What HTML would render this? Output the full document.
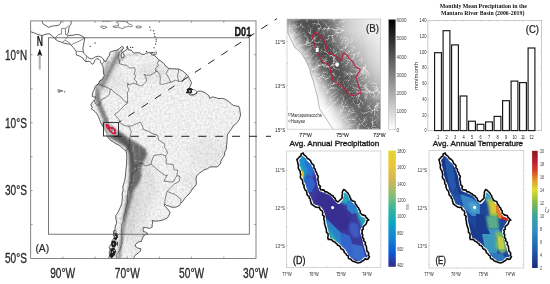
<!DOCTYPE html><html><head><meta charset="utf-8"><style>html,body{margin:0;padding:0;background:#fff;overflow:hidden}svg{display:block}text{font-family:"Liberation Sans",Arial,sans-serif}</style></head><body>
<svg width="550" height="284" viewBox="0 0 550 284">
<defs>
<clipPath id="clipA"><rect x="30.7" y="20.9" width="225.3" height="237.6"/></clipPath>
<clipPath id="clipSA"><path d="M27.5,17.5L27.5,29.0L31.0,31.8L34.6,33.1L37.8,34.5L42.0,35.5L46.1,34.1L49.4,33.8L52.6,36.2L55.8,39.6L58.4,41.3L60.3,41.6L63.5,43.0L67.7,44.0L70.6,44.0L70.9,45.0L73.2,47.4L75.1,49.8L76.4,51.8L76.1,53.5L76.7,55.2L78.3,55.5L80.3,56.5L83.2,58.2L83.8,59.9L85.7,61.6L89.6,61.3L91.2,63.0L92.2,64.3L93.8,63.3L94.7,60.6L96.7,58.6L98.9,59.3L100.2,60.6L100.9,63.0L101.8,64.3L103.1,66.7L103.4,69.8L103.4,72.2L103.8,74.5L104.4,75.5L103.4,77.2L102.2,79.6L99.9,80.6L98.9,82.7L98.3,84.0L96.0,85.4L95.1,86.4L94.7,88.1L93.8,90.5L92.8,92.2L92.5,94.2L92.2,96.3L94.1,97.3L95.4,96.6L95.4,98.6L94.4,100.0L93.8,101.0L92.2,102.4L90.9,104.7L91.5,106.1L92.2,107.5L91.2,108.8L93.1,110.2L95.4,111.9L96.7,113.6L98.3,116.3L99.6,119.7L100.9,123.1L102.5,125.8L103.8,127.8L104.4,129.5L105.4,131.2L106.7,133.6L107.0,135.6L107.9,137.3L109.6,139.4L110.5,140.4L112.8,141.7L116.0,143.8L118.6,145.1L120.8,146.5L123.1,148.5L124.4,149.9L126.3,151.6L126.6,154.3L126.9,157.4L126.6,160.1L126.6,164.1L126.0,168.9L125.6,173.6L125.3,177.0L124.7,180.4L123.7,183.8L122.8,187.2L123.1,190.3L122.1,194.0L122.4,197.4L122.1,200.8L121.8,203.5L120.2,207.6L118.9,210.3L117.3,213.7L115.7,215.4L116.0,219.5L116.6,222.2L116.3,223.9L115.3,226.3L115.0,229.6L114.1,231.3L113.4,234.7L114.4,236.8L113.4,238.8L112.1,240.8L111.8,243.2L110.2,245.6L109.2,247.6L110.2,250.0L109.2,252.7L109.6,255.1L108.9,257.8L109.2,260.5L111.8,263.6L120.8,265.3L132.4,265.3L131.8,260.5L133.4,258.5L134.7,256.1L136.6,254.1L139.2,252.4L140.5,251.0L140.8,248.7L137.6,248.0L135.3,246.3L135.3,244.6L138.5,241.9L141.4,241.5L141.7,240.2L142.7,238.1L143.3,235.8L145.6,234.7L147.9,233.7L145.6,232.0L143.3,231.7L143.0,227.6L145.6,227.6L149.8,228.3L152.4,226.9L152.0,225.6L152.7,222.9L152.0,220.5L154.6,221.2L159.4,220.8L163.6,219.8L167.5,217.8L169.4,214.4L170.1,212.0L168.5,210.3L167.5,208.6L164.6,206.2L164.3,204.9L164.6,203.9L166.2,205.5L168.5,205.9L171.7,207.2L175.9,207.2L179.4,205.5L180.7,203.5L182.9,201.1L184.9,198.1L186.2,196.7L189.1,194.0L191.0,191.3L193.2,187.9L195.8,185.5L196.5,182.5L196.1,180.4L196.1,177.7L197.1,175.3L199.7,173.0L203.5,170.2L207.7,168.6L210.0,166.9L213.5,166.9L217.4,166.9L220.6,163.5L220.9,161.1L222.8,157.7L224.5,155.3L224.8,151.9L226.4,148.9L226.7,144.5L227.0,141.4L227.0,139.0L227.4,134.9L228.6,132.9L231.2,129.5L233.1,126.1L235.4,124.4L237.7,121.7L239.3,119.3L240.2,116.3L240.6,114.2L240.2,112.5L239.6,108.5L238.9,106.4L236.7,106.1L233.5,105.4L231.9,104.4L228.6,101.3L224.8,99.0L222.2,98.3L219.0,98.6L216.7,98.0L212.9,96.9L210.9,97.6L209.7,98.6L209.0,95.9L206.8,93.9L203.9,92.2L201.3,91.2L198.4,91.2L196.8,92.2L195.5,93.9L193.2,95.2L189.7,94.9L187.4,91.2L189.1,88.8L190.3,86.1L191.6,82.7L189.4,78.9L188.1,75.9L186.5,74.2L184.2,72.2L182.3,70.8L180.4,69.8L178.8,69.1L174.9,68.8L172.3,68.8L168.8,68.4L167.5,67.4L165.2,65.7L164.3,64.0L162.3,62.0L160.1,60.6L158.5,59.6L156.2,56.9L154.3,55.5L151.7,54.8L150.8,53.5L152.0,53.1L153.3,52.5L152.0,52.5L148.2,52.8L145.9,53.1L144.3,54.5L141.4,54.2L139.8,52.8L136.9,52.8L133.7,53.1L132.7,51.8L131.1,50.1L128.2,49.8L127.9,47.7L126.6,47.4L127.3,48.7L126.3,49.8L124.0,51.4L122.4,52.1L123.7,53.8L124.0,56.2L123.1,57.9L121.5,57.2L121.1,54.8L122.1,52.5L121.5,51.4L122.1,49.8L123.7,48.4L123.1,47.0L121.8,46.5L121.1,47.0L119.2,48.7L116.3,50.4L113.7,50.8L111.8,51.4L110.2,52.1L109.6,53.5L109.2,56.2L107.9,57.2L106.7,59.6L105.4,62.0L104.7,60.6L103.4,59.3L101.5,57.2L98.3,56.2L95.4,56.9L92.5,58.6L90.9,58.9L88.0,57.6L86.7,56.2L85.4,54.8L84.1,53.5L83.2,51.8L83.2,49.8L82.8,48.1L83.5,45.3L84.1,41.6L84.8,37.9L82.2,36.2L79.6,34.8L76.4,34.5L73.2,35.2L68.7,35.5L66.4,34.8L68.4,32.8L68.7,29.4L69.3,26.0L70.9,24.3L71.3,20.9L72.5,17.5L61.6,17.5L61.3,20.9L60.6,23.3L58.7,25.0L57.1,25.7L54.8,25.7L51.6,26.3L48.4,27.3L46.1,25.7L43.6,24.3L42.6,22.9L42.0,20.9L39.7,17.5Z"/></clipPath>
<filter id="blur2" x="-20%" y="-20%" width="140%" height="140%"><feGaussianBlur stdDeviation="2"/></filter>
<filter id="blur1" x="-20%" y="-20%" width="140%" height="140%"><feGaussianBlur stdDeviation="1"/></filter>
<filter id="blur3" x="-30%" y="-30%" width="160%" height="160%"><feGaussianBlur stdDeviation="3"/></filter>
</defs>
<rect width="550" height="284" fill="#fff"/>
<g clip-path="url(#clipA)">
<path d="M27.5,17.5L27.5,29.0L31.0,31.8L34.6,33.1L37.8,34.5L42.0,35.5L46.1,34.1L49.4,33.8L52.6,36.2L55.8,39.6L58.4,41.3L60.3,41.6L63.5,43.0L67.7,44.0L70.6,44.0L70.9,45.0L73.2,47.4L75.1,49.8L76.4,51.8L76.1,53.5L76.7,55.2L78.3,55.5L80.3,56.5L83.2,58.2L83.8,59.9L85.7,61.6L89.6,61.3L91.2,63.0L92.2,64.3L93.8,63.3L94.7,60.6L96.7,58.6L98.9,59.3L100.2,60.6L100.9,63.0L101.8,64.3L103.1,66.7L103.4,69.8L103.4,72.2L103.8,74.5L104.4,75.5L103.4,77.2L102.2,79.6L99.9,80.6L98.9,82.7L98.3,84.0L96.0,85.4L95.1,86.4L94.7,88.1L93.8,90.5L92.8,92.2L92.5,94.2L92.2,96.3L94.1,97.3L95.4,96.6L95.4,98.6L94.4,100.0L93.8,101.0L92.2,102.4L90.9,104.7L91.5,106.1L92.2,107.5L91.2,108.8L93.1,110.2L95.4,111.9L96.7,113.6L98.3,116.3L99.6,119.7L100.9,123.1L102.5,125.8L103.8,127.8L104.4,129.5L105.4,131.2L106.7,133.6L107.0,135.6L107.9,137.3L109.6,139.4L110.5,140.4L112.8,141.7L116.0,143.8L118.6,145.1L120.8,146.5L123.1,148.5L124.4,149.9L126.3,151.6L126.6,154.3L126.9,157.4L126.6,160.1L126.6,164.1L126.0,168.9L125.6,173.6L125.3,177.0L124.7,180.4L123.7,183.8L122.8,187.2L123.1,190.3L122.1,194.0L122.4,197.4L122.1,200.8L121.8,203.5L120.2,207.6L118.9,210.3L117.3,213.7L115.7,215.4L116.0,219.5L116.6,222.2L116.3,223.9L115.3,226.3L115.0,229.6L114.1,231.3L113.4,234.7L114.4,236.8L113.4,238.8L112.1,240.8L111.8,243.2L110.2,245.6L109.2,247.6L110.2,250.0L109.2,252.7L109.6,255.1L108.9,257.8L109.2,260.5L111.8,263.6L120.8,265.3L132.4,265.3L131.8,260.5L133.4,258.5L134.7,256.1L136.6,254.1L139.2,252.4L140.5,251.0L140.8,248.7L137.6,248.0L135.3,246.3L135.3,244.6L138.5,241.9L141.4,241.5L141.7,240.2L142.7,238.1L143.3,235.8L145.6,234.7L147.9,233.7L145.6,232.0L143.3,231.7L143.0,227.6L145.6,227.6L149.8,228.3L152.4,226.9L152.0,225.6L152.7,222.9L152.0,220.5L154.6,221.2L159.4,220.8L163.6,219.8L167.5,217.8L169.4,214.4L170.1,212.0L168.5,210.3L167.5,208.6L164.6,206.2L164.3,204.9L164.6,203.9L166.2,205.5L168.5,205.9L171.7,207.2L175.9,207.2L179.4,205.5L180.7,203.5L182.9,201.1L184.9,198.1L186.2,196.7L189.1,194.0L191.0,191.3L193.2,187.9L195.8,185.5L196.5,182.5L196.1,180.4L196.1,177.7L197.1,175.3L199.7,173.0L203.5,170.2L207.7,168.6L210.0,166.9L213.5,166.9L217.4,166.9L220.6,163.5L220.9,161.1L222.8,157.7L224.5,155.3L224.8,151.9L226.4,148.9L226.7,144.5L227.0,141.4L227.0,139.0L227.4,134.9L228.6,132.9L231.2,129.5L233.1,126.1L235.4,124.4L237.7,121.7L239.3,119.3L240.2,116.3L240.6,114.2L240.2,112.5L239.6,108.5L238.9,106.4L236.7,106.1L233.5,105.4L231.9,104.4L228.6,101.3L224.8,99.0L222.2,98.3L219.0,98.6L216.7,98.0L212.9,96.9L210.9,97.6L209.7,98.6L209.0,95.9L206.8,93.9L203.9,92.2L201.3,91.2L198.4,91.2L196.8,92.2L195.5,93.9L193.2,95.2L189.7,94.9L187.4,91.2L189.1,88.8L190.3,86.1L191.6,82.7L189.4,78.9L188.1,75.9L186.5,74.2L184.2,72.2L182.3,70.8L180.4,69.8L178.8,69.1L174.9,68.8L172.3,68.8L168.8,68.4L167.5,67.4L165.2,65.7L164.3,64.0L162.3,62.0L160.1,60.6L158.5,59.6L156.2,56.9L154.3,55.5L151.7,54.8L150.8,53.5L152.0,53.1L153.3,52.5L152.0,52.5L148.2,52.8L145.9,53.1L144.3,54.5L141.4,54.2L139.8,52.8L136.9,52.8L133.7,53.1L132.7,51.8L131.1,50.1L128.2,49.8L127.9,47.7L126.6,47.4L127.3,48.7L126.3,49.8L124.0,51.4L122.4,52.1L123.7,53.8L124.0,56.2L123.1,57.9L121.5,57.2L121.1,54.8L122.1,52.5L121.5,51.4L122.1,49.8L123.7,48.4L123.1,47.0L121.8,46.5L121.1,47.0L119.2,48.7L116.3,50.4L113.7,50.8L111.8,51.4L110.2,52.1L109.6,53.5L109.2,56.2L107.9,57.2L106.7,59.6L105.4,62.0L104.7,60.6L103.4,59.3L101.5,57.2L98.3,56.2L95.4,56.9L92.5,58.6L90.9,58.9L88.0,57.6L86.7,56.2L85.4,54.8L84.1,53.5L83.2,51.8L83.2,49.8L82.8,48.1L83.5,45.3L84.1,41.6L84.8,37.9L82.2,36.2L79.6,34.8L76.4,34.5L73.2,35.2L68.7,35.5L66.4,34.8L68.4,32.8L68.7,29.4L69.3,26.0L70.9,24.3L71.3,20.9L72.5,17.5L61.6,17.5L61.3,20.9L60.6,23.3L58.7,25.0L57.1,25.7L54.8,25.7L51.6,26.3L48.4,27.3L46.1,25.7L43.6,24.3L42.6,22.9L42.0,20.9L39.7,17.5Z" fill="#f7f7f7"/>
<filter id="landtex" x="0" y="0" width="100%" height="100%"><feTurbulence type="fractalNoise" baseFrequency="0.45" numOctaves="2" seed="4"/><feColorMatrix type="matrix" values="0 0 0 0 0  0 0 0 0 0  0 0 0 0 0  0.24 0 0 0 -0.085"/></filter>
<g clip-path="url(#clipSA)">
<ellipse cx="207.7" cy="153.3" rx="19.2" ry="17.0" fill="#eeeeee" filter="url(#blur3)"/>
<ellipse cx="153.0" cy="71.8" rx="16.0" ry="8.5" fill="#ebebeb" filter="url(#blur3)"/>
<ellipse cx="191.6" cy="180.4" rx="9.6" ry="10.2" fill="#efefef" filter="url(#blur3)"/>
<ellipse cx="136.9" cy="231.3" rx="9.6" ry="20.4" fill="#ececec" filter="url(#blur3)"/>
<ellipse cx="117.6" cy="82.0" rx="9.6" ry="10.2" fill="#ededed" filter="url(#blur3)"/>
<path d="M128.0,150.0L146.0,150.0L150.0,160.0L147.0,175.0L146.0,195.0L140.0,215.0L132.0,232.0L126.0,240.0L124.0,225.0L127.0,205.0L130.0,185.0L130.0,165.0Z" fill="#dadada" filter="url(#blur3)"/>
<path d="M140.0,165.0L155.0,170.0L158.0,190.0L150.0,210.0L140.0,225.0L135.0,220.0L140.0,200.0Z" fill="#e8e8e8" filter="url(#blur3)"/>
<path d="M104.0,120.0L112.0,125.0L119.0,131.0L129.6,138.6L138.4,143.8L145.5,149.0L147.2,154.4L143.7,161.5L141.5,168.0L141.7,176.0L139.0,183.0L134.0,190.0L131.5,197.0L128.5,197.0L129.3,185.0L129.8,175.0L129.3,163.0L128.8,152.0L124.0,146.0L116.0,141.5L110.0,138.0L105.0,132.0L102.0,126.0Z" fill="#707070" filter="url(#blur1)"/>
<path d="M110.0,128.0L118.0,133.0L126.0,139.0L131.0,146.0L132.0,156.0L133.0,166.0L132.0,178.0L130.5,190.0L129.0,196.0L128.3,192.0L129.6,180.0L130.6,168.0L130.2,156.0L127.5,147.0L121.0,140.5L112.0,134.0Z" fill="#585858" filter="url(#blur1)"/>
<path d="M136.0,146.0L142.0,149.0L145.0,154.0L142.0,160.0L139.0,166.0L137.0,162.0L139.0,156.0Z" fill="#6a6a6a" filter="url(#blur1)"/>
<path d="M127.0,195.0L133.0,195.0L130.0,205.0L128.0,213.0L126.0,220.0L122.5,220.0L124.0,212.0L125.5,204.0Z" fill="#7c7c7c" filter="url(#blur1)"/>
<path d="M122.5,218.0L127.0,218.0L125.0,230.0L123.0,242.0L121.5,252.0L121.0,260.0L117.0,260.0L118.0,250.0L119.5,240.0L121.0,230.0Z" fill="#a0a0a0" filter="url(#blur1)"/>
<path d="M99.5,80.0L98.0,90.0L97.5,97.0L99.0,104.0L101.5,110.0L104.0,116.0L107.0,122.0" fill="none" stroke="#858585" stroke-width="5" stroke-linejoin="round" stroke-linecap="round" filter="url(#blur1)"/>
<path d="M101.0,88.0L106.0,78.0L110.0,70.0L114.0,62.0L118.0,55.0" fill="none" stroke="#c8c8c8" stroke-width="8" stroke-linejoin="round" stroke-linecap="round" filter="url(#blur2)"/>
<path d="M102.0,86.0L106.0,78.0L110.0,70.0L114.0,62.0L118.0,54.0" fill="none" stroke="#8a8a8a" stroke-width="3.4" stroke-linejoin="round" stroke-linecap="round" filter="url(#blur1)"/>
<path d="M101.0,82.0L103.5,75.0L106.5,68.0L108.0,62.0" fill="none" stroke="#a4a4a4" stroke-width="2.4" stroke-linejoin="round" stroke-linecap="round" filter="url(#blur1)"/>
<path d="M118.0,54.0L116.5,50.0L115.5,46.0" fill="none" stroke="#a8a8a8" stroke-width="2.4" stroke-linejoin="round" stroke-linecap="round" filter="url(#blur1)"/>
<path d="M116.0,63.0L121.0,59.0L125.0,56.0" fill="none" stroke="#a8a8a8" stroke-width="2.6" stroke-linejoin="round" stroke-linecap="round" filter="url(#blur1)"/>
<path d="M128.0,54.5L138.0,55.0" fill="none" stroke="#cfcfcf" stroke-width="2.2" stroke-linejoin="round" stroke-linecap="round" filter="url(#blur1)"/>
<path d="M112.5,49.5L115.0,49.0L114.5,51.0L112.5,51.0Z" fill="#a0a0a0" filter="url(#blur1)"/>
<rect x="0" y="0" width="300" height="284" filter="url(#landtex)"/>
<g fill="none" stroke="#fff" stroke-linecap="round" stroke-linejoin="round" stroke-opacity="0.20">
<path d="M119.5,51.5L119.5,50.5L120.5,49.5L119.5,48.5L119.5,47.5L119.5,46.5L119.5,45.5" stroke-width="0.61"/>
<path d="M119.5,56.5L119.5,57.5L120.5,58.5" stroke-width="0.53"/>
<path d="M120.5,57.5L120.5,58.5" stroke-width="0.53"/>
<path d="M120.5,58.5L120.5,59.5L121.5,60.5L121.5,61.5L122.5,61.5L123.5,61.5L124.5,61.5" stroke-width="0.66"/>
<path d="M117.5,61.5L117.5,62.5L117.5,63.5L117.5,64.5L118.5,64.5L119.5,64.5L120.5,64.5L121.5,65.5" stroke-width="0.63"/>
<path d="M108.5,65.5L107.5,64.5L106.5,64.5L105.5,64.5L104.5,64.5" stroke-width="0.70"/>
<path d="M107.5,68.5L106.5,68.5L105.5,67.5" stroke-width="0.64"/>
<path d="M105.5,73.5L105.5,72.5L105.5,71.5L105.5,70.5L105.5,69.5L105.5,68.5L105.5,67.5" stroke-width="0.64"/>
<path d="M103.5,76.5L102.5,76.5" stroke-width="0.52"/>
<path d="M101.5,82.5L101.5,81.5L100.5,80.5L100.5,79.5L100.5,78.5" stroke-width="0.56"/>
<path d="M105.5,84.5L106.5,84.5L107.5,84.5L108.5,84.5" stroke-width="0.55"/>
<path d="M98.5,86.5L98.5,87.5L99.5,88.5L100.5,88.5L101.5,89.5L102.5,90.5L102.5,91.5" stroke-width="0.60"/>
<path d="M100.5,98.5L101.5,97.5L102.5,97.5L103.5,96.5" stroke-width="0.55"/>
<path d="M101.5,101.5L102.5,101.5L103.5,101.5L104.5,101.5L105.5,101.5L106.5,101.5L107.5,101.5L108.5,101.5L109.5,101.5L110.5,101.5L111.5,101.5L112.5,101.5" stroke-width="0.95"/>
<path d="M94.5,102.5L93.5,103.5" stroke-width="0.51"/>
<path d="M100.5,113.5L99.5,113.5L98.5,113.5L97.5,113.5" stroke-width="0.65"/>
<path d="M105.5,123.5L105.5,124.5L105.5,125.5L105.5,126.5L105.5,127.5L105.5,128.5L106.5,129.5L107.5,130.5" stroke-width="0.57"/>
<path d="M109.5,124.5L110.5,124.5L111.5,124.5L112.5,124.5L113.5,124.5L114.5,124.5L115.5,124.5" stroke-width="0.60"/>
<path d="M107.5,129.5L107.5,130.5" stroke-width="0.57"/>
<path d="M107.5,130.5L108.5,131.5L108.5,132.5L108.5,133.5" stroke-width="0.74"/>
<path d="M112.5,130.5L111.5,130.5L110.5,131.5L109.5,132.5" stroke-width="0.53"/>
<path d="M116.5,130.5L116.5,129.5L116.5,128.5L117.5,127.5L117.5,126.5L118.5,126.5L119.5,125.5" stroke-width="0.72"/>
<path d="M109.5,131.5L109.5,132.5" stroke-width="0.53"/>
<path d="M109.5,132.5L109.5,133.5" stroke-width="0.62"/>
<path d="M121.5,132.5L121.5,131.5L121.5,130.5L122.5,130.5" stroke-width="0.84"/>
<path d="M108.5,133.5L107.5,133.5L106.5,133.5L105.5,133.5" stroke-width="0.77"/>
<path d="M109.5,133.5L108.5,133.5" stroke-width="0.74"/>
<path d="M111.5,133.5L110.5,133.5L109.5,133.5" stroke-width="0.62"/>
<path d="M117.5,133.5L117.5,132.5L117.5,131.5L117.5,130.5L117.5,129.5L118.5,128.5L119.5,127.5L120.5,127.5" stroke-width="0.79"/>
<path d="M110.5,134.5L109.5,134.5L109.5,133.5" stroke-width="0.62"/>
<path d="M125.5,135.5L126.5,134.5L127.5,134.5" stroke-width="0.61"/>
<path d="M111.5,138.5L111.5,139.5L110.5,140.5L110.5,141.5" stroke-width="0.58"/>
<path d="M113.5,138.5L113.5,139.5L113.5,140.5" stroke-width="0.50"/>
<path d="M117.5,139.5L116.5,140.5L115.5,141.5L114.5,142.5L113.5,143.5L112.5,143.5L111.5,143.5L110.5,143.5" stroke-width="0.79"/>
<path d="M113.5,140.5L112.5,141.5L112.5,142.5L111.5,142.5L110.5,142.5" stroke-width="0.68"/>
<path d="M114.5,140.5L113.5,140.5" stroke-width="0.50"/>
<path d="M118.5,140.5L117.5,141.5L117.5,142.5L116.5,143.5L115.5,144.5L114.5,144.5L113.5,144.5L112.5,144.5L111.5,144.5" stroke-width="0.58"/>
<path d="M127.5,140.5L127.5,139.5L127.5,138.5L127.5,137.5L127.5,136.5L127.5,135.5L127.5,134.5" stroke-width="0.61"/>
<path d="M131.5,141.5L132.5,140.5L133.5,139.5L133.5,138.5" stroke-width="0.58"/>
<path d="M118.5,142.5L118.5,143.5L118.5,144.5L117.5,145.5L116.5,145.5L116.5,146.5L116.5,147.5" stroke-width="0.67"/>
<path d="M121.5,143.5L121.5,144.5L120.5,145.5L119.5,146.5L118.5,146.5L117.5,146.5L116.5,147.5" stroke-width="0.67"/>
<path d="M132.5,143.5L133.5,142.5L134.5,141.5L134.5,140.5L134.5,139.5L134.5,138.5L134.5,137.5" stroke-width="0.68"/>
<path d="M139.5,144.5L140.5,143.5" stroke-width="0.49"/>
<path d="M122.5,145.5L123.5,146.5L123.5,147.5L124.5,148.5" stroke-width="0.63"/>
<path d="M124.5,146.5L124.5,147.5" stroke-width="0.50"/>
<path d="M138.5,146.5L139.5,145.5L140.5,144.5L140.5,143.5" stroke-width="0.49"/>
<path d="M124.5,147.5L124.5,148.5" stroke-width="0.63"/>
<path d="M125.5,147.5L124.5,147.5" stroke-width="0.50"/>
<path d="M133.5,147.5L133.5,146.5L133.5,145.5L134.5,144.5L135.5,143.5L136.5,142.5L137.5,141.5" stroke-width="0.76"/>
<path d="M142.5,147.5L142.5,146.5L142.5,145.5L142.5,144.5L141.5,143.5" stroke-width="0.71"/>
<path d="M124.5,148.5L123.5,149.5L123.5,150.5" stroke-width="0.69"/>
<path d="M125.5,148.5L124.5,148.5" stroke-width="0.63"/>
<path d="M132.5,148.5L133.5,147.5" stroke-width="0.69"/>
<path d="M133.5,149.5L133.5,148.5L133.5,147.5" stroke-width="0.69"/>
<path d="M132.5,151.5L132.5,150.5L133.5,149.5" stroke-width="0.63"/>
<path d="M146.5,151.5L147.5,151.5L148.5,151.5L149.5,151.5L150.5,152.5L150.5,153.5" stroke-width="0.90"/>
<path d="M126.5,152.5L125.5,152.5L125.5,153.5" stroke-width="0.79"/>
<path d="M128.5,153.5L127.5,154.5L126.5,154.5" stroke-width="0.52"/>
<path d="M134.5,154.5L135.5,153.5L134.5,152.5L134.5,151.5L133.5,150.5L133.5,149.5" stroke-width="0.63"/>
<path d="M127.5,155.5L126.5,154.5" stroke-width="0.52"/>
<path d="M134.5,155.5L134.5,154.5" stroke-width="0.48"/>
<path d="M135.5,155.5L134.5,154.5" stroke-width="0.48"/>
<path d="M126.5,156.5L125.5,156.5" stroke-width="0.67"/>
<path d="M139.5,156.5L139.5,155.5L139.5,154.5L139.5,153.5L139.5,152.5L139.5,151.5L139.5,150.5L139.5,149.5L139.5,148.5L139.5,147.5L139.5,146.5L140.5,145.5L141.5,144.5L141.5,143.5" stroke-width="0.71"/>
<path d="M146.5,156.5L147.5,156.5L148.5,156.5L149.5,155.5" stroke-width="0.57"/>
<path d="M134.5,158.5L135.5,159.5L135.5,160.5" stroke-width="0.57"/>
<path d="M134.5,160.5L135.5,160.5" stroke-width="0.57"/>
<path d="M135.5,160.5L136.5,160.5L137.5,160.5L138.5,161.5L139.5,161.5" stroke-width="0.65"/>
<path d="M139.5,160.5L139.5,161.5" stroke-width="0.65"/>
<path d="M143.5,160.5L144.5,161.5L145.5,161.5" stroke-width="0.51"/>
<path d="M139.5,161.5L140.5,161.5L141.5,161.5L142.5,161.5L143.5,161.5L144.5,162.5L145.5,162.5" stroke-width="0.75"/>
<path d="M127.5,162.5L126.5,162.5L125.5,162.5L124.5,161.5L123.5,161.5L122.5,161.5" stroke-width="0.54"/>
<path d="M134.5,162.5L135.5,161.5L135.5,160.5" stroke-width="0.57"/>
<path d="M137.5,163.5L138.5,163.5L139.5,164.5L140.5,165.5L141.5,166.5L142.5,166.5L143.5,167.5" stroke-width="0.70"/>
<path d="M130.5,166.5L129.5,166.5L128.5,166.5L127.5,166.5L126.5,166.5L125.5,165.5L124.5,165.5" stroke-width="0.62"/>
<path d="M134.5,168.5L135.5,168.5" stroke-width="0.49"/>
<path d="M135.5,168.5L136.5,168.5L137.5,167.5L138.5,167.5L139.5,167.5L140.5,167.5L141.5,167.5L142.5,167.5L143.5,167.5" stroke-width="0.70"/>
<path d="M134.5,169.5L135.5,168.5" stroke-width="0.49"/>
<path d="M138.5,170.5L139.5,170.5L140.5,170.5L141.5,170.5L142.5,170.5L143.5,171.5" stroke-width="0.82"/>
<path d="M140.5,171.5L141.5,171.5L142.5,171.5L143.5,171.5" stroke-width="0.82"/>
<path d="M140.5,172.5L141.5,172.5L142.5,172.5L143.5,172.5" stroke-width="0.84"/>
<path d="M140.5,173.5L141.5,173.5L142.5,173.5L143.5,172.5" stroke-width="0.84"/>
<path d="M133.5,174.5L133.5,175.5L133.5,176.5L133.5,177.5L133.5,178.5L133.5,179.5L133.5,180.5L132.5,181.5L131.5,180.5L130.5,180.5L129.5,180.5L128.5,180.5L127.5,180.5L126.5,181.5" stroke-width="0.84"/>
<path d="M141.5,174.5L142.5,174.5L143.5,174.5L144.5,174.5" stroke-width="0.89"/>
<path d="M139.5,175.5L140.5,176.5L141.5,177.5L142.5,177.5L142.5,178.5" stroke-width="0.55"/>
<path d="M140.5,177.5L141.5,178.5L142.5,178.5" stroke-width="0.55"/>
<path d="M139.5,180.5L140.5,181.5L141.5,181.5L142.5,181.5" stroke-width="0.66"/>
<path d="M132.5,184.5L131.5,184.5L130.5,185.5L129.5,185.5L128.5,185.5L127.5,185.5L126.5,185.5" stroke-width="0.88"/>
<path d="M128.5,186.5L127.5,186.5L126.5,186.5" stroke-width="0.89"/>
<path d="M128.5,191.5L127.5,190.5L126.5,190.5L125.5,190.5" stroke-width="0.93"/>
<path d="M127.5,192.5L126.5,192.5L126.5,193.5" stroke-width="0.54"/>
<path d="M127.5,194.5L126.5,194.5L126.5,193.5" stroke-width="0.54"/>
<path d="M133.5,196.5L134.5,196.5L135.5,196.5L136.5,197.5L137.5,197.5L138.5,196.5L139.5,196.5L140.5,195.5" stroke-width="0.68"/>
<path d="M126.5,198.5L125.5,198.5L124.5,198.5L123.5,198.5" stroke-width="0.49"/>
<path d="M125.5,206.5L124.5,206.5L123.5,206.5L122.5,207.5L121.5,207.5" stroke-width="0.83"/>
<path d="M128.5,211.5L129.5,211.5L130.5,211.5" stroke-width="0.86"/>
<path d="M126.5,218.5L127.5,218.5L127.5,219.5L127.5,220.5L127.5,221.5L127.5,222.5L127.5,223.5L127.5,224.5L127.5,225.5L127.5,226.5" stroke-width="0.64"/>
<path d="M119.5,235.5L119.5,234.5L118.5,233.5L118.5,232.5L118.5,231.5" stroke-width="0.84"/>
<path d="M119.5,240.5L119.5,239.5L119.5,238.5L119.5,237.5L119.5,236.5L119.5,235.5" stroke-width="0.82"/>
<path d="M110.5,246.5L109.5,245.5L109.5,244.5L110.5,243.5L110.5,242.5L110.5,241.5L110.5,240.5" stroke-width="0.67"/>
<path d="M118.5,248.5L118.5,247.5L118.5,246.5L117.5,245.5" stroke-width="0.68"/>
<path d="M109.5,250.5L108.5,250.5" stroke-width="0.53"/>
<path d="M110.5,252.5L109.5,251.5L108.5,251.5L108.5,250.5" stroke-width="0.53"/>
<path d="M117.5,254.5L118.5,254.5L118.5,255.5L119.5,256.5L120.5,256.5L121.5,256.5L122.5,256.5L123.5,256.5L124.5,256.5L125.5,255.5L125.5,254.5" stroke-width="0.68"/>
</g>
<path d="M27.5,17.5L27.5,54.8L102.8,65.0L103.9,61.0L103.4,59.3L106.3,48.1L79.0,14.1Z" fill="#fff"/>
</g>
<path d="M112.9,26.5L115.0,27.5L118.2,27.2L121.8,28.5L122.8,29.0L124.0,27.0L126.6,27.0L128.5,26.2L131.4,27.0L132.6,25.7L130.8,24.5L128.5,24.0L127.6,22.3L124.7,21.4L121.8,21.4L118.2,21.1L116.3,22.1L118.2,23.3L118.6,25.7L116.3,25.8Z" fill="#fff" stroke="#333" stroke-width="0.6"/>
<path d="M100.4,26.7L101.8,26.0L104.7,26.2L107.0,27.3L105.4,28.0L104.1,28.7L102.2,28.0Z" fill="#fff" stroke="#333" stroke-width="0.6"/>
<path d="M136.1,26.3L138.2,26.0L141.4,26.5L141.1,27.7L137.2,27.9L136.3,27.7Z" fill="#fff" stroke="#333" stroke-width="0.6"/>
<path d="M153.3,54.7L154.6,52.1L156.5,52.0L156.2,54.5Z" fill="#fff" stroke="#333" stroke-width="0.6"/>
<path d="M189.1,89.8L193.9,89.5L196.8,91.5L196.5,93.9L193.2,94.6L190.3,93.9Z" fill="#fff" stroke="#333" stroke-width="0.6"/>
<path d="M113.7,230.7L116.0,230.7L116.3,235.8L113.4,235.8Z" fill="#fff" stroke="#333" stroke-width="0.6"/>
<path d="M101.5,19.2L102.5,21.4L104.7,21.1L109.6,21.2L114.1,20.2L114.4,18.9Z" fill="#fff" stroke="#333" stroke-width="0.6"/>
<path d="M57.7,89.8L59.3,89.8L60.0,92.2L58.4,92.2Z" fill="#fff" stroke="#333" stroke-width="0.6"/>
<path d="M60.3,90.1L62.6,90.5L62.2,91.5L60.6,91.5Z" fill="#fff" stroke="#333" stroke-width="0.6"/>
<path d="M64.2,91.5L65.1,91.8L64.5,92.2Z" fill="#fff" stroke="#333" stroke-width="0.6"/>
<circle cx="156.2" cy="41.3" r="0.7" fill="#444"/>
<circle cx="155.6" cy="44.0" r="0.7" fill="#444"/>
<circle cx="154.0" cy="47.7" r="0.7" fill="#444"/>
<circle cx="154.9" cy="36.5" r="0.7" fill="#444"/>
<circle cx="154.3" cy="33.8" r="0.7" fill="#444"/>
<circle cx="153.6" cy="30.7" r="0.7" fill="#444"/>
<circle cx="150.8" cy="30.1" r="0.7" fill="#444"/>
<circle cx="149.8" cy="27.3" r="0.7" fill="#444"/>
<circle cx="156.2" cy="39.2" r="0.7" fill="#444"/>
<circle cx="127.3" cy="46.4" r="0.7" fill="#444"/>
<circle cx="130.5" cy="47.4" r="0.7" fill="#444"/>
<circle cx="132.7" cy="47.4" r="0.7" fill="#444"/>
<circle cx="146.6" cy="51.4" r="0.7" fill="#444"/>
<circle cx="90.2" cy="46.4" r="0.7" fill="#444"/>
<circle cx="95.1" cy="43.0" r="0.7" fill="#444"/>
<path d="M27.5,17.5L27.5,29.0L31.0,31.8L34.6,33.1L37.8,34.5L42.0,35.5L46.1,34.1L49.4,33.8L52.6,36.2L55.8,39.6L58.4,41.3L60.3,41.6L63.5,43.0L67.7,44.0L70.6,44.0L70.9,45.0L73.2,47.4L75.1,49.8L76.4,51.8L76.1,53.5L76.7,55.2L78.3,55.5L80.3,56.5L83.2,58.2L83.8,59.9L85.7,61.6L89.6,61.3L91.2,63.0L92.2,64.3L93.8,63.3L94.7,60.6L96.7,58.6L98.9,59.3L100.2,60.6L100.9,63.0L101.8,64.3L103.1,66.7L103.4,69.8L103.4,72.2L103.8,74.5L104.4,75.5L103.4,77.2L102.2,79.6L99.9,80.6L98.9,82.7L98.3,84.0L96.0,85.4L95.1,86.4L94.7,88.1L93.8,90.5L92.8,92.2L92.5,94.2L92.2,96.3L94.1,97.3L95.4,96.6L95.4,98.6L94.4,100.0L93.8,101.0L92.2,102.4L90.9,104.7L91.5,106.1L92.2,107.5L91.2,108.8L93.1,110.2L95.4,111.9L96.7,113.6L98.3,116.3L99.6,119.7L100.9,123.1L102.5,125.8L103.8,127.8L104.4,129.5L105.4,131.2L106.7,133.6L107.0,135.6L107.9,137.3L109.6,139.4L110.5,140.4L112.8,141.7L116.0,143.8L118.6,145.1L120.8,146.5L123.1,148.5L124.4,149.9L126.3,151.6L126.6,154.3L126.9,157.4L126.6,160.1L126.6,164.1L126.0,168.9L125.6,173.6L125.3,177.0L124.7,180.4L123.7,183.8L122.8,187.2L123.1,190.3L122.1,194.0L122.4,197.4L122.1,200.8L121.8,203.5L120.2,207.6L118.9,210.3L117.3,213.7L115.7,215.4L116.0,219.5L116.6,222.2L116.3,223.9L115.3,226.3L115.0,229.6L114.1,231.3L113.4,234.7L114.4,236.8L113.4,238.8L112.1,240.8L111.8,243.2L110.2,245.6L109.2,247.6L110.2,250.0L109.2,252.7L109.6,255.1L108.9,257.8L109.2,260.5L111.8,263.6L120.8,265.3L132.4,265.3L131.8,260.5L133.4,258.5L134.7,256.1L136.6,254.1L139.2,252.4L140.5,251.0L140.8,248.7L137.6,248.0L135.3,246.3L135.3,244.6L138.5,241.9L141.4,241.5L141.7,240.2L142.7,238.1L143.3,235.8L145.6,234.7L147.9,233.7L145.6,232.0L143.3,231.7L143.0,227.6L145.6,227.6L149.8,228.3L152.4,226.9L152.0,225.6L152.7,222.9L152.0,220.5L154.6,221.2L159.4,220.8L163.6,219.8L167.5,217.8L169.4,214.4L170.1,212.0L168.5,210.3L167.5,208.6L164.6,206.2L164.3,204.9L164.6,203.9L166.2,205.5L168.5,205.9L171.7,207.2L175.9,207.2L179.4,205.5L180.7,203.5L182.9,201.1L184.9,198.1L186.2,196.7L189.1,194.0L191.0,191.3L193.2,187.9L195.8,185.5L196.5,182.5L196.1,180.4L196.1,177.7L197.1,175.3L199.7,173.0L203.5,170.2L207.7,168.6L210.0,166.9L213.5,166.9L217.4,166.9L220.6,163.5L220.9,161.1L222.8,157.7L224.5,155.3L224.8,151.9L226.4,148.9L226.7,144.5L227.0,141.4L227.0,139.0L227.4,134.9L228.6,132.9L231.2,129.5L233.1,126.1L235.4,124.4L237.7,121.7L239.3,119.3L240.2,116.3L240.6,114.2L240.2,112.5L239.6,108.5L238.9,106.4L236.7,106.1L233.5,105.4L231.9,104.4L228.6,101.3L224.8,99.0L222.2,98.3L219.0,98.6L216.7,98.0L212.9,96.9L210.9,97.6L209.7,98.6L209.0,95.9L206.8,93.9L203.9,92.2L201.3,91.2L198.4,91.2L196.8,92.2L195.5,93.9L193.2,95.2L189.7,94.9L187.4,91.2L189.1,88.8L190.3,86.1L191.6,82.7L189.4,78.9L188.1,75.9L186.5,74.2L184.2,72.2L182.3,70.8L180.4,69.8L178.8,69.1L174.9,68.8L172.3,68.8L168.8,68.4L167.5,67.4L165.2,65.7L164.3,64.0L162.3,62.0L160.1,60.6L158.5,59.6L156.2,56.9L154.3,55.5L151.7,54.8L150.8,53.5L152.0,53.1L153.3,52.5L152.0,52.5L148.2,52.8L145.9,53.1L144.3,54.5L141.4,54.2L139.8,52.8L136.9,52.8L133.7,53.1L132.7,51.8L131.1,50.1L128.2,49.8L127.9,47.7L126.6,47.4L127.3,48.7L126.3,49.8L124.0,51.4L122.4,52.1L123.7,53.8L124.0,56.2L123.1,57.9L121.5,57.2L121.1,54.8L122.1,52.5L121.5,51.4L122.1,49.8L123.7,48.4L123.1,47.0L121.8,46.5L121.1,47.0L119.2,48.7L116.3,50.4L113.7,50.8L111.8,51.4L110.2,52.1L109.6,53.5L109.2,56.2L107.9,57.2L106.7,59.6L105.4,62.0L104.7,60.6L103.4,59.3L101.5,57.2L98.3,56.2L95.4,56.9L92.5,58.6L90.9,58.9L88.0,57.6L86.7,56.2L85.4,54.8L84.1,53.5L83.2,51.8L83.2,49.8L82.8,48.1L83.5,45.3L84.1,41.6L84.8,37.9L82.2,36.2L79.6,34.8L76.4,34.5L73.2,35.2L68.7,35.5L66.4,34.8L68.4,32.8L68.7,29.4L69.3,26.0L70.9,24.3L71.3,20.9L72.5,17.5L61.6,17.5L61.3,20.9L60.6,23.3L58.7,25.0L57.1,25.7L54.8,25.7L51.6,26.3L48.4,27.3L46.1,25.7L43.6,24.3L42.6,22.9L42.0,20.9L39.7,17.5Z" fill="none" stroke="#2a2a2a" stroke-width="0.75" stroke-linejoin="round"/>
<path d="M103.4,59.3L104.1,62.0L101.8,64.3" fill="none" stroke="#3a3a3a" stroke-width="0.6" stroke-linejoin="round"/>
<path d="M123.1,48.6L120.2,51.1L119.2,53.1L117.9,57.2L119.5,60.6L119.5,63.7L124.0,65.0L126.9,65.4L129.2,68.1L134.3,67.7L135.3,70.1L134.3,73.5L135.6,76.2L134.3,79.3L136.3,81.0L136.9,83.7L137.2,84.7" fill="none" stroke="#3a3a3a" stroke-width="0.6" stroke-linejoin="round"/>
<path d="M137.2,84.7L133.1,83.0L128.9,85.1L127.9,83.0L127.3,86.7L128.9,88.8L128.5,90.5L127.3,92.2L127.6,95.6L127.6,103.0" fill="none" stroke="#3a3a3a" stroke-width="0.6" stroke-linejoin="round"/>
<path d="M127.6,103.0L125.0,101.7L120.8,96.9L115.3,93.2L111.8,89.5L110.2,89.1" fill="none" stroke="#3a3a3a" stroke-width="0.6" stroke-linejoin="round"/>
<path d="M110.2,89.1L107.0,87.4L103.4,86.1L98.9,84.0" fill="none" stroke="#3a3a3a" stroke-width="0.6" stroke-linejoin="round"/>
<path d="M110.2,89.1L109.6,93.9L106.0,97.6L102.2,99.0L100.2,101.7L99.6,104.7L97.3,105.4L95.4,103.7L94.1,100.3" fill="none" stroke="#3a3a3a" stroke-width="0.6" stroke-linejoin="round"/>
<path d="M127.6,103.0L124.0,105.8L117.9,112.2L115.0,113.9L114.7,114.9L118.9,119.3L119.9,122.7L125.3,126.1L128.5,126.0" fill="none" stroke="#3a3a3a" stroke-width="0.6" stroke-linejoin="round"/>
<path d="M128.5,126.0L131.4,131.2L130.8,133.6L129.5,139.7L129.8,143.8L128.5,147.5" fill="none" stroke="#3a3a3a" stroke-width="0.6" stroke-linejoin="round"/>
<path d="M128.5,147.5L126.0,151.1" fill="none" stroke="#3a3a3a" stroke-width="0.6" stroke-linejoin="round"/>
<path d="M128.5,147.5L130.5,151.6L132.1,155.0L132.1,160.1L134.3,166.2L136.3,166.2" fill="none" stroke="#3a3a3a" stroke-width="0.6" stroke-linejoin="round"/>
<path d="M128.5,126.0L131.4,126.1L140.1,122.0L142.4,125.8L143.3,129.5L148.2,131.2L153.0,133.9L157.8,135.3L158.5,140.0L164.9,144.1L164.6,147.5L166.5,149.9L167.5,153.3L165.2,156.0" fill="none" stroke="#3a3a3a" stroke-width="0.6" stroke-linejoin="round"/>
<path d="M165.2,156.0L162.3,154.3L154.0,155.3L152.0,160.1L151.1,164.1" fill="none" stroke="#3a3a3a" stroke-width="0.6" stroke-linejoin="round"/>
<path d="M151.1,164.1L145.6,166.2L143.3,163.8L139.2,162.8L136.3,166.2" fill="none" stroke="#3a3a3a" stroke-width="0.6" stroke-linejoin="round"/>
<path d="M136.3,166.2L136.9,170.2L132.4,173.6L131.8,180.4L130.5,183.8L127.9,190.6L127.3,197.4L127.6,202.5L126.0,207.6L125.3,212.7L123.7,216.1L124.0,221.2L121.8,224.6L121.5,231.3L121.8,238.1L122.1,243.2L120.8,246.6L119.9,250.0L116.0,255.1L117.0,260.2L119.2,263.6" fill="none" stroke="#3a3a3a" stroke-width="0.6" stroke-linejoin="round"/>
<path d="M151.1,164.1L156.2,168.6L161.1,172.6L165.9,176.0L167.2,175.0L163.9,181.1L170.7,182.1L173.3,181.8L176.8,175.7" fill="none" stroke="#3a3a3a" stroke-width="0.6" stroke-linejoin="round"/>
<path d="M176.8,175.7L179.4,176.0L180.0,178.1L179.4,181.1L174.6,183.8L172.3,185.9L167.2,191.3" fill="none" stroke="#3a3a3a" stroke-width="0.6" stroke-linejoin="round"/>
<path d="M167.2,191.3L165.9,195.7L165.2,199.1L164.6,203.9" fill="none" stroke="#3a3a3a" stroke-width="0.6" stroke-linejoin="round"/>
<path d="M167.2,191.3L172.3,193.7L173.9,193.7L177.1,196.0L181.0,199.4L180.7,203.2" fill="none" stroke="#3a3a3a" stroke-width="0.6" stroke-linejoin="round"/>
<path d="M176.8,175.7L177.8,170.2L174.2,169.9L173.0,164.5L166.2,163.8L166.2,158.7L165.2,156.0" fill="none" stroke="#3a3a3a" stroke-width="0.6" stroke-linejoin="round"/>
<path d="M159.4,59.9L157.2,63.3L158.5,65.7L155.9,67.7L155.6,71.1L157.2,71.1" fill="none" stroke="#3a3a3a" stroke-width="0.6" stroke-linejoin="round"/>
<path d="M157.2,71.1L150.4,75.2L146.6,75.2L144.0,74.5L145.9,77.2L146.6,81.0L141.7,86.1L137.2,84.7" fill="none" stroke="#3a3a3a" stroke-width="0.6" stroke-linejoin="round"/>
<path d="M157.2,71.1L159.8,74.5L160.4,78.6L159.8,84.0L162.7,84.4L165.9,83.4L170.7,82.3" fill="none" stroke="#3a3a3a" stroke-width="0.6" stroke-linejoin="round"/>
<path d="M170.7,82.3L168.5,77.2L166.2,73.5L168.8,68.4" fill="none" stroke="#3a3a3a" stroke-width="0.6" stroke-linejoin="round"/>
<path d="M170.7,82.3L175.5,80.3L178.8,81.3" fill="none" stroke="#3a3a3a" stroke-width="0.6" stroke-linejoin="round"/>
<path d="M178.8,81.3L177.5,76.9L178.8,69.4" fill="none" stroke="#3a3a3a" stroke-width="0.6" stroke-linejoin="round"/>
<path d="M178.8,81.3L182.3,81.3L185.2,76.9L186.5,74.2" fill="none" stroke="#3a3a3a" stroke-width="0.6" stroke-linejoin="round"/>
<path d="M86.7,56.2L85.7,61.6" fill="none" stroke="#3a3a3a" stroke-width="0.6" stroke-linejoin="round"/>
<path d="M83.2,51.8L76.7,51.1" fill="none" stroke="#3a3a3a" stroke-width="0.6" stroke-linejoin="round"/>
<path d="M84.8,37.9L79.0,41.3L73.5,43.6L71.6,45.0" fill="none" stroke="#3a3a3a" stroke-width="0.6" stroke-linejoin="round"/>
<path d="M70.0,43.3L64.8,39.9" fill="none" stroke="#3a3a3a" stroke-width="0.6" stroke-linejoin="round"/>
<path d="M68.7,35.5L65.5,39.2" fill="none" stroke="#3a3a3a" stroke-width="0.6" stroke-linejoin="round"/>
<path d="M64.8,39.9L62.6,42.3" fill="none" stroke="#3a3a3a" stroke-width="0.6" stroke-linejoin="round"/>
<path d="M55.8,39.6L55.8,37.2L58.4,34.5L61.6,34.1L61.6,28.4L65.5,28.4" fill="none" stroke="#3a3a3a" stroke-width="0.6" stroke-linejoin="round"/>
<path d="M65.5,28.4L65.5,34.8" fill="none" stroke="#3a3a3a" stroke-width="0.6" stroke-linejoin="round"/>
<path d="M65.5,28.4L68.4,26.0" fill="none" stroke="#3a3a3a" stroke-width="0.6" stroke-linejoin="round"/>
<path d="M186.5,89.5 L189,87.8 L191.5,88.2 L193.2,89.6 L191.6,90.4 L192.4,92.2 L190,93.6 L188.6,92.4 L187,93.8 L185.8,92.2 L187.4,91Z" fill="#1a1a1a"/>
<path d="M188.8,90.2 L190.6,90.6 L190.2,91.8 L188.9,91.5Z" fill="#fff"/>
<path d="M114.2,232.5L117.5,233.5L118.0,237.0L116.0,240.5L113.8,239.0L114.8,236.0Z" fill="#1e1e1e" filter="url(#fb0_6)"/>
<path d="M111.8,241.0L115.2,240.2L116.6,244.0L115.0,247.5L112.2,247.5L111.0,244.5Z" fill="#1e1e1e" filter="url(#fb0_6)"/>
<path d="M110.2,248.5L114.5,247.8L116.2,251.5L114.5,255.5L111.5,258.5L109.5,256.0L110.5,252.5Z" fill="#1e1e1e" filter="url(#fb0_6)"/>
<path d="M116.8,241.5L118.0,242.0L117.6,246.0L116.6,245.0Z" fill="#1e1e1e" filter="url(#fb0_6)"/>
<circle cx="115.5" cy="236.5" r="0.7" fill="#ddd"/>
<circle cx="113.5" cy="244.0" r="0.7" fill="#ddd"/>
<circle cx="112.5" cy="252.0" r="0.7" fill="#ddd"/>
<circle cx="114.3" cy="250.5" r="0.7" fill="#ddd"/>
</g>
<rect x="30.7" y="20.9" width="225.3" height="237.6" fill="none" stroke="#666" stroke-width="0.8"/>
<rect x="48.4" y="37.8" width="200.9" height="196.4" fill="none" stroke="#555" stroke-width="0.8"/>
<line x1="30.7" y1="54.8" x2="32.7" y2="54.8" stroke="#666" stroke-width="0.6"/>
<line x1="30.7" y1="88.8" x2="32.7" y2="88.8" stroke="#666" stroke-width="0.6"/>
<line x1="30.7" y1="122.7" x2="32.7" y2="122.7" stroke="#666" stroke-width="0.6"/>
<line x1="30.7" y1="156.7" x2="32.7" y2="156.7" stroke="#666" stroke-width="0.6"/>
<line x1="30.7" y1="190.6" x2="32.7" y2="190.6" stroke="#666" stroke-width="0.6"/>
<line x1="30.7" y1="224.6" x2="32.7" y2="224.6" stroke="#666" stroke-width="0.6"/>
<line x1="254.0" y1="54.8" x2="256.0" y2="54.8" stroke="#666" stroke-width="0.6"/>
<line x1="254.0" y1="88.8" x2="256.0" y2="88.8" stroke="#666" stroke-width="0.6"/>
<line x1="254.0" y1="122.7" x2="256.0" y2="122.7" stroke="#666" stroke-width="0.6"/>
<line x1="254.0" y1="156.7" x2="256.0" y2="156.7" stroke="#666" stroke-width="0.6"/>
<line x1="254.0" y1="190.6" x2="256.0" y2="190.6" stroke="#666" stroke-width="0.6"/>
<line x1="254.0" y1="224.6" x2="256.0" y2="224.6" stroke="#666" stroke-width="0.6"/>
<line x1="62.9" y1="258.5" x2="62.9" y2="256.5" stroke="#666" stroke-width="0.6"/>
<line x1="62.9" y1="20.9" x2="62.9" y2="22.9" stroke="#666" stroke-width="0.6"/>
<line x1="95.1" y1="258.5" x2="95.1" y2="256.5" stroke="#666" stroke-width="0.6"/>
<line x1="95.1" y1="20.9" x2="95.1" y2="22.9" stroke="#666" stroke-width="0.6"/>
<line x1="127.3" y1="258.5" x2="127.3" y2="256.5" stroke="#666" stroke-width="0.6"/>
<line x1="127.3" y1="20.9" x2="127.3" y2="22.9" stroke="#666" stroke-width="0.6"/>
<line x1="159.4" y1="258.5" x2="159.4" y2="256.5" stroke="#666" stroke-width="0.6"/>
<line x1="159.4" y1="20.9" x2="159.4" y2="22.9" stroke="#666" stroke-width="0.6"/>
<line x1="191.6" y1="258.5" x2="191.6" y2="256.5" stroke="#666" stroke-width="0.6"/>
<line x1="191.6" y1="20.9" x2="191.6" y2="22.9" stroke="#666" stroke-width="0.6"/>
<line x1="223.8" y1="258.5" x2="223.8" y2="256.5" stroke="#666" stroke-width="0.6"/>
<line x1="223.8" y1="20.9" x2="223.8" y2="22.9" stroke="#666" stroke-width="0.6"/>
<text x="27.0" y="59.8" font-size="13.80" text-anchor="end" textLength="22.0" lengthAdjust="spacingAndGlyphs" fill="#2a2a2a" stroke="#2a2a2a" stroke-width="0.3">10°N</text>
<text x="27.0" y="128.4" font-size="13.80" text-anchor="end" textLength="22.0" lengthAdjust="spacingAndGlyphs" fill="#2a2a2a" stroke="#2a2a2a" stroke-width="0.3">10°S</text>
<text x="27.0" y="195.2" font-size="13.80" text-anchor="end" textLength="22.0" lengthAdjust="spacingAndGlyphs" fill="#2a2a2a" stroke="#2a2a2a" stroke-width="0.3">30°S</text>
<text x="27.0" y="263.4" font-size="13.80" text-anchor="end" textLength="22.0" lengthAdjust="spacingAndGlyphs" fill="#2a2a2a" stroke="#2a2a2a" stroke-width="0.3">50°S</text>
<text x="62.7" y="277.8" font-size="13.80" text-anchor="middle" textLength="25.0" lengthAdjust="spacingAndGlyphs" fill="#2a2a2a" stroke="#2a2a2a" stroke-width="0.3">90°W</text>
<text x="127.3" y="277.8" font-size="13.80" text-anchor="middle" textLength="25.0" lengthAdjust="spacingAndGlyphs" fill="#2a2a2a" stroke="#2a2a2a" stroke-width="0.3">70°W</text>
<text x="191.6" y="277.8" font-size="13.80" text-anchor="middle" textLength="25.0" lengthAdjust="spacingAndGlyphs" fill="#2a2a2a" stroke="#2a2a2a" stroke-width="0.3">50°W</text>
<text x="255.6" y="277.8" font-size="13.80" text-anchor="middle" textLength="25.0" lengthAdjust="spacingAndGlyphs" fill="#2a2a2a" stroke="#2a2a2a" stroke-width="0.3">30°W</text>
<text x="35.4" y="252.0" font-size="10.40" textLength="13.8" lengthAdjust="spacingAndGlyphs" fill="#2a2a2a" stroke="#2a2a2a" stroke-width="0.2">(A)</text>
<text x="234.4" y="35.9" font-size="12.80" textLength="16.9" lengthAdjust="spacingAndGlyphs" font-weight="bold" fill="#111" stroke="#111" stroke-width="0.35">D01</text>
<text x="36.7" y="46.3" font-size="14.40" textLength="6.3" lengthAdjust="spacingAndGlyphs" font-weight="bold" fill="#111">N</text>
<line x1="39.75" y1="54" x2="39.75" y2="69.6" stroke="#b0b0b0" stroke-width="2"/>
<path d="M39.75,48.7 L42.4,56.2 L39.75,54.3 L37.1,56.2Z" fill="#111"/>
<rect x="103.5" y="122.6" width="15" height="13.4" fill="#fff" fill-opacity="0.45" stroke="#222" stroke-width="0.9"/>
<path d="M107.01,124.60L107.19,124.74L107.51,124.90L107.74,125.12L107.95,125.26L108.17,125.40L108.50,125.75L108.67,126.03L108.84,126.31L108.95,126.60L109.01,127.03L109.28,127.52L109.82,127.66L110.38,127.80L110.92,128.08L111.19,128.32L111.51,128.53L111.82,128.30L111.92,128.01L112.04,127.60L112.15,127.52L112.47,127.66L112.81,127.88L113.14,128.30L113.47,128.51L113.80,128.72L114.03,129.01L114.24,129.36L114.46,129.57L114.79,129.64L115.12,129.78L115.19,129.92L115.01,130.13L114.79,130.34L114.61,130.55L114.42,130.75L114.39,130.91L114.61,131.36L114.82,131.92L115.05,132.42L115.26,132.77L115.38,132.99L115.16,133.12L114.82,133.05L114.61,133.19L114.28,133.34L113.95,133.40L113.50,133.34L113.17,133.19L112.85,133.05L112.51,132.77L112.19,132.42L111.85,132.21L111.41,131.92L110.97,131.71L110.65,131.57L110.30,131.50L110.09,131.07L109.94,130.65L109.75,130.16L109.65,129.66L109.42,129.24L109.10,128.96L108.65,128.89L108.21,128.75L108.00,128.40L107.66,127.97L107.34,127.55L107.19,127.16L106.96,126.88L106.75,126.46L106.64,126.03L106.49,125.68L106.41,125.33L106.30,125.12L106.53,124.98L106.85,124.70Z" fill="#e8f0ec" stroke="#d4143c" stroke-width="1.6" stroke-linejoin="round"/>
<ellipse cx="112.0" cy="130.2" rx="1.3" ry="1.0" fill="#3aa088"/>
<line x1="118.5" y1="122.6" x2="277" y2="18.6" stroke="#222" stroke-width="1" stroke-dasharray="7.5,8.4" stroke-dashoffset="4.1"/>
<line x1="113.8" y1="136.3" x2="271" y2="136.3" stroke="#222" stroke-width="1" stroke-dasharray="8,8.9"/>
<clipPath id="clipB"><rect x="287.0" y="19.0" width="93.7" height="110.2"/></clipPath>
<filter id="bblur" x="-10%" y="-10%" width="120%" height="120%"><feGaussianBlur stdDeviation="2.6"/></filter>
<g clip-path="url(#clipB)">
<g filter="url(#bblur)">
<rect x="283" y="16" width="11" height="10" fill="rgb(150,150,150)"/>
<rect x="294" y="16" width="8" height="10" fill="rgb(88,88,88)"/>
<rect x="302" y="16" width="8" height="10" fill="rgb(78,78,78)"/>
<rect x="310" y="16" width="8" height="10" fill="rgb(82,82,82)"/>
<rect x="318" y="16" width="8" height="10" fill="rgb(92,92,92)"/>
<rect x="326" y="16" width="8" height="10" fill="rgb(112,112,112)"/>
<rect x="334" y="16" width="8" height="10" fill="rgb(150,150,150)"/>
<rect x="342" y="16" width="8" height="10" fill="rgb(200,200,200)"/>
<rect x="350" y="16" width="8" height="10" fill="rgb(215,215,215)"/>
<rect x="358" y="16" width="8" height="10" fill="rgb(225,225,225)"/>
<rect x="366" y="16" width="8" height="10" fill="rgb(235,235,235)"/>
<rect x="374" y="16" width="12" height="10" fill="rgb(240,240,240)"/>
<rect x="283" y="26" width="11" height="8" fill="rgb(200,200,200)"/>
<rect x="294" y="26" width="8" height="8" fill="rgb(108,108,108)"/>
<rect x="302" y="26" width="8" height="8" fill="rgb(82,82,82)"/>
<rect x="310" y="26" width="8" height="8" fill="rgb(78,78,78)"/>
<rect x="318" y="26" width="8" height="8" fill="rgb(84,84,84)"/>
<rect x="326" y="26" width="8" height="8" fill="rgb(108,108,108)"/>
<rect x="334" y="26" width="8" height="8" fill="rgb(160,160,160)"/>
<rect x="342" y="26" width="8" height="8" fill="rgb(200,200,200)"/>
<rect x="350" y="26" width="8" height="8" fill="rgb(215,215,215)"/>
<rect x="358" y="26" width="8" height="8" fill="rgb(225,225,225)"/>
<rect x="366" y="26" width="8" height="8" fill="rgb(235,235,235)"/>
<rect x="374" y="26" width="12" height="8" fill="rgb(240,240,240)"/>
<rect x="283" y="34" width="11" height="8" fill="rgb(255,255,255)"/>
<rect x="294" y="34" width="8" height="8" fill="rgb(150,150,150)"/>
<rect x="302" y="34" width="8" height="8" fill="rgb(90,90,90)"/>
<rect x="310" y="34" width="8" height="8" fill="rgb(75,75,75)"/>
<rect x="318" y="34" width="8" height="8" fill="rgb(80,80,80)"/>
<rect x="326" y="34" width="8" height="8" fill="rgb(100,100,100)"/>
<rect x="334" y="34" width="8" height="8" fill="rgb(140,140,140)"/>
<rect x="342" y="34" width="8" height="8" fill="rgb(185,185,185)"/>
<rect x="350" y="34" width="8" height="8" fill="rgb(205,205,205)"/>
<rect x="358" y="34" width="8" height="8" fill="rgb(215,215,215)"/>
<rect x="366" y="34" width="8" height="8" fill="rgb(230,230,230)"/>
<rect x="374" y="34" width="12" height="8" fill="rgb(235,235,235)"/>
<rect x="283" y="42" width="11" height="8" fill="rgb(255,255,255)"/>
<rect x="294" y="42" width="8" height="8" fill="rgb(210,210,210)"/>
<rect x="302" y="42" width="8" height="8" fill="rgb(125,125,125)"/>
<rect x="310" y="42" width="8" height="8" fill="rgb(84,84,84)"/>
<rect x="318" y="42" width="8" height="8" fill="rgb(75,75,75)"/>
<rect x="326" y="42" width="8" height="8" fill="rgb(85,85,85)"/>
<rect x="334" y="42" width="8" height="8" fill="rgb(120,120,120)"/>
<rect x="342" y="42" width="8" height="8" fill="rgb(165,165,165)"/>
<rect x="350" y="42" width="8" height="8" fill="rgb(190,190,190)"/>
<rect x="358" y="42" width="8" height="8" fill="rgb(205,205,205)"/>
<rect x="366" y="42" width="8" height="8" fill="rgb(220,220,220)"/>
<rect x="374" y="42" width="12" height="8" fill="rgb(230,230,230)"/>
<rect x="283" y="50" width="11" height="8" fill="rgb(255,255,255)"/>
<rect x="294" y="50" width="8" height="8" fill="rgb(250,250,250)"/>
<rect x="302" y="50" width="8" height="8" fill="rgb(170,170,170)"/>
<rect x="310" y="50" width="8" height="8" fill="rgb(100,100,100)"/>
<rect x="318" y="50" width="8" height="8" fill="rgb(80,80,80)"/>
<rect x="326" y="50" width="8" height="8" fill="rgb(80,80,80)"/>
<rect x="334" y="50" width="8" height="8" fill="rgb(100,100,100)"/>
<rect x="342" y="50" width="8" height="8" fill="rgb(140,140,140)"/>
<rect x="350" y="50" width="8" height="8" fill="rgb(175,175,175)"/>
<rect x="358" y="50" width="8" height="8" fill="rgb(195,195,195)"/>
<rect x="366" y="50" width="8" height="8" fill="rgb(215,215,215)"/>
<rect x="374" y="50" width="12" height="8" fill="rgb(225,225,225)"/>
<rect x="283" y="58" width="11" height="8" fill="rgb(255,255,255)"/>
<rect x="294" y="58" width="8" height="8" fill="rgb(255,255,255)"/>
<rect x="302" y="58" width="8" height="8" fill="rgb(215,215,215)"/>
<rect x="310" y="58" width="8" height="8" fill="rgb(130,130,130)"/>
<rect x="318" y="58" width="8" height="8" fill="rgb(90,90,90)"/>
<rect x="326" y="58" width="8" height="8" fill="rgb(80,80,80)"/>
<rect x="334" y="58" width="8" height="8" fill="rgb(85,85,85)"/>
<rect x="342" y="58" width="8" height="8" fill="rgb(115,115,115)"/>
<rect x="350" y="58" width="8" height="8" fill="rgb(150,150,150)"/>
<rect x="358" y="58" width="8" height="8" fill="rgb(180,180,180)"/>
<rect x="366" y="58" width="8" height="8" fill="rgb(205,205,205)"/>
<rect x="374" y="58" width="12" height="8" fill="rgb(220,220,220)"/>
<rect x="283" y="66" width="11" height="8" fill="rgb(255,255,255)"/>
<rect x="294" y="66" width="8" height="8" fill="rgb(255,255,255)"/>
<rect x="302" y="66" width="8" height="8" fill="rgb(245,245,245)"/>
<rect x="310" y="66" width="8" height="8" fill="rgb(170,170,170)"/>
<rect x="318" y="66" width="8" height="8" fill="rgb(110,110,110)"/>
<rect x="326" y="66" width="8" height="8" fill="rgb(88,88,88)"/>
<rect x="334" y="66" width="8" height="8" fill="rgb(80,80,80)"/>
<rect x="342" y="66" width="8" height="8" fill="rgb(100,100,100)"/>
<rect x="350" y="66" width="8" height="8" fill="rgb(130,130,130)"/>
<rect x="358" y="66" width="8" height="8" fill="rgb(165,165,165)"/>
<rect x="366" y="66" width="8" height="8" fill="rgb(195,195,195)"/>
<rect x="374" y="66" width="12" height="8" fill="rgb(210,210,210)"/>
<rect x="283" y="74" width="11" height="8" fill="rgb(255,255,255)"/>
<rect x="294" y="74" width="8" height="8" fill="rgb(255,255,255)"/>
<rect x="302" y="74" width="8" height="8" fill="rgb(255,255,255)"/>
<rect x="310" y="74" width="8" height="8" fill="rgb(230,230,230)"/>
<rect x="318" y="74" width="8" height="8" fill="rgb(150,150,150)"/>
<rect x="326" y="74" width="8" height="8" fill="rgb(95,95,95)"/>
<rect x="334" y="74" width="8" height="8" fill="rgb(80,80,80)"/>
<rect x="342" y="74" width="8" height="8" fill="rgb(85,85,85)"/>
<rect x="350" y="74" width="8" height="8" fill="rgb(110,110,110)"/>
<rect x="358" y="74" width="8" height="8" fill="rgb(150,150,150)"/>
<rect x="366" y="74" width="8" height="8" fill="rgb(180,180,180)"/>
<rect x="374" y="74" width="12" height="8" fill="rgb(200,200,200)"/>
<rect x="283" y="82" width="11" height="8" fill="rgb(255,255,255)"/>
<rect x="294" y="82" width="8" height="8" fill="rgb(255,255,255)"/>
<rect x="302" y="82" width="8" height="8" fill="rgb(255,255,255)"/>
<rect x="310" y="82" width="8" height="8" fill="rgb(255,255,255)"/>
<rect x="318" y="82" width="8" height="8" fill="rgb(200,200,200)"/>
<rect x="326" y="82" width="8" height="8" fill="rgb(130,130,130)"/>
<rect x="334" y="82" width="8" height="8" fill="rgb(90,90,90)"/>
<rect x="342" y="82" width="8" height="8" fill="rgb(85,85,85)"/>
<rect x="350" y="82" width="8" height="8" fill="rgb(100,100,100)"/>
<rect x="358" y="82" width="8" height="8" fill="rgb(130,130,130)"/>
<rect x="366" y="82" width="8" height="8" fill="rgb(160,160,160)"/>
<rect x="374" y="82" width="12" height="8" fill="rgb(185,185,185)"/>
<rect x="283" y="90" width="11" height="8" fill="rgb(255,255,255)"/>
<rect x="294" y="90" width="8" height="8" fill="rgb(255,255,255)"/>
<rect x="302" y="90" width="8" height="8" fill="rgb(255,255,255)"/>
<rect x="310" y="90" width="8" height="8" fill="rgb(255,255,255)"/>
<rect x="318" y="90" width="8" height="8" fill="rgb(225,225,225)"/>
<rect x="326" y="90" width="8" height="8" fill="rgb(165,165,165)"/>
<rect x="334" y="90" width="8" height="8" fill="rgb(110,110,110)"/>
<rect x="342" y="90" width="8" height="8" fill="rgb(85,85,85)"/>
<rect x="350" y="90" width="8" height="8" fill="rgb(90,90,90)"/>
<rect x="358" y="90" width="8" height="8" fill="rgb(115,115,115)"/>
<rect x="366" y="90" width="8" height="8" fill="rgb(145,145,145)"/>
<rect x="374" y="90" width="12" height="8" fill="rgb(170,170,170)"/>
<rect x="283" y="98" width="11" height="8" fill="rgb(255,255,255)"/>
<rect x="294" y="98" width="8" height="8" fill="rgb(255,255,255)"/>
<rect x="302" y="98" width="8" height="8" fill="rgb(255,255,255)"/>
<rect x="310" y="98" width="8" height="8" fill="rgb(255,255,255)"/>
<rect x="318" y="98" width="8" height="8" fill="rgb(245,245,245)"/>
<rect x="326" y="98" width="8" height="8" fill="rgb(200,200,200)"/>
<rect x="334" y="98" width="8" height="8" fill="rgb(140,140,140)"/>
<rect x="342" y="98" width="8" height="8" fill="rgb(100,100,100)"/>
<rect x="350" y="98" width="8" height="8" fill="rgb(90,90,90)"/>
<rect x="358" y="98" width="8" height="8" fill="rgb(100,100,100)"/>
<rect x="366" y="98" width="8" height="8" fill="rgb(130,130,130)"/>
<rect x="374" y="98" width="12" height="8" fill="rgb(150,150,150)"/>
<rect x="283" y="106" width="11" height="8" fill="rgb(255,255,255)"/>
<rect x="294" y="106" width="8" height="8" fill="rgb(255,255,255)"/>
<rect x="302" y="106" width="8" height="8" fill="rgb(255,255,255)"/>
<rect x="310" y="106" width="8" height="8" fill="rgb(255,255,255)"/>
<rect x="318" y="106" width="8" height="8" fill="rgb(255,255,255)"/>
<rect x="326" y="106" width="8" height="8" fill="rgb(240,240,240)"/>
<rect x="334" y="106" width="8" height="8" fill="rgb(200,200,200)"/>
<rect x="342" y="106" width="8" height="8" fill="rgb(150,150,150)"/>
<rect x="350" y="106" width="8" height="8" fill="rgb(110,110,110)"/>
<rect x="358" y="106" width="8" height="8" fill="rgb(95,95,95)"/>
<rect x="366" y="106" width="8" height="8" fill="rgb(110,110,110)"/>
<rect x="374" y="106" width="12" height="8" fill="rgb(130,130,130)"/>
<rect x="283" y="114" width="11" height="8" fill="rgb(255,255,255)"/>
<rect x="294" y="114" width="8" height="8" fill="rgb(255,255,255)"/>
<rect x="302" y="114" width="8" height="8" fill="rgb(255,255,255)"/>
<rect x="310" y="114" width="8" height="8" fill="rgb(255,255,255)"/>
<rect x="318" y="114" width="8" height="8" fill="rgb(255,255,255)"/>
<rect x="326" y="114" width="8" height="8" fill="rgb(250,250,250)"/>
<rect x="334" y="114" width="8" height="8" fill="rgb(225,225,225)"/>
<rect x="342" y="114" width="8" height="8" fill="rgb(175,175,175)"/>
<rect x="350" y="114" width="8" height="8" fill="rgb(125,125,125)"/>
<rect x="358" y="114" width="8" height="8" fill="rgb(100,100,100)"/>
<rect x="366" y="114" width="8" height="8" fill="rgb(105,105,105)"/>
<rect x="374" y="114" width="12" height="8" fill="rgb(120,120,120)"/>
<rect x="283" y="122" width="11" height="12" fill="rgb(255,255,255)"/>
<rect x="294" y="122" width="8" height="12" fill="rgb(255,255,255)"/>
<rect x="302" y="122" width="8" height="12" fill="rgb(255,255,255)"/>
<rect x="310" y="122" width="8" height="12" fill="rgb(255,255,255)"/>
<rect x="318" y="122" width="8" height="12" fill="rgb(255,255,255)"/>
<rect x="326" y="122" width="8" height="12" fill="rgb(255,255,255)"/>
<rect x="334" y="122" width="8" height="12" fill="rgb(245,245,245)"/>
<rect x="342" y="122" width="8" height="12" fill="rgb(205,205,205)"/>
<rect x="350" y="122" width="8" height="12" fill="rgb(150,150,150)"/>
<rect x="358" y="122" width="8" height="12" fill="rgb(110,110,110)"/>
<rect x="366" y="122" width="8" height="12" fill="rgb(100,100,100)"/>
<rect x="374" y="122" width="12" height="12" fill="rgb(110,110,110)"/>
</g>
<g fill="none" stroke="#fff" stroke-linecap="round" stroke-linejoin="round" stroke-opacity="0.32">
<path d="M294.5,19.5L293.5,19.5" stroke-width="0.69"/>
<path d="M298.5,19.5L297.5,20.5L296.5,20.5L295.5,20.5L294.5,20.5L293.5,19.5" stroke-width="0.69"/>
<path d="M299.5,19.5L298.5,19.5" stroke-width="0.51"/>
<path d="M312.5,19.5L313.5,19.5L314.5,19.5" stroke-width="0.55"/>
<path d="M320.5,19.5L321.5,20.5L322.5,21.5L323.5,22.5L324.5,22.5L324.5,23.5L325.5,24.5L326.5,25.5" stroke-width="0.80"/>
<path d="M333.5,19.5L334.5,19.5" stroke-width="0.81"/>
<path d="M335.5,19.5L334.5,19.5" stroke-width="0.81"/>
<path d="M341.5,19.5L342.5,19.5L343.5,19.5L344.5,19.5" stroke-width="0.88"/>
<path d="M299.5,20.5L298.5,19.5" stroke-width="0.51"/>
<path d="M305.5,20.5L306.5,20.5" stroke-width="0.56"/>
<path d="M306.5,20.5L307.5,19.5" stroke-width="0.69"/>
<path d="M317.5,20.5L318.5,20.5L318.5,21.5L318.5,22.5L318.5,23.5" stroke-width="0.77"/>
<path d="M333.5,20.5L333.5,19.5" stroke-width="0.71"/>
<path d="M289.5,21.5L289.5,22.5L289.5,23.5L289.5,24.5L289.5,25.5" stroke-width="0.72"/>
<path d="M305.5,21.5L306.5,20.5" stroke-width="0.56"/>
<path d="M328.5,21.5L329.5,20.5L330.5,20.5L331.5,19.5L332.5,19.5L333.5,19.5" stroke-width="0.71"/>
<path d="M331.5,21.5L332.5,20.5L333.5,19.5" stroke-width="0.71"/>
<path d="M339.5,21.5L340.5,21.5" stroke-width="0.56"/>
<path d="M340.5,21.5L341.5,21.5" stroke-width="0.70"/>
<path d="M341.5,21.5L342.5,21.5L343.5,21.5" stroke-width="0.77"/>
<path d="M343.5,21.5L344.5,20.5L344.5,19.5" stroke-width="0.88"/>
<path d="M307.5,22.5L307.5,21.5L307.5,20.5L307.5,19.5" stroke-width="0.69"/>
<path d="M334.5,22.5L334.5,21.5L334.5,20.5L334.5,19.5" stroke-width="0.81"/>
<path d="M338.5,22.5L339.5,22.5L340.5,21.5" stroke-width="0.56"/>
<path d="M342.5,22.5L343.5,22.5L343.5,21.5" stroke-width="0.77"/>
<path d="M294.5,23.5L293.5,24.5L292.5,25.5" stroke-width="0.71"/>
<path d="M297.5,23.5L296.5,23.5L295.5,24.5L294.5,24.5L293.5,25.5" stroke-width="0.66"/>
<path d="M301.5,23.5L300.5,23.5L300.5,24.5" stroke-width="0.61"/>
<path d="M312.5,23.5L313.5,23.5L314.5,23.5" stroke-width="0.62"/>
<path d="M314.5,23.5L315.5,23.5L316.5,23.5L317.5,23.5L318.5,23.5" stroke-width="0.77"/>
<path d="M318.5,23.5L319.5,24.5" stroke-width="0.83"/>
<path d="M326.5,23.5L326.5,24.5L326.5,25.5" stroke-width="0.80"/>
<path d="M296.5,24.5L295.5,25.5" stroke-width="0.51"/>
<path d="M300.5,24.5L300.5,25.5" stroke-width="0.80"/>
<path d="M301.5,24.5L300.5,24.5" stroke-width="0.61"/>
<path d="M316.5,24.5L317.5,24.5" stroke-width="0.51"/>
<path d="M317.5,24.5L318.5,24.5L319.5,24.5" stroke-width="0.83"/>
<path d="M319.5,24.5L320.5,25.5L320.5,26.5L320.5,27.5" stroke-width="0.98"/>
<path d="M336.5,24.5L337.5,24.5L338.5,24.5L339.5,23.5L340.5,22.5L341.5,21.5" stroke-width="0.70"/>
<path d="M289.5,25.5L289.5,26.5L289.5,27.5" stroke-width="0.89"/>
<path d="M290.5,25.5L289.5,25.5" stroke-width="0.72"/>
<path d="M292.5,25.5L291.5,26.5L290.5,27.5L289.5,27.5" stroke-width="0.89"/>
<path d="M293.5,25.5L292.5,25.5" stroke-width="0.71"/>
<path d="M295.5,25.5L294.5,25.5L293.5,25.5" stroke-width="0.66"/>
<path d="M296.5,25.5L295.5,25.5" stroke-width="0.51"/>
<path d="M300.5,25.5L299.5,26.5L298.5,26.5L297.5,26.5L296.5,26.5L295.5,26.5L294.5,27.5" stroke-width="0.85"/>
<path d="M308.5,25.5L308.5,26.5L309.5,27.5L310.5,28.5L310.5,29.5" stroke-width="0.67"/>
<path d="M313.5,25.5L313.5,24.5L314.5,23.5" stroke-width="0.62"/>
<path d="M316.5,25.5L317.5,24.5" stroke-width="0.51"/>
<path d="M326.5,25.5L327.5,26.5L328.5,27.5" stroke-width="0.86"/>
<path d="M330.5,25.5L329.5,26.5L328.5,26.5L328.5,27.5" stroke-width="0.86"/>
<path d="M342.5,25.5L343.5,26.5" stroke-width="0.62"/>
<path d="M302.5,26.5L301.5,25.5L300.5,25.5" stroke-width="0.80"/>
<path d="M303.5,26.5L302.5,26.5" stroke-width="0.66"/>
<path d="M342.5,26.5L343.5,26.5" stroke-width="0.62"/>
<path d="M289.5,27.5L289.5,28.5L289.5,29.5" stroke-width="1.03"/>
<path d="M294.5,27.5L293.5,28.5L292.5,28.5L291.5,28.5L290.5,28.5L289.5,29.5" stroke-width="1.03"/>
<path d="M298.5,27.5L297.5,27.5L296.5,27.5L295.5,27.5L294.5,27.5" stroke-width="0.85"/>
<path d="M304.5,27.5L303.5,27.5L302.5,27.5L302.5,26.5" stroke-width="0.66"/>
<path d="M312.5,27.5L311.5,28.5L310.5,29.5" stroke-width="0.67"/>
<path d="M317.5,27.5L318.5,27.5L318.5,28.5" stroke-width="0.69"/>
<path d="M320.5,27.5L321.5,28.5L322.5,29.5L323.5,28.5L324.5,28.5" stroke-width="1.04"/>
<path d="M324.5,27.5L325.5,28.5" stroke-width="1.05"/>
<path d="M328.5,27.5L329.5,28.5" stroke-width="1.16"/>
<path d="M336.5,27.5L337.5,27.5L338.5,27.5L339.5,28.5" stroke-width="1.20"/>
<path d="M342.5,27.5L343.5,26.5" stroke-width="0.62"/>
<path d="M296.5,28.5L295.5,29.5L294.5,30.5L293.5,31.5L292.5,31.5L291.5,30.5" stroke-width="0.59"/>
<path d="M318.5,28.5L319.5,28.5" stroke-width="0.80"/>
<path d="M319.5,28.5L320.5,27.5" stroke-width="0.98"/>
<path d="M324.5,28.5L325.5,28.5" stroke-width="1.05"/>
<path d="M325.5,28.5L326.5,28.5L327.5,28.5L328.5,28.5" stroke-width="1.10"/>
<path d="M328.5,28.5L329.5,28.5" stroke-width="1.16"/>
<path d="M329.5,28.5L330.5,28.5L331.5,28.5L332.5,28.5L333.5,29.5" stroke-width="1.18"/>
<path d="M339.5,28.5L340.5,29.5L341.5,29.5L342.5,29.5L343.5,30.5" stroke-width="1.30"/>
<path d="M307.5,29.5L308.5,30.5L308.5,31.5L309.5,32.5" stroke-width="0.63"/>
<path d="M310.5,29.5L310.5,30.5L310.5,31.5" stroke-width="0.77"/>
<path d="M312.5,29.5L311.5,30.5L310.5,31.5" stroke-width="0.77"/>
<path d="M319.5,29.5L319.5,28.5" stroke-width="0.80"/>
<path d="M320.5,29.5L319.5,29.5" stroke-width="0.63"/>
<path d="M324.5,29.5L324.5,28.5" stroke-width="1.04"/>
<path d="M327.5,29.5L328.5,28.5" stroke-width="1.10"/>
<path d="M332.5,29.5L333.5,29.5" stroke-width="1.18"/>
<path d="M333.5,29.5L334.5,29.5L335.5,29.5L336.5,29.5L337.5,29.5" stroke-width="1.19"/>
<path d="M337.5,29.5L338.5,29.5L339.5,28.5" stroke-width="1.20"/>
<path d="M292.5,30.5L291.5,30.5" stroke-width="0.59"/>
<path d="M297.5,30.5L296.5,30.5L295.5,31.5L294.5,32.5" stroke-width="0.60"/>
<path d="M300.5,30.5L299.5,31.5L298.5,32.5L297.5,33.5L296.5,33.5L295.5,33.5L294.5,33.5L293.5,33.5" stroke-width="0.69"/>
<path d="M316.5,30.5L317.5,29.5L318.5,28.5" stroke-width="0.69"/>
<path d="M329.5,30.5L328.5,29.5L328.5,28.5" stroke-width="1.10"/>
<path d="M334.5,30.5L335.5,30.5L336.5,30.5L337.5,29.5" stroke-width="1.19"/>
<path d="M341.5,30.5L342.5,30.5" stroke-width="1.08"/>
<path d="M342.5,30.5L343.5,30.5" stroke-width="1.30"/>
<path d="M296.5,31.5L295.5,32.5L294.5,32.5" stroke-width="0.60"/>
<path d="M310.5,31.5L310.5,32.5" stroke-width="0.85"/>
<path d="M317.5,31.5L318.5,30.5L318.5,29.5L318.5,28.5" stroke-width="0.69"/>
<path d="M335.5,31.5L336.5,31.5L337.5,32.5" stroke-width="1.03"/>
<path d="M293.5,32.5L292.5,33.5L291.5,34.5" stroke-width="0.79"/>
<path d="M294.5,32.5L293.5,33.5" stroke-width="0.69"/>
<path d="M299.5,32.5L298.5,33.5L297.5,34.5L296.5,34.5L295.5,34.5L294.5,34.5L293.5,34.5L292.5,34.5" stroke-width="0.76"/>
<path d="M304.5,32.5L303.5,32.5L302.5,32.5L301.5,33.5L300.5,34.5L299.5,35.5L298.5,35.5L297.5,35.5" stroke-width="0.70"/>
<path d="M308.5,32.5L309.5,32.5" stroke-width="0.63"/>
<path d="M309.5,32.5L310.5,32.5" stroke-width="0.85"/>
<path d="M310.5,32.5L310.5,33.5" stroke-width="0.88"/>
<path d="M317.5,32.5L318.5,31.5L319.5,30.5L319.5,29.5" stroke-width="0.63"/>
<path d="M323.5,32.5L323.5,31.5L323.5,30.5L324.5,29.5" stroke-width="0.73"/>
<path d="M327.5,32.5L327.5,31.5L327.5,30.5L327.5,29.5" stroke-width="0.70"/>
<path d="M335.5,32.5L336.5,32.5" stroke-width="1.02"/>
<path d="M336.5,32.5L337.5,32.5" stroke-width="1.03"/>
<path d="M337.5,32.5L338.5,32.5" stroke-width="1.06"/>
<path d="M338.5,32.5L339.5,32.5L340.5,32.5" stroke-width="1.07"/>
<path d="M340.5,32.5L341.5,31.5L342.5,30.5" stroke-width="1.08"/>
<path d="M293.5,33.5L292.5,34.5" stroke-width="0.76"/>
<path d="M299.5,33.5L298.5,34.5L297.5,35.5" stroke-width="0.70"/>
<path d="M309.5,33.5L310.5,33.5" stroke-width="0.88"/>
<path d="M310.5,33.5L311.5,34.5L312.5,35.5L312.5,36.5L313.5,37.5L313.5,38.5L313.5,39.5" stroke-width="0.99"/>
<path d="M312.5,33.5L313.5,34.5L314.5,35.5L314.5,36.5L314.5,37.5L314.5,38.5" stroke-width="0.73"/>
<path d="M316.5,33.5L317.5,32.5" stroke-width="0.52"/>
<path d="M317.5,33.5L317.5,32.5" stroke-width="0.52"/>
<path d="M338.5,33.5L338.5,32.5" stroke-width="1.06"/>
<path d="M340.5,33.5L340.5,32.5" stroke-width="1.07"/>
<path d="M305.5,34.5L304.5,35.5L305.5,36.5L306.5,36.5L307.5,37.5L307.5,38.5L307.5,39.5L307.5,40.5L307.5,41.5L307.5,42.5" stroke-width="1.13"/>
<path d="M319.5,34.5L320.5,33.5L321.5,32.5L322.5,31.5L322.5,30.5L323.5,29.5L324.5,29.5" stroke-width="0.73"/>
<path d="M322.5,34.5L322.5,33.5L323.5,32.5" stroke-width="0.55"/>
<path d="M323.5,34.5L323.5,33.5L323.5,32.5" stroke-width="0.55"/>
<path d="M297.5,35.5L296.5,35.5L295.5,35.5L294.5,35.5L293.5,35.5L292.5,35.5L291.5,36.5L290.5,36.5L289.5,37.5L288.5,37.5" stroke-width="0.79"/>
<path d="M328.5,35.5L329.5,35.5" stroke-width="0.81"/>
<path d="M329.5,35.5L330.5,35.5L331.5,35.5L332.5,35.5" stroke-width="1.00"/>
<path d="M332.5,35.5L333.5,35.5L334.5,34.5L335.5,33.5L336.5,32.5" stroke-width="1.02"/>
<path d="M301.5,36.5L300.5,37.5L299.5,37.5L298.5,38.5L297.5,39.5L296.5,40.5L295.5,41.5L294.5,42.5L294.5,43.5" stroke-width="0.66"/>
<path d="M317.5,36.5L316.5,36.5L315.5,36.5L315.5,37.5" stroke-width="0.60"/>
<path d="M323.5,36.5L324.5,35.5L324.5,34.5L324.5,33.5L324.5,32.5L325.5,31.5L326.5,30.5L326.5,29.5L327.5,29.5" stroke-width="0.70"/>
<path d="M327.5,36.5L328.5,36.5" stroke-width="0.77"/>
<path d="M328.5,36.5L329.5,35.5" stroke-width="0.81"/>
<path d="M331.5,36.5L332.5,35.5" stroke-width="1.00"/>
<path d="M336.5,36.5L337.5,35.5L337.5,34.5L337.5,33.5L338.5,32.5" stroke-width="1.06"/>
<path d="M340.5,36.5L341.5,35.5L342.5,35.5L343.5,36.5L344.5,36.5L345.5,37.5" stroke-width="0.77"/>
<path d="M298.5,37.5L297.5,38.5L296.5,39.5L295.5,40.5L294.5,41.5" stroke-width="0.61"/>
<path d="M311.5,37.5L312.5,38.5L312.5,39.5L312.5,40.5" stroke-width="1.08"/>
<path d="M315.5,37.5L314.5,38.5" stroke-width="0.73"/>
<path d="M316.5,37.5L315.5,37.5" stroke-width="0.60"/>
<path d="M332.5,37.5L332.5,36.5L332.5,35.5" stroke-width="1.00"/>
<path d="M341.5,37.5L342.5,37.5" stroke-width="0.64"/>
<path d="M342.5,37.5L343.5,38.5L344.5,37.5L345.5,37.5" stroke-width="0.77"/>
<path d="M345.5,37.5L346.5,37.5" stroke-width="0.82"/>
<path d="M300.5,38.5L299.5,38.5L298.5,39.5L297.5,40.5L296.5,41.5L295.5,42.5L294.5,43.5" stroke-width="0.66"/>
<path d="M314.5,38.5L313.5,39.5" stroke-width="0.99"/>
<path d="M315.5,38.5L314.5,38.5" stroke-width="0.73"/>
<path d="M328.5,38.5L328.5,37.5L328.5,36.5" stroke-width="0.77"/>
<path d="M333.5,38.5L332.5,37.5" stroke-width="0.87"/>
<path d="M338.5,38.5L339.5,37.5L340.5,37.5L341.5,37.5" stroke-width="0.58"/>
<path d="M340.5,38.5L341.5,37.5" stroke-width="0.58"/>
<path d="M301.5,39.5L300.5,39.5L299.5,39.5L298.5,40.5L297.5,41.5" stroke-width="0.61"/>
<path d="M306.5,39.5L306.5,40.5L306.5,41.5" stroke-width="0.60"/>
<path d="M308.5,39.5L308.5,40.5L308.5,41.5L308.5,42.5" stroke-width="1.11"/>
<path d="M313.5,39.5L312.5,40.5" stroke-width="1.08"/>
<path d="M315.5,39.5L314.5,39.5L313.5,39.5" stroke-width="0.99"/>
<path d="M320.5,39.5L320.5,40.5L319.5,41.5L318.5,41.5L318.5,42.5" stroke-width="0.72"/>
<path d="M326.5,39.5L327.5,39.5" stroke-width="0.66"/>
<path d="M327.5,39.5L328.5,38.5" stroke-width="0.70"/>
<path d="M328.5,39.5L328.5,38.5" stroke-width="0.70"/>
<path d="M340.5,39.5L341.5,38.5L342.5,37.5" stroke-width="0.64"/>
<path d="M299.5,40.5L298.5,41.5L297.5,41.5" stroke-width="0.61"/>
<path d="M304.5,40.5L305.5,41.5L306.5,41.5" stroke-width="0.60"/>
<path d="M312.5,40.5L311.5,41.5L310.5,42.5L309.5,42.5L308.5,42.5" stroke-width="1.11"/>
<path d="M314.5,40.5L313.5,40.5L312.5,40.5" stroke-width="1.08"/>
<path d="M324.5,40.5L325.5,39.5L326.5,39.5" stroke-width="0.58"/>
<path d="M325.5,40.5L326.5,39.5" stroke-width="0.58"/>
<path d="M327.5,40.5L327.5,39.5" stroke-width="0.66"/>
<path d="M332.5,40.5L332.5,39.5L332.5,38.5L332.5,37.5" stroke-width="0.87"/>
<path d="M341.5,40.5L342.5,40.5L343.5,39.5L344.5,38.5L345.5,38.5L346.5,37.5" stroke-width="0.82"/>
<path d="M297.5,41.5L296.5,42.5L295.5,43.5L294.5,44.5" stroke-width="0.78"/>
<path d="M306.5,41.5L306.5,42.5L306.5,43.5" stroke-width="1.16"/>
<path d="M332.5,41.5L332.5,40.5" stroke-width="0.66"/>
<path d="M333.5,41.5L333.5,40.5L333.5,39.5L333.5,38.5" stroke-width="0.73"/>
<path d="M342.5,41.5L343.5,40.5L344.5,40.5L345.5,40.5L346.5,39.5L347.5,38.5" stroke-width="0.81"/>
<path d="M345.5,41.5L346.5,40.5L347.5,39.5L347.5,38.5" stroke-width="0.81"/>
<path d="M307.5,42.5L306.5,43.5" stroke-width="1.16"/>
<path d="M308.5,42.5L307.5,42.5" stroke-width="1.13"/>
<path d="M316.5,42.5L315.5,42.5L314.5,41.5L313.5,41.5L312.5,40.5" stroke-width="1.08"/>
<path d="M318.5,42.5L317.5,42.5L316.5,42.5" stroke-width="0.76"/>
<path d="M322.5,42.5L321.5,42.5L320.5,42.5L319.5,42.5L318.5,42.5" stroke-width="0.72"/>
<path d="M333.5,42.5L333.5,41.5" stroke-width="0.58"/>
<path d="M335.5,42.5L335.5,41.5L334.5,41.5L334.5,40.5L334.5,39.5L333.5,38.5" stroke-width="0.73"/>
<path d="M339.5,42.5L340.5,42.5L341.5,42.5L342.5,41.5" stroke-width="0.75"/>
<path d="M342.5,42.5L342.5,41.5" stroke-width="0.75"/>
<path d="M348.5,42.5L348.5,41.5L348.5,40.5L348.5,39.5" stroke-width="0.95"/>
<path d="M306.5,43.5L305.5,44.5" stroke-width="1.17"/>
<path d="M317.5,43.5L316.5,42.5" stroke-width="0.76"/>
<path d="M344.5,43.5L345.5,43.5L345.5,42.5L346.5,41.5L347.5,40.5L348.5,39.5" stroke-width="0.95"/>
<path d="M350.5,43.5L350.5,42.5L351.5,41.5L352.5,40.5L352.5,39.5L351.5,38.5L351.5,37.5" stroke-width="1.13"/>
<path d="M299.5,44.5L298.5,45.5" stroke-width="0.59"/>
<path d="M301.5,44.5L300.5,44.5L299.5,45.5L298.5,45.5" stroke-width="0.59"/>
<path d="M305.5,44.5L304.5,44.5L303.5,45.5L302.5,45.5L301.5,45.5L300.5,45.5L299.5,46.5L298.5,46.5L297.5,47.5L296.5,48.5L295.5,49.5L295.5,50.5" stroke-width="1.19"/>
<path d="M313.5,44.5L312.5,44.5L311.5,44.5L310.5,44.5L309.5,43.5L308.5,43.5L307.5,43.5L306.5,43.5" stroke-width="1.16"/>
<path d="M327.5,44.5L328.5,43.5L329.5,42.5L330.5,42.5L331.5,41.5L332.5,40.5" stroke-width="0.66"/>
<path d="M332.5,44.5L332.5,43.5L332.5,42.5L333.5,41.5" stroke-width="0.58"/>
<path d="M341.5,44.5L342.5,43.5L342.5,42.5" stroke-width="0.64"/>
<path d="M347.5,44.5L348.5,43.5L348.5,42.5" stroke-width="0.91"/>
<path d="M310.5,45.5L309.5,45.5L308.5,45.5L307.5,45.5L306.5,44.5L305.5,44.5" stroke-width="1.17"/>
<path d="M324.5,45.5L324.5,46.5L324.5,47.5L324.5,48.5L325.5,49.5L325.5,50.5L324.5,51.5" stroke-width="0.85"/>
<path d="M335.5,45.5L336.5,45.5L337.5,45.5L338.5,46.5L339.5,45.5L340.5,44.5L341.5,43.5L342.5,42.5" stroke-width="0.64"/>
<path d="M345.5,45.5L346.5,44.5L347.5,43.5L348.5,42.5" stroke-width="0.91"/>
<path d="M314.5,46.5L313.5,46.5L312.5,46.5L311.5,47.5L310.5,47.5L309.5,48.5L308.5,49.5L307.5,50.5L306.5,51.5L305.5,52.5L304.5,53.5L303.5,54.5L302.5,55.5L301.5,55.5" stroke-width="0.90"/>
<path d="M315.5,46.5L314.5,46.5" stroke-width="0.76"/>
<path d="M317.5,46.5L316.5,45.5L315.5,45.5L314.5,46.5" stroke-width="0.76"/>
<path d="M319.5,46.5L318.5,46.5L317.5,46.5" stroke-width="0.67"/>
<path d="M345.5,46.5L346.5,45.5L347.5,44.5" stroke-width="0.88"/>
<path d="M349.5,46.5L350.5,46.5L351.5,45.5L352.5,45.5L353.5,46.5" stroke-width="0.64"/>
<path d="M351.5,46.5L352.5,46.5L353.5,46.5" stroke-width="0.64"/>
<path d="M317.5,47.5L317.5,46.5" stroke-width="0.67"/>
<path d="M329.5,47.5L330.5,48.5" stroke-width="0.54"/>
<path d="M330.5,47.5L330.5,48.5" stroke-width="0.54"/>
<path d="M337.5,47.5L338.5,47.5L339.5,48.5L340.5,49.5" stroke-width="0.61"/>
<path d="M343.5,47.5L344.5,47.5L345.5,46.5" stroke-width="0.85"/>
<path d="M345.5,47.5L345.5,46.5" stroke-width="0.85"/>
<path d="M346.5,47.5L346.5,46.5L347.5,45.5L347.5,44.5" stroke-width="0.88"/>
<path d="M307.5,48.5L307.5,49.5L306.5,50.5L305.5,51.5L304.5,52.5" stroke-width="0.62"/>
<path d="M311.5,48.5L310.5,48.5L309.5,49.5L308.5,50.5L307.5,51.5L307.5,52.5" stroke-width="0.62"/>
<path d="M314.5,48.5L314.5,47.5L314.5,46.5" stroke-width="0.76"/>
<path d="M322.5,48.5L321.5,49.5L321.5,50.5" stroke-width="0.69"/>
<path d="M330.5,48.5L331.5,49.5L332.5,50.5L333.5,50.5L333.5,51.5L333.5,52.5L334.5,53.5L334.5,54.5" stroke-width="0.88"/>
<path d="M333.5,48.5L333.5,49.5L334.5,49.5L334.5,50.5L334.5,51.5L335.5,52.5L335.5,53.5" stroke-width="0.79"/>
<path d="M345.5,48.5L345.5,47.5" stroke-width="0.82"/>
<path d="M302.5,49.5L301.5,50.5L300.5,51.5L299.5,52.5L298.5,53.5" stroke-width="0.65"/>
<path d="M303.5,49.5L302.5,50.5L301.5,51.5L300.5,52.5L299.5,53.5L298.5,54.5" stroke-width="0.76"/>
<path d="M310.5,49.5L309.5,50.5L308.5,51.5L307.5,52.5" stroke-width="0.62"/>
<path d="M318.5,49.5L318.5,48.5L318.5,47.5L317.5,46.5" stroke-width="0.67"/>
<path d="M320.5,49.5L321.5,50.5" stroke-width="0.69"/>
<path d="M326.5,49.5L326.5,50.5L325.5,51.5L326.5,52.5" stroke-width="0.89"/>
<path d="M339.5,49.5L340.5,49.5" stroke-width="0.61"/>
<path d="M340.5,49.5L341.5,49.5" stroke-width="0.74"/>
<path d="M341.5,49.5L342.5,49.5" stroke-width="0.77"/>
<path d="M342.5,49.5L343.5,48.5L344.5,48.5L345.5,47.5" stroke-width="0.82"/>
<path d="M303.5,50.5L302.5,51.5L301.5,52.5L300.5,53.5L299.5,54.5L299.5,55.5" stroke-width="0.56"/>
<path d="M321.5,50.5L322.5,51.5L323.5,51.5L324.5,51.5" stroke-width="0.85"/>
<path d="M342.5,50.5L342.5,49.5" stroke-width="0.77"/>
<path d="M348.5,50.5L349.5,51.5" stroke-width="0.87"/>
<path d="M352.5,50.5L353.5,49.5L354.5,48.5L354.5,47.5" stroke-width="0.95"/>
<path d="M304.5,51.5L304.5,52.5" stroke-width="0.62"/>
<path d="M324.5,51.5L325.5,52.5L326.5,52.5" stroke-width="0.89"/>
<path d="M328.5,51.5L327.5,52.5L327.5,53.5" stroke-width="0.93"/>
<path d="M336.5,51.5L336.5,52.5" stroke-width="0.56"/>
<path d="M349.5,51.5L350.5,50.5L351.5,49.5L352.5,48.5L353.5,47.5L354.5,47.5" stroke-width="0.95"/>
<path d="M351.5,51.5L352.5,50.5" stroke-width="0.54"/>
<path d="M352.5,51.5L352.5,50.5" stroke-width="0.54"/>
<path d="M304.5,52.5L303.5,53.5L302.5,54.5L301.5,55.5" stroke-width="0.90"/>
<path d="M307.5,52.5L306.5,53.5L305.5,54.5L304.5,55.5L303.5,56.5L302.5,57.5L301.5,58.5" stroke-width="0.95"/>
<path d="M310.5,52.5L309.5,53.5" stroke-width="0.55"/>
<path d="M320.5,52.5L320.5,51.5L321.5,50.5" stroke-width="0.69"/>
<path d="M326.5,52.5L327.5,53.5" stroke-width="0.93"/>
<path d="M336.5,52.5L335.5,53.5" stroke-width="0.79"/>
<path d="M338.5,52.5L337.5,52.5L336.5,52.5" stroke-width="0.56"/>
<path d="M345.5,52.5L346.5,52.5" stroke-width="0.51"/>
<path d="M346.5,52.5L347.5,51.5L348.5,51.5L349.5,51.5" stroke-width="0.87"/>
<path d="M349.5,52.5L349.5,51.5" stroke-width="0.87"/>
<path d="M309.5,53.5L308.5,54.5L307.5,55.5" stroke-width="0.66"/>
<path d="M311.5,53.5L310.5,53.5L309.5,53.5" stroke-width="0.55"/>
<path d="M317.5,53.5L316.5,53.5L315.5,53.5L314.5,53.5L313.5,54.5L312.5,55.5L311.5,56.5L310.5,56.5L309.5,56.5L308.5,56.5L307.5,56.5L306.5,56.5" stroke-width="0.80"/>
<path d="M327.5,53.5L328.5,54.5L329.5,55.5L330.5,55.5" stroke-width="0.96"/>
<path d="M335.5,53.5L334.5,54.5" stroke-width="0.88"/>
<path d="M340.5,53.5L339.5,52.5L340.5,51.5L340.5,50.5L341.5,49.5" stroke-width="0.74"/>
<path d="M345.5,53.5L346.5,52.5" stroke-width="0.51"/>
<path d="M347.5,53.5L348.5,52.5L349.5,51.5" stroke-width="0.87"/>
<path d="M306.5,54.5L305.5,55.5L304.5,56.5L303.5,57.5L302.5,58.5" stroke-width="0.89"/>
<path d="M307.5,54.5L306.5,55.5L305.5,56.5" stroke-width="0.82"/>
<path d="M311.5,54.5L310.5,55.5L309.5,55.5L308.5,55.5L307.5,55.5" stroke-width="0.66"/>
<path d="M332.5,54.5L332.5,55.5L332.5,56.5" stroke-width="0.99"/>
<path d="M334.5,54.5L334.5,55.5L334.5,56.5L334.5,57.5" stroke-width="0.91"/>
<path d="M345.5,54.5L346.5,53.5L347.5,53.5" stroke-width="0.78"/>
<path d="M350.5,54.5L351.5,54.5L352.5,54.5L353.5,54.5L354.5,54.5" stroke-width="1.06"/>
<path d="M354.5,54.5L355.5,53.5L356.5,53.5L357.5,53.5L358.5,52.5L359.5,52.5" stroke-width="1.09"/>
<path d="M307.5,55.5L306.5,56.5" stroke-width="0.80"/>
<path d="M313.5,55.5L312.5,56.5L311.5,57.5L310.5,58.5L309.5,59.5L308.5,60.5L307.5,61.5L306.5,62.5L305.5,63.5L305.5,64.5L305.5,65.5L305.5,66.5" stroke-width="0.91"/>
<path d="M324.5,55.5L325.5,55.5L326.5,55.5L326.5,56.5L326.5,57.5L326.5,58.5L325.5,59.5" stroke-width="0.63"/>
<path d="M330.5,55.5L331.5,55.5" stroke-width="0.97"/>
<path d="M331.5,55.5L332.5,56.5" stroke-width="0.99"/>
<path d="M337.5,55.5L337.5,54.5L336.5,53.5L335.5,53.5" stroke-width="0.79"/>
<path d="M344.5,55.5L345.5,55.5" stroke-width="0.73"/>
<path d="M345.5,55.5L346.5,54.5L347.5,53.5" stroke-width="0.78"/>
<path d="M306.5,56.5L305.5,56.5" stroke-width="0.82"/>
<path d="M329.5,56.5L330.5,55.5" stroke-width="0.96"/>
<path d="M330.5,56.5L331.5,55.5" stroke-width="0.97"/>
<path d="M332.5,56.5L333.5,57.5" stroke-width="1.00"/>
<path d="M333.5,56.5L333.5,57.5" stroke-width="1.00"/>
<path d="M344.5,56.5L345.5,55.5" stroke-width="0.73"/>
<path d="M354.5,56.5L354.5,55.5L354.5,54.5" stroke-width="1.06"/>
<path d="M357.5,56.5L357.5,55.5L358.5,54.5L358.5,53.5L359.5,52.5" stroke-width="1.09"/>
<path d="M316.5,57.5L316.5,58.5L316.5,59.5L315.5,60.5L314.5,61.5L313.5,62.5L312.5,62.5" stroke-width="0.65"/>
<path d="M320.5,57.5L320.5,58.5L321.5,59.5L322.5,59.5L323.5,60.5L324.5,61.5" stroke-width="0.81"/>
<path d="M321.5,57.5L322.5,58.5L323.5,59.5L324.5,60.5L324.5,61.5" stroke-width="0.81"/>
<path d="M323.5,57.5L324.5,58.5L324.5,59.5L325.5,60.5" stroke-width="0.70"/>
<path d="M333.5,57.5L333.5,58.5L333.5,59.5" stroke-width="1.12"/>
<path d="M334.5,57.5L334.5,58.5L333.5,59.5" stroke-width="1.12"/>
<path d="M335.5,57.5L334.5,57.5" stroke-width="0.91"/>
<path d="M341.5,57.5L342.5,57.5L343.5,56.5L344.5,56.5" stroke-width="0.62"/>
<path d="M343.5,57.5L344.5,56.5" stroke-width="0.62"/>
<path d="M347.5,57.5L348.5,58.5L349.5,58.5" stroke-width="0.55"/>
<path d="M349.5,57.5L349.5,58.5" stroke-width="0.55"/>
<path d="M353.5,57.5L353.5,56.5L353.5,55.5L354.5,54.5" stroke-width="1.06"/>
<path d="M360.5,57.5L361.5,58.5L362.5,58.5" stroke-width="0.79"/>
<path d="M311.5,58.5L310.5,59.5L309.5,60.5L308.5,61.5" stroke-width="0.67"/>
<path d="M315.5,58.5L315.5,59.5L314.5,60.5L313.5,61.5L312.5,62.5" stroke-width="0.65"/>
<path d="M325.5,58.5L325.5,59.5" stroke-width="0.63"/>
<path d="M327.5,58.5L326.5,59.5L326.5,60.5" stroke-width="0.56"/>
<path d="M349.5,58.5L350.5,59.5" stroke-width="0.93"/>
<path d="M353.5,58.5L353.5,57.5" stroke-width="1.03"/>
<path d="M311.5,59.5L310.5,60.5L309.5,61.5" stroke-width="0.59"/>
<path d="M325.5,59.5L325.5,60.5" stroke-width="0.70"/>
<path d="M333.5,59.5L333.5,60.5L333.5,61.5L333.5,62.5" stroke-width="1.16"/>
<path d="M335.5,59.5L334.5,59.5L333.5,59.5" stroke-width="1.12"/>
<path d="M343.5,59.5L344.5,58.5L345.5,57.5L345.5,56.5L345.5,55.5" stroke-width="0.73"/>
<path d="M350.5,59.5L351.5,59.5L352.5,58.5L353.5,57.5" stroke-width="1.03"/>
<path d="M359.5,59.5L360.5,59.5L361.5,59.5" stroke-width="0.75"/>
<path d="M361.5,59.5L362.5,58.5" stroke-width="0.79"/>
<path d="M312.5,60.5L311.5,61.5L310.5,61.5L309.5,61.5" stroke-width="0.59"/>
<path d="M319.5,60.5L318.5,60.5L317.5,61.5L316.5,62.5L316.5,63.5L316.5,64.5L316.5,65.5L315.5,66.5L314.5,67.5L313.5,68.5L312.5,69.5" stroke-width="1.31"/>
<path d="M325.5,60.5L324.5,61.5" stroke-width="0.81"/>
<path d="M326.5,60.5L325.5,61.5L325.5,62.5" stroke-width="0.87"/>
<path d="M327.5,60.5L326.5,60.5" stroke-width="0.56"/>
<path d="M347.5,60.5L348.5,60.5" stroke-width="0.56"/>
<path d="M348.5,60.5L349.5,60.5" stroke-width="0.83"/>
<path d="M349.5,60.5L350.5,59.5" stroke-width="0.93"/>
<path d="M361.5,60.5L361.5,59.5" stroke-width="0.75"/>
<path d="M309.5,61.5L308.5,61.5" stroke-width="0.67"/>
<path d="M323.5,61.5L324.5,61.5" stroke-width="0.81"/>
<path d="M324.5,61.5L325.5,62.5" stroke-width="0.87"/>
<path d="M356.5,61.5L357.5,60.5L358.5,60.5L359.5,60.5L360.5,60.5L361.5,60.5" stroke-width="0.72"/>
<path d="M361.5,61.5L361.5,60.5" stroke-width="0.72"/>
<path d="M312.5,62.5L311.5,62.5L310.5,62.5L309.5,62.5L308.5,62.5L307.5,63.5L306.5,64.5" stroke-width="0.82"/>
<path d="M325.5,62.5L326.5,63.5" stroke-width="0.90"/>
<path d="M326.5,62.5L326.5,63.5" stroke-width="0.90"/>
<path d="M333.5,62.5L333.5,63.5L332.5,64.5" stroke-width="1.17"/>
<path d="M341.5,62.5L342.5,62.5L343.5,61.5L344.5,60.5L345.5,59.5L346.5,59.5L347.5,59.5L348.5,59.5L349.5,59.5L350.5,59.5" stroke-width="0.93"/>
<path d="M345.5,62.5L346.5,62.5L347.5,61.5L348.5,60.5" stroke-width="0.56"/>
<path d="M347.5,62.5L348.5,62.5" stroke-width="0.75"/>
<path d="M348.5,62.5L349.5,61.5L349.5,60.5" stroke-width="0.83"/>
<path d="M362.5,62.5L363.5,61.5L363.5,60.5L364.5,60.5" stroke-width="0.60"/>
<path d="M318.5,63.5L318.5,64.5L318.5,65.5" stroke-width="1.29"/>
<path d="M320.5,63.5L320.5,64.5L319.5,65.5" stroke-width="1.29"/>
<path d="M326.5,63.5L325.5,64.5L324.5,64.5L323.5,64.5L322.5,64.5" stroke-width="1.28"/>
<path d="M338.5,63.5L337.5,62.5L336.5,61.5L335.5,60.5L334.5,60.5L334.5,61.5L333.5,62.5" stroke-width="1.16"/>
<path d="M347.5,63.5L348.5,62.5" stroke-width="0.75"/>
<path d="M359.5,63.5L360.5,62.5L361.5,61.5" stroke-width="0.55"/>
<path d="M360.5,63.5L361.5,62.5L361.5,61.5" stroke-width="0.55"/>
<path d="M310.5,64.5L309.5,65.5L308.5,66.5L307.5,66.5L306.5,67.5L306.5,68.5L305.5,69.5L304.5,70.5L304.5,71.5" stroke-width="0.82"/>
<path d="M322.5,64.5L321.5,65.5L320.5,65.5L319.5,65.5" stroke-width="1.29"/>
<path d="M332.5,64.5L331.5,65.5" stroke-width="1.20"/>
<path d="M335.5,64.5L334.5,64.5L333.5,64.5L332.5,64.5" stroke-width="1.17"/>
<path d="M338.5,64.5L337.5,63.5L336.5,63.5L335.5,62.5L334.5,62.5L333.5,62.5" stroke-width="1.16"/>
<path d="M346.5,64.5L347.5,63.5" stroke-width="0.71"/>
<path d="M347.5,64.5L347.5,63.5" stroke-width="0.71"/>
<path d="M355.5,64.5L355.5,63.5L355.5,62.5L355.5,61.5L354.5,60.5L354.5,59.5L353.5,58.5" stroke-width="0.78"/>
<path d="M311.5,65.5L310.5,65.5L309.5,66.5L308.5,67.5L307.5,68.5L306.5,69.5" stroke-width="0.74"/>
<path d="M314.5,65.5L313.5,66.5L312.5,67.5L311.5,67.5L310.5,68.5L309.5,69.5L308.5,69.5" stroke-width="0.66"/>
<path d="M318.5,65.5L317.5,66.5L316.5,67.5L315.5,68.5L314.5,69.5" stroke-width="1.30"/>
<path d="M319.5,65.5L318.5,65.5" stroke-width="1.29"/>
<path d="M323.5,65.5L322.5,64.5" stroke-width="1.28"/>
<path d="M327.5,65.5L327.5,66.5" stroke-width="1.23"/>
<path d="M331.5,65.5L330.5,66.5L329.5,66.5L328.5,66.5" stroke-width="1.22"/>
<path d="M333.5,65.5L332.5,65.5L331.5,65.5" stroke-width="1.20"/>
<path d="M345.5,65.5L346.5,64.5" stroke-width="0.68"/>
<path d="M350.5,65.5L351.5,64.5L351.5,63.5L351.5,62.5L352.5,61.5L351.5,60.5L352.5,59.5L353.5,58.5" stroke-width="0.78"/>
<path d="M311.5,66.5L310.5,67.5L309.5,68.5L308.5,69.5" stroke-width="0.66"/>
<path d="M318.5,66.5L317.5,67.5L316.5,68.5L315.5,69.5L314.5,69.5" stroke-width="1.30"/>
<path d="M326.5,66.5L325.5,65.5L324.5,65.5L323.5,65.5" stroke-width="1.24"/>
<path d="M327.5,66.5L326.5,66.5" stroke-width="1.23"/>
<path d="M328.5,66.5L327.5,66.5" stroke-width="1.23"/>
<path d="M334.5,66.5L333.5,65.5" stroke-width="0.80"/>
<path d="M343.5,66.5L344.5,65.5L345.5,64.5L346.5,64.5" stroke-width="0.68"/>
<path d="M350.5,66.5L351.5,67.5L352.5,68.5" stroke-width="0.62"/>
<path d="M353.5,66.5L354.5,66.5L355.5,65.5L356.5,65.5L357.5,66.5L358.5,66.5L359.5,67.5L360.5,67.5L361.5,67.5L362.5,67.5L363.5,67.5" stroke-width="0.69"/>
<path d="M363.5,66.5L363.5,67.5" stroke-width="0.69"/>
<path d="M365.5,66.5L365.5,65.5L365.5,64.5" stroke-width="1.29"/>
<path d="M324.5,67.5L324.5,66.5L323.5,65.5" stroke-width="1.24"/>
<path d="M326.5,67.5L326.5,66.5" stroke-width="1.23"/>
<path d="M328.5,67.5L328.5,66.5" stroke-width="1.22"/>
<path d="M333.5,67.5L333.5,66.5L333.5,65.5" stroke-width="0.80"/>
<path d="M334.5,67.5L333.5,67.5" stroke-width="0.76"/>
<path d="M346.5,67.5L346.5,66.5L346.5,65.5L346.5,64.5" stroke-width="0.68"/>
<path d="M363.5,67.5L364.5,67.5" stroke-width="1.21"/>
<path d="M364.5,67.5L365.5,66.5" stroke-width="1.29"/>
<path d="M312.5,68.5L312.5,69.5" stroke-width="1.31"/>
<path d="M319.5,68.5L318.5,68.5L317.5,69.5L316.5,70.5L315.5,71.5L314.5,72.5L313.5,73.5L312.5,73.5L311.5,73.5L310.5,73.5L309.5,73.5L308.5,73.5" stroke-width="0.93"/>
<path d="M334.5,68.5L333.5,67.5" stroke-width="0.76"/>
<path d="M336.5,68.5L335.5,68.5L334.5,68.5" stroke-width="0.71"/>
<path d="M352.5,68.5L353.5,69.5L354.5,69.5L355.5,69.5L356.5,69.5" stroke-width="0.73"/>
<path d="M355.5,68.5L356.5,69.5" stroke-width="0.73"/>
<path d="M361.5,68.5L362.5,68.5L363.5,68.5" stroke-width="1.19"/>
<path d="M363.5,68.5L364.5,67.5" stroke-width="1.21"/>
<path d="M312.5,69.5L311.5,70.5" stroke-width="1.32"/>
<path d="M314.5,69.5L313.5,69.5L312.5,69.5" stroke-width="1.31"/>
<path d="M332.5,69.5L331.5,69.5L330.5,69.5L329.5,68.5L329.5,67.5L328.5,66.5" stroke-width="1.22"/>
<path d="M338.5,69.5L337.5,69.5L336.5,69.5L335.5,69.5L334.5,68.5" stroke-width="0.71"/>
<path d="M339.5,69.5L338.5,69.5" stroke-width="0.59"/>
<path d="M350.5,69.5L351.5,69.5L352.5,68.5" stroke-width="0.62"/>
<path d="M356.5,69.5L357.5,69.5L358.5,69.5" stroke-width="0.79"/>
<path d="M358.5,69.5L359.5,69.5L360.5,70.5L361.5,70.5L362.5,70.5" stroke-width="1.17"/>
<path d="M363.5,69.5L363.5,68.5" stroke-width="1.19"/>
<path d="M365.5,69.5L365.5,68.5L365.5,67.5L365.5,66.5" stroke-width="1.29"/>
<path d="M317.5,70.5L316.5,71.5L315.5,72.5L314.5,73.5" stroke-width="0.58"/>
<path d="M327.5,70.5L326.5,71.5L325.5,72.5" stroke-width="0.63"/>
<path d="M339.5,70.5L338.5,69.5" stroke-width="0.59"/>
<path d="M348.5,70.5L349.5,71.5L350.5,72.5" stroke-width="0.59"/>
<path d="M357.5,70.5L358.5,69.5" stroke-width="0.79"/>
<path d="M362.5,70.5L363.5,69.5" stroke-width="1.18"/>
<path d="M366.5,70.5L365.5,69.5" stroke-width="1.01"/>
<path d="M323.5,71.5L323.5,72.5" stroke-width="0.71"/>
<path d="M324.5,71.5L323.5,72.5" stroke-width="0.71"/>
<path d="M334.5,71.5L333.5,72.5L333.5,73.5" stroke-width="0.59"/>
<path d="M342.5,71.5L343.5,72.5L344.5,72.5L345.5,72.5L346.5,73.5" stroke-width="0.61"/>
<path d="M344.5,71.5L345.5,71.5L346.5,72.5L347.5,73.5" stroke-width="0.71"/>
<path d="M362.5,71.5L362.5,70.5" stroke-width="1.17"/>
<path d="M367.5,71.5L366.5,70.5" stroke-width="0.99"/>
<path d="M321.5,72.5L320.5,73.5L319.5,74.5L318.5,74.5" stroke-width="0.54"/>
<path d="M323.5,72.5L322.5,73.5L322.5,74.5L322.5,75.5" stroke-width="0.76"/>
<path d="M325.5,72.5L324.5,72.5L323.5,72.5" stroke-width="0.71"/>
<path d="M348.5,72.5L349.5,72.5L350.5,72.5" stroke-width="0.59"/>
<path d="M350.5,72.5L351.5,73.5" stroke-width="0.81"/>
<path d="M356.5,72.5L357.5,71.5L358.5,71.5L359.5,71.5L360.5,71.5L361.5,71.5L362.5,71.5" stroke-width="1.13"/>
<path d="M362.5,72.5L362.5,71.5" stroke-width="1.13"/>
<path d="M368.5,72.5L367.5,71.5" stroke-width="0.88"/>
<path d="M316.5,73.5L315.5,73.5L314.5,73.5" stroke-width="0.58"/>
<path d="M319.5,73.5L318.5,73.5L317.5,73.5L316.5,74.5" stroke-width="0.67"/>
<path d="M327.5,73.5L327.5,72.5L326.5,72.5L325.5,72.5" stroke-width="0.63"/>
<path d="M332.5,73.5L331.5,74.5L330.5,75.5L329.5,76.5" stroke-width="0.84"/>
<path d="M333.5,73.5L332.5,73.5" stroke-width="0.77"/>
<path d="M334.5,73.5L333.5,73.5" stroke-width="0.59"/>
<path d="M344.5,73.5L345.5,73.5L346.5,73.5" stroke-width="0.61"/>
<path d="M346.5,73.5L347.5,73.5" stroke-width="0.71"/>
<path d="M347.5,73.5L348.5,73.5L349.5,73.5L350.5,73.5L351.5,73.5" stroke-width="0.81"/>
<path d="M351.5,73.5L352.5,74.5" stroke-width="1.05"/>
<path d="M362.5,73.5L362.5,72.5" stroke-width="1.12"/>
<path d="M364.5,73.5L364.5,72.5L364.5,71.5L364.5,70.5L364.5,69.5L364.5,68.5L364.5,67.5" stroke-width="1.21"/>
<path d="M365.5,73.5L365.5,72.5L365.5,71.5L365.5,70.5L365.5,69.5" stroke-width="1.01"/>
<path d="M316.5,74.5L315.5,74.5L314.5,74.5L313.5,74.5" stroke-width="0.77"/>
<path d="M318.5,74.5L317.5,74.5L316.5,74.5" stroke-width="0.67"/>
<path d="M323.5,74.5L322.5,75.5" stroke-width="0.76"/>
<path d="M333.5,74.5L332.5,73.5" stroke-width="0.77"/>
<path d="M347.5,74.5L348.5,74.5L349.5,74.5L350.5,74.5L351.5,74.5" stroke-width="0.97"/>
<path d="M351.5,74.5L352.5,74.5" stroke-width="1.05"/>
<path d="M352.5,74.5L353.5,73.5L354.5,73.5L355.5,73.5L356.5,73.5L357.5,73.5L358.5,73.5L359.5,72.5L360.5,72.5L361.5,72.5L362.5,72.5" stroke-width="1.12"/>
<path d="M355.5,74.5L356.5,74.5L357.5,74.5L358.5,74.5L359.5,74.5L360.5,74.5" stroke-width="0.66"/>
<path d="M360.5,74.5L361.5,73.5L362.5,73.5" stroke-width="0.80"/>
<path d="M363.5,74.5L363.5,73.5L363.5,72.5L363.5,71.5L363.5,70.5L363.5,69.5" stroke-width="1.18"/>
<path d="M367.5,74.5L367.5,73.5L367.5,72.5L367.5,71.5" stroke-width="0.88"/>
<path d="M369.5,74.5L369.5,73.5" stroke-width="0.82"/>
<path d="M319.5,75.5L318.5,74.5" stroke-width="0.54"/>
<path d="M322.5,75.5L321.5,76.5" stroke-width="0.82"/>
<path d="M325.5,75.5L324.5,75.5L323.5,75.5L322.5,76.5L321.5,76.5" stroke-width="0.82"/>
<path d="M333.5,75.5L333.5,74.5" stroke-width="0.66"/>
<path d="M334.5,75.5L334.5,74.5L333.5,74.5" stroke-width="0.66"/>
<path d="M336.5,75.5L335.5,75.5L334.5,75.5" stroke-width="0.59"/>
<path d="M344.5,75.5L345.5,74.5L346.5,74.5L347.5,74.5" stroke-width="0.69"/>
<path d="M347.5,75.5L347.5,74.5" stroke-width="0.69"/>
<path d="M359.5,75.5L360.5,74.5" stroke-width="0.66"/>
<path d="M321.5,76.5L320.5,76.5L319.5,77.5L318.5,78.5" stroke-width="1.06"/>
<path d="M329.5,76.5L328.5,77.5L327.5,78.5" stroke-width="0.88"/>
<path d="M330.5,76.5L329.5,76.5" stroke-width="0.84"/>
<path d="M335.5,76.5L334.5,75.5" stroke-width="0.59"/>
<path d="M339.5,76.5L338.5,77.5L337.5,78.5L337.5,79.5L337.5,80.5L336.5,81.5L335.5,82.5L334.5,83.5" stroke-width="0.92"/>
<path d="M340.5,76.5L339.5,76.5" stroke-width="0.56"/>
<path d="M349.5,76.5L350.5,75.5L351.5,74.5" stroke-width="0.97"/>
<path d="M366.5,76.5L366.5,75.5L366.5,74.5L366.5,73.5L366.5,72.5L366.5,71.5L366.5,70.5" stroke-width="0.99"/>
<path d="M368.5,76.5L368.5,75.5L368.5,74.5L368.5,73.5L368.5,72.5" stroke-width="0.86"/>
<path d="M370.5,76.5L370.5,75.5" stroke-width="0.55"/>
<path d="M318.5,77.5L318.5,78.5" stroke-width="1.06"/>
<path d="M323.5,77.5L322.5,77.5L321.5,77.5L320.5,77.5L319.5,78.5" stroke-width="0.97"/>
<path d="M325.5,77.5L324.5,77.5L323.5,77.5" stroke-width="0.94"/>
<path d="M327.5,77.5L326.5,78.5" stroke-width="0.89"/>
<path d="M329.5,77.5L328.5,78.5L327.5,78.5" stroke-width="0.88"/>
<path d="M340.5,77.5L339.5,76.5" stroke-width="0.56"/>
<path d="M343.5,77.5L344.5,76.5L345.5,76.5L346.5,75.5L347.5,74.5" stroke-width="0.69"/>
<path d="M348.5,77.5L349.5,76.5" stroke-width="0.88"/>
<path d="M356.5,77.5L357.5,77.5L358.5,76.5L359.5,76.5L360.5,75.5L361.5,74.5L362.5,74.5L362.5,73.5" stroke-width="0.80"/>
<path d="M365.5,77.5L366.5,76.5" stroke-width="0.76"/>
<path d="M319.5,78.5L318.5,78.5" stroke-width="1.06"/>
<path d="M326.5,78.5L325.5,79.5" stroke-width="0.92"/>
<path d="M327.5,78.5L326.5,78.5" stroke-width="0.89"/>
<path d="M360.5,78.5L361.5,78.5L362.5,78.5L363.5,77.5L364.5,77.5L365.5,77.5" stroke-width="0.73"/>
<path d="M366.5,78.5L366.5,77.5L366.5,76.5" stroke-width="0.76"/>
<path d="M321.5,79.5L320.5,79.5L319.5,78.5" stroke-width="0.97"/>
<path d="M325.5,79.5L324.5,78.5L323.5,77.5" stroke-width="0.94"/>
<path d="M353.5,79.5L354.5,80.5L355.5,79.5L356.5,79.5L357.5,79.5L357.5,80.5L358.5,81.5L359.5,82.5L359.5,83.5" stroke-width="0.73"/>
<path d="M320.5,80.5L319.5,80.5L318.5,79.5" stroke-width="1.08"/>
<path d="M321.5,80.5L320.5,80.5" stroke-width="0.55"/>
<path d="M326.5,80.5L326.5,79.5L325.5,79.5" stroke-width="0.92"/>
<path d="M340.5,80.5L339.5,80.5L338.5,81.5L337.5,82.5" stroke-width="0.59"/>
<path d="M346.5,80.5L347.5,79.5L348.5,80.5" stroke-width="0.81"/>
<path d="M348.5,80.5L349.5,80.5L349.5,79.5L350.5,78.5L350.5,77.5L349.5,76.5" stroke-width="0.88"/>
<path d="M361.5,80.5L362.5,80.5L363.5,80.5L364.5,79.5L364.5,78.5L365.5,77.5" stroke-width="0.73"/>
<path d="M370.5,80.5L369.5,81.5L370.5,82.5L371.5,83.5" stroke-width="0.66"/>
<path d="M323.5,81.5L322.5,81.5L321.5,81.5L320.5,80.5" stroke-width="0.55"/>
<path d="M330.5,81.5L330.5,82.5L330.5,83.5L329.5,84.5L328.5,85.5" stroke-width="0.67"/>
<path d="M333.5,81.5L333.5,82.5L333.5,83.5" stroke-width="0.95"/>
<path d="M335.5,81.5L334.5,82.5L333.5,83.5" stroke-width="0.95"/>
<path d="M337.5,81.5L337.5,82.5" stroke-width="0.59"/>
<path d="M345.5,81.5L346.5,80.5" stroke-width="0.74"/>
<path d="M354.5,81.5L355.5,82.5L356.5,82.5L357.5,81.5L358.5,82.5L359.5,83.5" stroke-width="0.73"/>
<path d="M368.5,81.5L368.5,82.5L367.5,83.5L366.5,84.5L366.5,85.5" stroke-width="0.61"/>
<path d="M337.5,82.5L336.5,83.5" stroke-width="0.83"/>
<path d="M373.5,82.5L374.5,83.5" stroke-width="0.79"/>
<path d="M329.5,83.5L328.5,84.5L328.5,85.5" stroke-width="0.67"/>
<path d="M333.5,83.5L332.5,84.5" stroke-width="0.96"/>
<path d="M334.5,83.5L333.5,83.5" stroke-width="0.95"/>
<path d="M336.5,83.5L335.5,83.5L334.5,83.5" stroke-width="0.92"/>
<path d="M337.5,83.5L336.5,83.5" stroke-width="0.83"/>
<path d="M339.5,83.5L338.5,83.5L337.5,83.5" stroke-width="0.76"/>
<path d="M347.5,83.5L347.5,82.5L348.5,81.5L348.5,80.5" stroke-width="0.81"/>
<path d="M351.5,83.5L352.5,83.5L353.5,83.5L354.5,83.5L355.5,83.5L356.5,83.5L357.5,84.5L358.5,85.5" stroke-width="0.68"/>
<path d="M359.5,83.5L360.5,84.5L360.5,85.5" stroke-width="0.87"/>
<path d="M365.5,83.5L365.5,84.5" stroke-width="0.55"/>
<path d="M366.5,83.5L365.5,84.5" stroke-width="0.55"/>
<path d="M370.5,83.5L371.5,83.5" stroke-width="0.66"/>
<path d="M371.5,83.5L372.5,83.5L373.5,83.5L374.5,83.5" stroke-width="0.79"/>
<path d="M374.5,83.5L375.5,83.5" stroke-width="0.81"/>
<path d="M375.5,83.5L376.5,83.5L377.5,83.5" stroke-width="0.84"/>
<path d="M323.5,84.5L322.5,85.5" stroke-width="0.55"/>
<path d="M332.5,84.5L331.5,84.5L330.5,85.5L330.5,86.5L331.5,87.5" stroke-width="1.03"/>
<path d="M333.5,84.5L332.5,84.5" stroke-width="0.96"/>
<path d="M362.5,84.5L363.5,85.5L364.5,85.5" stroke-width="0.56"/>
<path d="M364.5,84.5L364.5,85.5" stroke-width="0.56"/>
<path d="M365.5,84.5L365.5,85.5L365.5,86.5L365.5,87.5" stroke-width="0.96"/>
<path d="M323.5,85.5L322.5,85.5" stroke-width="0.55"/>
<path d="M324.5,85.5L323.5,86.5L322.5,86.5" stroke-width="0.65"/>
<path d="M326.5,85.5L325.5,86.5L324.5,87.5" stroke-width="0.74"/>
<path d="M328.5,85.5L327.5,86.5L326.5,87.5L325.5,87.5L324.5,87.5" stroke-width="0.74"/>
<path d="M339.5,85.5L338.5,84.5L337.5,83.5" stroke-width="0.76"/>
<path d="M357.5,85.5L358.5,85.5" stroke-width="0.68"/>
<path d="M358.5,85.5L359.5,85.5L360.5,85.5" stroke-width="0.87"/>
<path d="M360.5,85.5L361.5,85.5L362.5,86.5L363.5,86.5L364.5,86.5" stroke-width="0.92"/>
<path d="M364.5,85.5L364.5,86.5" stroke-width="0.92"/>
<path d="M366.5,85.5L366.5,86.5L366.5,87.5L366.5,88.5" stroke-width="1.01"/>
<path d="M367.5,85.5L366.5,85.5" stroke-width="0.61"/>
<path d="M376.5,85.5L376.5,86.5" stroke-width="0.98"/>
<path d="M342.5,86.5L341.5,85.5L340.5,85.5L339.5,85.5" stroke-width="0.69"/>
<path d="M344.5,86.5L344.5,85.5L344.5,84.5L343.5,83.5L343.5,82.5L343.5,81.5L344.5,80.5L345.5,79.5L346.5,80.5" stroke-width="0.74"/>
<path d="M352.5,86.5L353.5,87.5" stroke-width="0.54"/>
<path d="M364.5,86.5L365.5,87.5" stroke-width="0.96"/>
<path d="M372.5,86.5L373.5,86.5L374.5,86.5L375.5,87.5L376.5,87.5" stroke-width="1.01"/>
<path d="M376.5,86.5L376.5,87.5" stroke-width="1.01"/>
<path d="M324.5,87.5L323.5,87.5" stroke-width="0.82"/>
<path d="M328.5,87.5L327.5,88.5L326.5,89.5L325.5,89.5" stroke-width="0.58"/>
<path d="M331.5,87.5L330.5,88.5" stroke-width="1.05"/>
<path d="M333.5,87.5L332.5,87.5L331.5,87.5" stroke-width="1.03"/>
<path d="M336.5,87.5L335.5,87.5L334.5,87.5L333.5,87.5" stroke-width="0.71"/>
<path d="M341.5,87.5L340.5,86.5L339.5,85.5" stroke-width="0.69"/>
<path d="M352.5,87.5L353.5,87.5" stroke-width="0.54"/>
<path d="M353.5,87.5L354.5,88.5L355.5,88.5L356.5,88.5L357.5,88.5" stroke-width="0.82"/>
<path d="M364.5,87.5L365.5,87.5" stroke-width="0.96"/>
<path d="M365.5,87.5L366.5,88.5" stroke-width="1.01"/>
<path d="M376.5,87.5L377.5,88.5" stroke-width="1.03"/>
<path d="M379.5,87.5L378.5,88.5L377.5,88.5" stroke-width="1.03"/>
<path d="M328.5,88.5L327.5,89.5L326.5,90.5L325.5,89.5" stroke-width="0.58"/>
<path d="M330.5,88.5L329.5,89.5L328.5,90.5L327.5,91.5" stroke-width="1.07"/>
<path d="M341.5,88.5L341.5,87.5" stroke-width="0.52"/>
<path d="M342.5,88.5L341.5,87.5" stroke-width="0.52"/>
<path d="M357.5,88.5L358.5,89.5L359.5,89.5L360.5,90.5L361.5,91.5" stroke-width="1.20"/>
<path d="M361.5,88.5L362.5,88.5L363.5,88.5L364.5,88.5L365.5,88.5L366.5,88.5" stroke-width="1.01"/>
<path d="M366.5,88.5L367.5,89.5" stroke-width="1.03"/>
<path d="M367.5,88.5L367.5,89.5" stroke-width="1.03"/>
<path d="M374.5,88.5L375.5,89.5L376.5,89.5L377.5,90.5" stroke-width="1.40"/>
<path d="M377.5,88.5L377.5,89.5L377.5,90.5" stroke-width="1.40"/>
<path d="M325.5,89.5L324.5,88.5L323.5,87.5" stroke-width="0.82"/>
<path d="M334.5,89.5L333.5,88.5L332.5,88.5L331.5,88.5L330.5,88.5" stroke-width="1.05"/>
<path d="M339.5,89.5L338.5,89.5L337.5,88.5L336.5,88.5L335.5,88.5L334.5,88.5L333.5,87.5" stroke-width="0.71"/>
<path d="M345.5,89.5L346.5,88.5L346.5,87.5L347.5,87.5L348.5,86.5L348.5,85.5L349.5,84.5L350.5,85.5L351.5,85.5L352.5,85.5L353.5,86.5L354.5,87.5L355.5,87.5L356.5,87.5L357.5,88.5" stroke-width="0.82"/>
<path d="M352.5,89.5L353.5,89.5L354.5,89.5L355.5,89.5L356.5,90.5L357.5,91.5" stroke-width="0.81"/>
<path d="M365.5,89.5L366.5,89.5L367.5,89.5" stroke-width="1.03"/>
<path d="M367.5,89.5L368.5,90.5" stroke-width="1.05"/>
<path d="M338.5,90.5L337.5,91.5L336.5,91.5L335.5,91.5L334.5,92.5L333.5,93.5L332.5,94.5" stroke-width="0.66"/>
<path d="M364.5,90.5L365.5,90.5L366.5,90.5L367.5,90.5L368.5,90.5" stroke-width="1.05"/>
<path d="M368.5,90.5L369.5,91.5" stroke-width="1.29"/>
<path d="M369.5,90.5L369.5,91.5" stroke-width="1.29"/>
<path d="M376.5,90.5L377.5,90.5" stroke-width="1.40"/>
<path d="M377.5,90.5L378.5,91.5L379.5,92.5" stroke-width="1.41"/>
<path d="M327.5,91.5L326.5,92.5L326.5,93.5" stroke-width="1.08"/>
<path d="M328.5,91.5L327.5,91.5" stroke-width="1.07"/>
<path d="M348.5,91.5L349.5,91.5L349.5,92.5" stroke-width="0.65"/>
<path d="M357.5,91.5L358.5,92.5" stroke-width="0.95"/>
<path d="M361.5,91.5L362.5,91.5L363.5,91.5" stroke-width="1.21"/>
<path d="M363.5,91.5L364.5,91.5L365.5,91.5L366.5,91.5L367.5,91.5L368.5,91.5L369.5,91.5" stroke-width="1.29"/>
<path d="M369.5,91.5L370.5,91.5L371.5,92.5" stroke-width="1.33"/>
<path d="M372.5,91.5L373.5,92.5" stroke-width="1.35"/>
<path d="M375.5,91.5L376.5,90.5" stroke-width="1.35"/>
<path d="M329.5,92.5L328.5,92.5L327.5,92.5L326.5,93.5" stroke-width="1.08"/>
<path d="M335.5,92.5L334.5,93.5L333.5,94.5L332.5,94.5" stroke-width="0.66"/>
<path d="M349.5,92.5L350.5,92.5L351.5,91.5L352.5,92.5L353.5,91.5L354.5,91.5L355.5,91.5L356.5,91.5L357.5,91.5" stroke-width="0.81"/>
<path d="M356.5,92.5L357.5,92.5" stroke-width="0.81"/>
<path d="M357.5,92.5L358.5,92.5" stroke-width="0.95"/>
<path d="M358.5,92.5L359.5,92.5L360.5,91.5L361.5,91.5" stroke-width="1.20"/>
<path d="M361.5,92.5L362.5,92.5L363.5,91.5" stroke-width="1.21"/>
<path d="M365.5,92.5L366.5,92.5" stroke-width="0.87"/>
<path d="M366.5,92.5L367.5,92.5" stroke-width="0.89"/>
<path d="M367.5,92.5L368.5,92.5L369.5,92.5" stroke-width="0.93"/>
<path d="M369.5,92.5L370.5,92.5L371.5,92.5" stroke-width="1.33"/>
<path d="M371.5,92.5L372.5,92.5L373.5,92.5" stroke-width="1.35"/>
<path d="M373.5,92.5L374.5,91.5L375.5,90.5L376.5,90.5" stroke-width="1.35"/>
<path d="M378.5,92.5L379.5,92.5" stroke-width="1.41"/>
<path d="M379.5,92.5L380.5,92.5" stroke-width="1.41"/>
<path d="M338.5,93.5L337.5,93.5L336.5,94.5L335.5,95.5L334.5,96.5" stroke-width="0.63"/>
<path d="M331.5,94.5L330.5,95.5L329.5,96.5L329.5,97.5" stroke-width="0.75"/>
<path d="M332.5,94.5L331.5,95.5L330.5,96.5L329.5,97.5" stroke-width="0.75"/>
<path d="M341.5,94.5L341.5,95.5L340.5,96.5L339.5,97.5L338.5,98.5L337.5,99.5" stroke-width="0.63"/>
<path d="M345.5,94.5L344.5,95.5L343.5,96.5L343.5,97.5L343.5,98.5" stroke-width="0.62"/>
<path d="M348.5,94.5L349.5,93.5L349.5,92.5" stroke-width="0.65"/>
<path d="M353.5,94.5L354.5,94.5L355.5,94.5L356.5,93.5L357.5,92.5" stroke-width="0.81"/>
<path d="M359.5,94.5L359.5,93.5L360.5,92.5L361.5,91.5" stroke-width="1.20"/>
<path d="M337.5,95.5L336.5,95.5L335.5,96.5L334.5,96.5" stroke-width="0.63"/>
<path d="M342.5,95.5L342.5,96.5L342.5,97.5L343.5,98.5" stroke-width="0.62"/>
<path d="M350.5,95.5L351.5,96.5L352.5,96.5" stroke-width="0.66"/>
<path d="M358.5,95.5L359.5,94.5" stroke-width="1.04"/>
<path d="M367.5,95.5L367.5,94.5L367.5,93.5L367.5,92.5" stroke-width="0.89"/>
<path d="M370.5,95.5L370.5,94.5L369.5,93.5L369.5,92.5" stroke-width="0.93"/>
<path d="M374.5,95.5L374.5,94.5L373.5,93.5L373.5,92.5" stroke-width="1.35"/>
<path d="M334.5,96.5L333.5,97.5L332.5,98.5L331.5,99.5L330.5,100.5" stroke-width="0.74"/>
<path d="M352.5,96.5L353.5,97.5L354.5,96.5L355.5,95.5L356.5,94.5L357.5,93.5L357.5,92.5" stroke-width="0.81"/>
<path d="M356.5,96.5L357.5,95.5L358.5,95.5" stroke-width="1.03"/>
<path d="M358.5,96.5L358.5,95.5" stroke-width="1.03"/>
<path d="M359.5,96.5L359.5,95.5L359.5,94.5" stroke-width="1.04"/>
<path d="M366.5,96.5L366.5,95.5L366.5,94.5L366.5,93.5L366.5,92.5" stroke-width="0.87"/>
<path d="M373.5,96.5L374.5,95.5" stroke-width="0.74"/>
<path d="M374.5,96.5L374.5,95.5" stroke-width="0.74"/>
<path d="M380.5,96.5L380.5,95.5L380.5,94.5" stroke-width="0.73"/>
<path d="M329.5,97.5L329.5,98.5L329.5,99.5L329.5,100.5" stroke-width="0.81"/>
<path d="M332.5,97.5L331.5,98.5L330.5,99.5L329.5,100.5" stroke-width="0.81"/>
<path d="M355.5,97.5L356.5,96.5" stroke-width="0.64"/>
<path d="M364.5,97.5L364.5,96.5L364.5,95.5L364.5,94.5L364.5,93.5L364.5,92.5L365.5,92.5" stroke-width="0.80"/>
<path d="M365.5,97.5L365.5,96.5L365.5,95.5L365.5,94.5L365.5,93.5L365.5,92.5" stroke-width="0.80"/>
<path d="M366.5,97.5L366.5,96.5" stroke-width="0.59"/>
<path d="M367.5,97.5L366.5,96.5" stroke-width="0.59"/>
<path d="M373.5,97.5L374.5,96.5" stroke-width="0.61"/>
<path d="M376.5,97.5L377.5,96.5L377.5,95.5L378.5,94.5L378.5,93.5L379.5,92.5" stroke-width="1.41"/>
<path d="M333.5,98.5L332.5,99.5L331.5,100.5L330.5,100.5" stroke-width="0.74"/>
<path d="M337.5,98.5L337.5,99.5" stroke-width="0.63"/>
<path d="M343.5,98.5L343.5,99.5" stroke-width="0.66"/>
<path d="M344.5,98.5L343.5,99.5" stroke-width="0.66"/>
<path d="M349.5,98.5L350.5,98.5L351.5,97.5L352.5,96.5" stroke-width="0.66"/>
<path d="M364.5,98.5L365.5,97.5" stroke-width="0.62"/>
<path d="M365.5,98.5L365.5,97.5" stroke-width="0.62"/>
<path d="M366.5,98.5L366.5,97.5" stroke-width="0.52"/>
<path d="M369.5,98.5L370.5,98.5L371.5,97.5L372.5,96.5L373.5,96.5" stroke-width="0.59"/>
<path d="M371.5,98.5L372.5,97.5L373.5,96.5" stroke-width="0.59"/>
<path d="M374.5,98.5L374.5,97.5L374.5,96.5" stroke-width="0.61"/>
<path d="M337.5,99.5L336.5,100.5L335.5,101.5L334.5,101.5L333.5,102.5L332.5,102.5L331.5,102.5L330.5,102.5L329.5,102.5L328.5,103.5L327.5,104.5" stroke-width="0.77"/>
<path d="M338.5,99.5L337.5,100.5L336.5,101.5L335.5,102.5" stroke-width="0.60"/>
<path d="M343.5,99.5L343.5,100.5L342.5,101.5L342.5,102.5L342.5,103.5" stroke-width="0.76"/>
<path d="M347.5,99.5L346.5,100.5L345.5,101.5L345.5,102.5L345.5,103.5" stroke-width="0.64"/>
<path d="M352.5,99.5L353.5,100.5" stroke-width="0.51"/>
<path d="M364.5,99.5L365.5,98.5" stroke-width="0.56"/>
<path d="M367.5,99.5L367.5,98.5L366.5,97.5" stroke-width="0.52"/>
<path d="M376.5,99.5L377.5,98.5L378.5,97.5L379.5,96.5L380.5,96.5" stroke-width="0.69"/>
<path d="M378.5,99.5L378.5,98.5L379.5,97.5L380.5,96.5" stroke-width="0.69"/>
<path d="M380.5,99.5L380.5,98.5L380.5,97.5L380.5,96.5" stroke-width="0.69"/>
<path d="M338.5,100.5L337.5,101.5L336.5,102.5L335.5,102.5" stroke-width="0.60"/>
<path d="M341.5,100.5L341.5,101.5L341.5,102.5L341.5,103.5L341.5,104.5" stroke-width="0.82"/>
<path d="M345.5,100.5L344.5,101.5L343.5,102.5L342.5,103.5" stroke-width="0.76"/>
<path d="M352.5,100.5L353.5,100.5" stroke-width="0.51"/>
<path d="M353.5,100.5L354.5,99.5L355.5,98.5L356.5,97.5L356.5,96.5" stroke-width="0.64"/>
<path d="M360.5,100.5L359.5,99.5L358.5,98.5L358.5,97.5L358.5,96.5" stroke-width="0.99"/>
<path d="M373.5,100.5L374.5,99.5L375.5,98.5L375.5,97.5L374.5,96.5" stroke-width="0.61"/>
<path d="M347.5,101.5L346.5,102.5L345.5,103.5" stroke-width="0.64"/>
<path d="M353.5,101.5L353.5,102.5" stroke-width="0.56"/>
<path d="M357.5,101.5L357.5,100.5L357.5,99.5L357.5,98.5L357.5,97.5L358.5,96.5" stroke-width="0.99"/>
<path d="M365.5,101.5L365.5,100.5L365.5,99.5L365.5,98.5" stroke-width="0.56"/>
<path d="M335.5,102.5L334.5,103.5L333.5,103.5L332.5,104.5L331.5,105.5L330.5,106.5L329.5,107.5L328.5,108.5L327.5,109.5L327.5,110.5L327.5,111.5L327.5,112.5L327.5,113.5L327.5,114.5L327.5,115.5L327.5,116.5" stroke-width="1.36"/>
<path d="M353.5,102.5L354.5,103.5L355.5,104.5L356.5,104.5L357.5,104.5L358.5,104.5" stroke-width="0.79"/>
<path d="M362.5,102.5L361.5,101.5L360.5,100.5" stroke-width="0.94"/>
<path d="M363.5,102.5L362.5,102.5" stroke-width="0.63"/>
<path d="M376.5,102.5L377.5,103.5L378.5,103.5" stroke-width="1.17"/>
<path d="M342.5,103.5L341.5,104.5" stroke-width="0.82"/>
<path d="M345.5,103.5L344.5,104.5L343.5,105.5L343.5,106.5L343.5,107.5" stroke-width="0.98"/>
<path d="M351.5,103.5L352.5,102.5L353.5,102.5" stroke-width="0.56"/>
<path d="M359.5,103.5L360.5,102.5L360.5,101.5L360.5,100.5" stroke-width="0.94"/>
<path d="M362.5,103.5L362.5,102.5" stroke-width="0.63"/>
<path d="M370.5,103.5L370.5,104.5L369.5,105.5L369.5,106.5L369.5,107.5" stroke-width="0.78"/>
<path d="M378.5,103.5L379.5,103.5L380.5,103.5" stroke-width="1.17"/>
<path d="M339.5,104.5L339.5,105.5L339.5,106.5L338.5,107.5L337.5,108.5L336.5,109.5L335.5,110.5" stroke-width="0.65"/>
<path d="M341.5,104.5L341.5,105.5L342.5,106.5" stroke-width="0.85"/>
<path d="M347.5,104.5L347.5,105.5L346.5,106.5" stroke-width="0.61"/>
<path d="M358.5,104.5L359.5,103.5" stroke-width="0.87"/>
<path d="M363.5,104.5L362.5,103.5" stroke-width="0.58"/>
<path d="M377.5,104.5L378.5,103.5" stroke-width="1.17"/>
<path d="M335.5,105.5L335.5,106.5L334.5,107.5L333.5,108.5L332.5,109.5" stroke-width="0.61"/>
<path d="M342.5,105.5L342.5,106.5" stroke-width="0.85"/>
<path d="M362.5,105.5L362.5,104.5L362.5,103.5" stroke-width="0.58"/>
<path d="M367.5,105.5L368.5,105.5L368.5,106.5" stroke-width="0.66"/>
<path d="M375.5,105.5L376.5,105.5" stroke-width="1.12"/>
<path d="M376.5,105.5L377.5,104.5" stroke-width="1.16"/>
<path d="M342.5,106.5L343.5,107.5" stroke-width="0.98"/>
<path d="M346.5,106.5L345.5,106.5L344.5,106.5L343.5,107.5" stroke-width="0.98"/>
<path d="M348.5,106.5L347.5,106.5L346.5,106.5" stroke-width="0.61"/>
<path d="M357.5,106.5L357.5,105.5L358.5,104.5" stroke-width="0.79"/>
<path d="M359.5,106.5L359.5,105.5L359.5,104.5L359.5,103.5" stroke-width="0.87"/>
<path d="M367.5,106.5L368.5,106.5" stroke-width="0.66"/>
<path d="M368.5,106.5L369.5,107.5" stroke-width="0.78"/>
<path d="M374.5,106.5L375.5,106.5" stroke-width="1.11"/>
<path d="M375.5,106.5L376.5,105.5" stroke-width="1.12"/>
<path d="M343.5,107.5L343.5,108.5L342.5,109.5L341.5,110.5L340.5,111.5" stroke-width="1.01"/>
<path d="M352.5,107.5L352.5,108.5L352.5,109.5L352.5,110.5L351.5,111.5L350.5,111.5L349.5,110.5" stroke-width="0.73"/>
<path d="M361.5,107.5L360.5,107.5L359.5,106.5" stroke-width="0.59"/>
<path d="M369.5,107.5L370.5,108.5" stroke-width="0.82"/>
<path d="M379.5,107.5L378.5,107.5L378.5,106.5L378.5,105.5L377.5,104.5" stroke-width="1.16"/>
<path d="M340.5,108.5L340.5,109.5L339.5,110.5L338.5,111.5L337.5,112.5L336.5,113.5L335.5,113.5L334.5,113.5L333.5,113.5" stroke-width="0.69"/>
<path d="M341.5,108.5L341.5,109.5L340.5,110.5L340.5,111.5" stroke-width="1.01"/>
<path d="M351.5,108.5L350.5,109.5L349.5,110.5" stroke-width="0.73"/>
<path d="M358.5,108.5L358.5,107.5L358.5,106.5L358.5,105.5L358.5,104.5" stroke-width="0.79"/>
<path d="M360.5,108.5L359.5,107.5L359.5,106.5" stroke-width="0.59"/>
<path d="M365.5,108.5L366.5,108.5L367.5,107.5L368.5,106.5" stroke-width="0.66"/>
<path d="M368.5,108.5L369.5,107.5" stroke-width="0.78"/>
<path d="M370.5,108.5L371.5,109.5L372.5,110.5" stroke-width="1.01"/>
<path d="M349.5,109.5L349.5,110.5" stroke-width="0.73"/>
<path d="M353.5,109.5L353.5,110.5" stroke-width="0.55"/>
<path d="M373.5,109.5L374.5,109.5" stroke-width="1.08"/>
<path d="M374.5,109.5L374.5,108.5L374.5,107.5L375.5,106.5" stroke-width="1.11"/>
<path d="M345.5,110.5L344.5,110.5L343.5,110.5L342.5,110.5L341.5,111.5L340.5,112.5L339.5,113.5L338.5,114.5" stroke-width="1.07"/>
<path d="M349.5,110.5L348.5,111.5" stroke-width="0.87"/>
<path d="M353.5,110.5L353.5,111.5L352.5,112.5" stroke-width="0.70"/>
<path d="M354.5,110.5L353.5,110.5" stroke-width="0.55"/>
<path d="M367.5,110.5L368.5,109.5L369.5,108.5L370.5,108.5" stroke-width="0.82"/>
<path d="M372.5,110.5L373.5,110.5L374.5,109.5" stroke-width="1.08"/>
<path d="M375.5,110.5L375.5,109.5L375.5,108.5L375.5,107.5L375.5,106.5" stroke-width="1.11"/>
<path d="M376.5,110.5L376.5,109.5L376.5,108.5L376.5,107.5L376.5,106.5L376.5,105.5" stroke-width="1.12"/>
<path d="M377.5,110.5L377.5,109.5L377.5,108.5L377.5,107.5L377.5,106.5L377.5,105.5L377.5,104.5" stroke-width="1.16"/>
<path d="M378.5,110.5L377.5,110.5" stroke-width="0.64"/>
<path d="M348.5,111.5L348.5,112.5L347.5,113.5L347.5,114.5" stroke-width="0.92"/>
<path d="M360.5,111.5L361.5,112.5L362.5,112.5L363.5,112.5L364.5,113.5" stroke-width="0.72"/>
<path d="M352.5,112.5L351.5,112.5L350.5,112.5L349.5,111.5L348.5,111.5" stroke-width="0.87"/>
<path d="M353.5,112.5L352.5,112.5" stroke-width="0.70"/>
<path d="M355.5,112.5L354.5,112.5L353.5,112.5" stroke-width="0.55"/>
<path d="M364.5,112.5L365.5,112.5L366.5,112.5" stroke-width="0.78"/>
<path d="M366.5,112.5L367.5,112.5L368.5,111.5L369.5,111.5L370.5,111.5L371.5,110.5L372.5,110.5" stroke-width="1.01"/>
<path d="M370.5,112.5L371.5,112.5" stroke-width="0.56"/>
<path d="M371.5,112.5L372.5,111.5L372.5,110.5" stroke-width="1.01"/>
<path d="M374.5,112.5L374.5,111.5L374.5,110.5L374.5,109.5" stroke-width="1.08"/>
<path d="M345.5,113.5L344.5,114.5L343.5,114.5L342.5,114.5L341.5,114.5L340.5,114.5" stroke-width="0.62"/>
<path d="M351.5,113.5L350.5,113.5L349.5,114.5L348.5,114.5L347.5,114.5" stroke-width="0.92"/>
<path d="M354.5,113.5L353.5,112.5" stroke-width="0.55"/>
<path d="M364.5,113.5L365.5,113.5L366.5,112.5" stroke-width="0.78"/>
<path d="M371.5,113.5L371.5,112.5" stroke-width="0.56"/>
<path d="M379.5,113.5L378.5,112.5L377.5,111.5L377.5,110.5" stroke-width="0.64"/>
<path d="M347.5,114.5L346.5,115.5L345.5,116.5L344.5,116.5L343.5,117.5L342.5,117.5" stroke-width="0.94"/>
<path d="M357.5,114.5L356.5,115.5L355.5,116.5L354.5,117.5L353.5,118.5L353.5,119.5" stroke-width="0.78"/>
<path d="M361.5,114.5L362.5,113.5L363.5,113.5L364.5,113.5" stroke-width="0.72"/>
<path d="M374.5,114.5L374.5,113.5L374.5,112.5" stroke-width="0.80"/>
<path d="M376.5,114.5L375.5,113.5L374.5,112.5" stroke-width="0.80"/>
<path d="M344.5,115.5L343.5,116.5L342.5,117.5" stroke-width="0.94"/>
<path d="M348.5,115.5L347.5,115.5L346.5,116.5L345.5,117.5L344.5,118.5L343.5,118.5L342.5,118.5L341.5,119.5L340.5,120.5L339.5,121.5L338.5,122.5L337.5,123.5" stroke-width="0.69"/>
<path d="M357.5,115.5L356.5,116.5L355.5,117.5L354.5,118.5L354.5,119.5" stroke-width="0.64"/>
<path d="M373.5,115.5L374.5,114.5" stroke-width="0.56"/>
<path d="M366.5,116.5L365.5,117.5" stroke-width="0.56"/>
<path d="M374.5,116.5L374.5,115.5L374.5,114.5" stroke-width="0.56"/>
<path d="M351.5,117.5L350.5,118.5L349.5,119.5" stroke-width="0.86"/>
<path d="M352.5,117.5L352.5,118.5L352.5,119.5" stroke-width="0.81"/>
<path d="M363.5,117.5L364.5,118.5" stroke-width="0.66"/>
<path d="M365.5,117.5L364.5,118.5" stroke-width="0.66"/>
<path d="M366.5,117.5L365.5,117.5" stroke-width="0.56"/>
<path d="M370.5,117.5L371.5,117.5L372.5,117.5L372.5,118.5L372.5,119.5L372.5,120.5L372.5,121.5" stroke-width="0.85"/>
<path d="M379.5,117.5L378.5,116.5L377.5,115.5L376.5,114.5" stroke-width="0.67"/>
<path d="M345.5,118.5L345.5,119.5" stroke-width="0.51"/>
<path d="M346.5,118.5L345.5,119.5" stroke-width="0.51"/>
<path d="M359.5,118.5L359.5,119.5L360.5,120.5L361.5,120.5L362.5,121.5L363.5,121.5" stroke-width="0.87"/>
<path d="M364.5,118.5L364.5,119.5" stroke-width="0.71"/>
<path d="M345.5,119.5L345.5,120.5" stroke-width="0.92"/>
<path d="M349.5,119.5L348.5,119.5L347.5,119.5L346.5,120.5L345.5,120.5" stroke-width="0.92"/>
<path d="M352.5,119.5L351.5,119.5L350.5,119.5L349.5,119.5" stroke-width="0.86"/>
<path d="M353.5,119.5L352.5,119.5" stroke-width="0.81"/>
<path d="M354.5,119.5L353.5,119.5" stroke-width="0.78"/>
<path d="M355.5,119.5L354.5,119.5" stroke-width="0.64"/>
<path d="M363.5,119.5L364.5,119.5" stroke-width="0.71"/>
<path d="M364.5,119.5L364.5,120.5" stroke-width="0.80"/>
<path d="M379.5,119.5L378.5,118.5L377.5,118.5L377.5,117.5L377.5,116.5L376.5,115.5L376.5,114.5" stroke-width="0.67"/>
<path d="M364.5,120.5L363.5,121.5" stroke-width="0.87"/>
<path d="M367.5,120.5L366.5,119.5L365.5,119.5L364.5,120.5" stroke-width="0.80"/>
<path d="M374.5,120.5L373.5,121.5L372.5,121.5" stroke-width="0.85"/>
<path d="M377.5,120.5L376.5,119.5L375.5,119.5L374.5,120.5" stroke-width="0.71"/>
<path d="M347.5,121.5L346.5,121.5L345.5,122.5" stroke-width="0.63"/>
<path d="M348.5,121.5L347.5,121.5" stroke-width="0.56"/>
<path d="M356.5,121.5L355.5,121.5L354.5,120.5L353.5,119.5" stroke-width="0.78"/>
<path d="M363.5,121.5L363.5,122.5L362.5,123.5L361.5,123.5" stroke-width="0.96"/>
<path d="M365.5,121.5L365.5,120.5L364.5,120.5" stroke-width="0.80"/>
<path d="M371.5,121.5L372.5,121.5" stroke-width="0.85"/>
<path d="M372.5,121.5L372.5,122.5" stroke-width="0.87"/>
<path d="M349.5,122.5L348.5,122.5L347.5,121.5" stroke-width="0.56"/>
<path d="M371.5,122.5L372.5,122.5" stroke-width="0.87"/>
<path d="M372.5,122.5L372.5,123.5" stroke-width="0.90"/>
<path d="M359.5,123.5L359.5,124.5" stroke-width="0.98"/>
<path d="M361.5,123.5L360.5,124.5L359.5,124.5" stroke-width="0.98"/>
<path d="M366.5,123.5L366.5,124.5L365.5,125.5L364.5,126.5L363.5,125.5L362.5,124.5L361.5,123.5" stroke-width="0.96"/>
<path d="M372.5,123.5L372.5,124.5" stroke-width="0.91"/>
<path d="M373.5,123.5L372.5,123.5" stroke-width="0.90"/>
<path d="M355.5,124.5L354.5,123.5L353.5,123.5L353.5,124.5L352.5,124.5L351.5,124.5L350.5,124.5L349.5,125.5" stroke-width="0.73"/>
<path d="M359.5,124.5L358.5,125.5L357.5,126.5L357.5,127.5L357.5,128.5" stroke-width="1.02"/>
<path d="M372.5,124.5L372.5,125.5L372.5,126.5" stroke-width="0.95"/>
<path d="M373.5,124.5L372.5,124.5" stroke-width="0.91"/>
<path d="M378.5,124.5L377.5,123.5L376.5,122.5L376.5,121.5L375.5,120.5L374.5,120.5" stroke-width="0.71"/>
<path d="M349.5,125.5L348.5,125.5L347.5,126.5L346.5,127.5" stroke-width="0.81"/>
<path d="M353.5,126.5L352.5,125.5L351.5,125.5L350.5,125.5L349.5,125.5" stroke-width="0.73"/>
<path d="M359.5,126.5L358.5,127.5L357.5,128.5" stroke-width="1.02"/>
<path d="M372.5,126.5L371.5,127.5L372.5,128.5" stroke-width="0.99"/>
<path d="M375.5,126.5L374.5,126.5L373.5,126.5L372.5,126.5" stroke-width="0.95"/>
<path d="M351.5,127.5L350.5,127.5L349.5,127.5L348.5,127.5L347.5,127.5L346.5,127.5" stroke-width="0.81"/>
<path d="M366.5,127.5L367.5,127.5L368.5,128.5" stroke-width="0.66"/>
<path d="M368.5,127.5L368.5,128.5" stroke-width="0.66"/>
<path d="M369.5,127.5L368.5,128.5" stroke-width="0.66"/>
<path d="M358.5,128.5L357.5,128.5" stroke-width="1.02"/>
<path d="M369.5,128.5L368.5,128.5" stroke-width="0.66"/>
<path d="M378.5,128.5L377.5,128.5L376.5,128.5L375.5,128.5L374.5,128.5L373.5,128.5L372.5,128.5" stroke-width="0.99"/>
</g>
<path d="M280.0,18.0L285.0,18.0L285.5,26.0L286.0,28.8L290.0,37.7L294.9,47.6L300.8,52.5L305.7,60.4L309.7,69.3L310.6,74.0L313.6,81.9L315.6,89.8L317.6,97.7L318.5,103.6L319.5,108.5L322.5,113.4L325.4,117.4L328.4,122.3L332.4,128.2L333.5,131.0L280.0,131.0Z" fill="#fff"/>
<path d="M285.0,18.0L285.5,26.0L286.0,28.8L290.0,37.7L294.9,47.6L300.8,52.5L305.7,60.4L309.7,69.3L310.6,74.0L313.6,81.9L315.6,89.8L317.6,97.7L318.5,103.6L319.5,108.5L322.5,113.4L325.4,117.4L328.4,122.3L332.4,128.2L333.5,131.0" fill="none" stroke="#888" stroke-width="0.6"/>
</g>
<path d="M315.87,32.00L316.82,32.98L318.59,34.19L319.81,35.75L320.96,36.73L322.19,37.77L323.95,40.31L324.90,42.33L325.78,44.35L326.39,46.42L326.73,49.48L328.16,53.00L331.15,54.04L334.14,55.02L337.12,57.10L338.55,58.83L340.31,60.33L342.01,58.66L342.56,56.58L343.17,53.58L343.78,53.06L345.54,54.04L347.38,55.60L349.14,58.66L350.97,60.16L352.74,61.66L353.96,63.73L355.12,66.27L356.34,67.77L358.10,68.29L359.94,69.33L360.28,70.31L359.33,71.87L358.10,73.37L357.15,74.87L356.13,76.31L355.93,77.47L357.15,80.70L358.31,84.74L359.53,88.32L360.68,90.85L361.30,92.41L360.14,93.39L358.31,92.87L357.15,93.91L355.32,94.95L353.55,95.41L351.11,94.95L349.35,93.91L347.58,92.87L345.75,90.85L343.98,88.32L342.15,86.81L339.77,84.74L337.39,83.24L335.63,82.20L333.73,81.68L332.57,78.62L331.76,75.56L330.74,72.04L330.20,68.47L328.98,65.41L327.21,63.39L324.77,62.87L322.39,61.89L321.23,59.35L319.40,56.29L317.64,53.23L316.82,50.46L315.60,48.44L314.44,45.39L313.83,42.33L313.02,39.79L312.61,37.25L312.00,35.75L313.22,34.71L314.99,32.69Z" fill="none" stroke="#c01c3c" stroke-width="1.05" stroke-linejoin="round"/>
<rect x="315.7" y="47.8" width="2.9" height="4.2" fill="#fff"/>
<text x="366.0" y="31.7" font-size="11.60" textLength="13.0" lengthAdjust="spacingAndGlyphs" fill="#222" stroke="#222" stroke-width="0.2">(B)</text>
<ellipse cx="337.1" cy="64.6" rx="1.9" ry="2.2" fill="#fff"/>
<rect x="287.0" y="19.0" width="93.7" height="110.2" fill="none" stroke="#bbb" stroke-width="0.6"/>
<linearGradient id="gB" x1="0" y1="1" x2="0" y2="0"><stop offset="0" stop-color="#fff"/><stop offset="1" stop-color="#000"/></linearGradient>
<rect x="388.6" y="19.5" width="7" height="110" fill="url(#gB)" stroke="#999" stroke-width="0.4"/>
<text x="396.4" y="131.6" font-size="5.90" textLength="2.6" lengthAdjust="spacingAndGlyphs" fill="#444">0</text>
<text x="396.4" y="113.3" font-size="5.90" textLength="10.2" lengthAdjust="spacingAndGlyphs" fill="#444">1000</text>
<text x="396.4" y="95.0" font-size="5.90" textLength="10.2" lengthAdjust="spacingAndGlyphs" fill="#444">2000</text>
<text x="396.4" y="76.8" font-size="5.90" textLength="10.2" lengthAdjust="spacingAndGlyphs" fill="#444">3000</text>
<text x="396.4" y="58.5" font-size="5.90" textLength="10.2" lengthAdjust="spacingAndGlyphs" fill="#444">4000</text>
<text x="396.4" y="40.2" font-size="5.90" textLength="10.2" lengthAdjust="spacingAndGlyphs" fill="#444">5000</text>
<text x="396.4" y="21.9" font-size="5.90" textLength="10.2" lengthAdjust="spacingAndGlyphs" fill="#444">6000</text>
<text x="285.3" y="43.7" font-size="6.00" text-anchor="end" textLength="10.2" lengthAdjust="spacingAndGlyphs" fill="#2a2a2a">11°S</text>
<text x="285.3" y="87.5" font-size="6.00" text-anchor="end" textLength="10.2" lengthAdjust="spacingAndGlyphs" fill="#2a2a2a">13°S</text>
<text x="285.3" y="131.7" font-size="6.00" text-anchor="end" textLength="10.2" lengthAdjust="spacingAndGlyphs" fill="#2a2a2a">15°S</text>
<text x="305.6" y="137.1" font-size="6.20" text-anchor="middle" textLength="12.5" lengthAdjust="spacingAndGlyphs" fill="#222" stroke="#222" stroke-width="0.12">77°W</text>
<text x="342.5" y="137.1" font-size="6.20" text-anchor="middle" textLength="12.5" lengthAdjust="spacingAndGlyphs" fill="#222" stroke="#222" stroke-width="0.12">75°W</text>
<text x="379.4" y="137.1" font-size="6.20" text-anchor="middle" textLength="12.5" lengthAdjust="spacingAndGlyphs" fill="#222" stroke="#222" stroke-width="0.12">73°W</text>
<line x1="287" y1="41.6" x2="288.2" y2="41.6" stroke="#999" stroke-width="0.4"/>
<line x1="287" y1="63.5" x2="288.2" y2="63.5" stroke="#999" stroke-width="0.4"/>
<line x1="287" y1="85.4" x2="288.2" y2="85.4" stroke="#999" stroke-width="0.4"/>
<line x1="287" y1="107.3" x2="288.2" y2="107.3" stroke="#999" stroke-width="0.4"/>
<rect x="288.8" y="113.4" width="1.6" height="2.2" fill="#fff" stroke="#333" stroke-width="0.35"/>
<circle cx="289.4" cy="121.1" r="0.95" fill="#fff" stroke="#333" stroke-width="0.35"/>
<text x="290.9" y="116.5" font-size="5.00" textLength="30.9" lengthAdjust="spacingAndGlyphs" fill="#222">Marcapomacocha</text>
<text x="290.9" y="122.9" font-size="5.00" textLength="14.2" lengthAdjust="spacingAndGlyphs" fill="#222">Huayao</text>
<rect x="427.9" y="20.5" width="113.8" height="110.1" fill="none" stroke="#aaa" stroke-width="0.6"/>
<rect x="434.6" y="52.7" width="6.8" height="77.9" fill="#fff" stroke="#151515" stroke-width="1.15"/>
<text x="438.0" y="138.7" font-size="5.00" text-anchor="middle" textLength="2.2" lengthAdjust="spacingAndGlyphs" fill="#222">1</text>
<rect x="443.1" y="30.7" width="6.8" height="99.9" fill="#fff" stroke="#151515" stroke-width="1.15"/>
<text x="446.5" y="138.7" font-size="5.00" text-anchor="middle" textLength="2.2" lengthAdjust="spacingAndGlyphs" fill="#222">2</text>
<rect x="451.6" y="44.9" width="6.8" height="85.7" fill="#fff" stroke="#151515" stroke-width="1.15"/>
<text x="455.0" y="138.7" font-size="5.00" text-anchor="middle" textLength="2.2" lengthAdjust="spacingAndGlyphs" fill="#222">3</text>
<rect x="460.1" y="96.0" width="6.8" height="34.6" fill="#fff" stroke="#151515" stroke-width="1.15"/>
<text x="463.5" y="138.7" font-size="5.00" text-anchor="middle" textLength="2.2" lengthAdjust="spacingAndGlyphs" fill="#222">4</text>
<rect x="468.6" y="121.2" width="6.8" height="9.4" fill="#fff" stroke="#151515" stroke-width="1.15"/>
<text x="472.0" y="138.7" font-size="5.00" text-anchor="middle" textLength="2.2" lengthAdjust="spacingAndGlyphs" fill="#222">5</text>
<rect x="477.1" y="124.3" width="6.8" height="6.3" fill="#fff" stroke="#151515" stroke-width="1.15"/>
<text x="480.5" y="138.7" font-size="5.00" text-anchor="middle" textLength="2.2" lengthAdjust="spacingAndGlyphs" fill="#222">6</text>
<rect x="485.6" y="121.9" width="6.8" height="8.7" fill="#fff" stroke="#151515" stroke-width="1.15"/>
<text x="489.0" y="138.7" font-size="5.00" text-anchor="middle" textLength="2.2" lengthAdjust="spacingAndGlyphs" fill="#222">7</text>
<rect x="494.1" y="116.4" width="6.8" height="14.2" fill="#fff" stroke="#151515" stroke-width="1.15"/>
<text x="497.5" y="138.7" font-size="5.00" text-anchor="middle" textLength="2.2" lengthAdjust="spacingAndGlyphs" fill="#222">8</text>
<rect x="502.6" y="100.7" width="6.8" height="29.9" fill="#fff" stroke="#151515" stroke-width="1.15"/>
<text x="506.0" y="138.7" font-size="5.00" text-anchor="middle" textLength="2.2" lengthAdjust="spacingAndGlyphs" fill="#222">9</text>
<rect x="511.1" y="81.1" width="6.8" height="49.5" fill="#fff" stroke="#151515" stroke-width="1.15"/>
<text x="514.5" y="138.7" font-size="5.00" text-anchor="middle" textLength="4.2" lengthAdjust="spacingAndGlyphs" fill="#222">10</text>
<rect x="519.6" y="82.6" width="6.8" height="48.0" fill="#fff" stroke="#151515" stroke-width="1.15"/>
<text x="523.0" y="138.7" font-size="5.00" text-anchor="middle" textLength="4.2" lengthAdjust="spacingAndGlyphs" fill="#222">11</text>
<rect x="528.1" y="48.0" width="6.8" height="82.6" fill="#fff" stroke="#151515" stroke-width="1.15"/>
<text x="531.5" y="138.7" font-size="5.00" text-anchor="middle" textLength="4.2" lengthAdjust="spacingAndGlyphs" fill="#222">12</text>
<text x="426.5" y="132.3" font-size="4.80" text-anchor="end" textLength="2.0" lengthAdjust="spacingAndGlyphs" fill="#333">0</text>
<line x1="427.9" y1="130.6" x2="429.1" y2="130.6" stroke="#aaa" stroke-width="0.4"/>
<text x="426.5" y="116.6" font-size="4.80" text-anchor="end" textLength="4.2" lengthAdjust="spacingAndGlyphs" fill="#333">20</text>
<line x1="427.9" y1="114.9" x2="429.1" y2="114.9" stroke="#aaa" stroke-width="0.4"/>
<text x="426.5" y="100.8" font-size="4.80" text-anchor="end" textLength="4.2" lengthAdjust="spacingAndGlyphs" fill="#333">40</text>
<line x1="427.9" y1="99.1" x2="429.1" y2="99.1" stroke="#aaa" stroke-width="0.4"/>
<text x="426.5" y="85.1" font-size="4.80" text-anchor="end" textLength="4.2" lengthAdjust="spacingAndGlyphs" fill="#333">60</text>
<line x1="427.9" y1="83.4" x2="429.1" y2="83.4" stroke="#aaa" stroke-width="0.4"/>
<text x="426.5" y="69.4" font-size="4.80" text-anchor="end" textLength="4.2" lengthAdjust="spacingAndGlyphs" fill="#333">80</text>
<line x1="427.9" y1="67.7" x2="429.1" y2="67.7" stroke="#aaa" stroke-width="0.4"/>
<text x="426.5" y="53.7" font-size="4.80" text-anchor="end" textLength="6.9" lengthAdjust="spacingAndGlyphs" fill="#333">100</text>
<line x1="427.9" y1="52.0" x2="429.1" y2="52.0" stroke="#aaa" stroke-width="0.4"/>
<text x="426.5" y="37.9" font-size="4.80" text-anchor="end" textLength="6.9" lengthAdjust="spacingAndGlyphs" fill="#333">120</text>
<line x1="427.9" y1="36.2" x2="429.1" y2="36.2" stroke="#aaa" stroke-width="0.4"/>
<text x="426.5" y="22.2" font-size="4.80" text-anchor="end" textLength="6.9" lengthAdjust="spacingAndGlyphs" fill="#333">140</text>
<line x1="427.9" y1="20.5" x2="429.1" y2="20.5" stroke="#aaa" stroke-width="0.4"/>
<text transform="translate(417.6,76) rotate(-90)" font-size="4.6" text-anchor="middle" textLength="28" lengthAdjust="spacingAndGlyphs" fill="#333">mm/month</text>
<text x="439.8" y="7.9" font-size="6.00" textLength="87.0" lengthAdjust="spacingAndGlyphs" font-weight="bold" style="font-family:'Liberation Serif',serif" fill="#111">Monthly Mean Precipitation in the</text>
<text x="440.9" y="14.7" font-size="6.00" textLength="83.5" lengthAdjust="spacingAndGlyphs" font-weight="bold" style="font-family:'Liberation Serif',serif" fill="#111">Mantaro River Basin (2006-2019)</text>
<text x="525.8" y="32.6" font-size="11.00" textLength="13.2" lengthAdjust="spacingAndGlyphs" fill="#222" stroke="#222" stroke-width="0.25">(C)</text>
<line x1="438.0" y1="20.5" x2="438.0" y2="21.7" stroke="#999" stroke-width="0.4"/>
<line x1="438.0" y1="130.6" x2="438.0" y2="129.4" stroke="#999" stroke-width="0.4"/>
<line x1="446.5" y1="20.5" x2="446.5" y2="21.7" stroke="#999" stroke-width="0.4"/>
<line x1="446.5" y1="130.6" x2="446.5" y2="129.4" stroke="#999" stroke-width="0.4"/>
<line x1="455.0" y1="20.5" x2="455.0" y2="21.7" stroke="#999" stroke-width="0.4"/>
<line x1="455.0" y1="130.6" x2="455.0" y2="129.4" stroke="#999" stroke-width="0.4"/>
<line x1="463.5" y1="20.5" x2="463.5" y2="21.7" stroke="#999" stroke-width="0.4"/>
<line x1="463.5" y1="130.6" x2="463.5" y2="129.4" stroke="#999" stroke-width="0.4"/>
<line x1="472.0" y1="20.5" x2="472.0" y2="21.7" stroke="#999" stroke-width="0.4"/>
<line x1="472.0" y1="130.6" x2="472.0" y2="129.4" stroke="#999" stroke-width="0.4"/>
<line x1="480.5" y1="20.5" x2="480.5" y2="21.7" stroke="#999" stroke-width="0.4"/>
<line x1="480.5" y1="130.6" x2="480.5" y2="129.4" stroke="#999" stroke-width="0.4"/>
<line x1="489.0" y1="20.5" x2="489.0" y2="21.7" stroke="#999" stroke-width="0.4"/>
<line x1="489.0" y1="130.6" x2="489.0" y2="129.4" stroke="#999" stroke-width="0.4"/>
<line x1="497.5" y1="20.5" x2="497.5" y2="21.7" stroke="#999" stroke-width="0.4"/>
<line x1="497.5" y1="130.6" x2="497.5" y2="129.4" stroke="#999" stroke-width="0.4"/>
<line x1="506.0" y1="20.5" x2="506.0" y2="21.7" stroke="#999" stroke-width="0.4"/>
<line x1="506.0" y1="130.6" x2="506.0" y2="129.4" stroke="#999" stroke-width="0.4"/>
<line x1="514.5" y1="20.5" x2="514.5" y2="21.7" stroke="#999" stroke-width="0.4"/>
<line x1="514.5" y1="130.6" x2="514.5" y2="129.4" stroke="#999" stroke-width="0.4"/>
<line x1="523.0" y1="20.5" x2="523.0" y2="21.7" stroke="#999" stroke-width="0.4"/>
<line x1="523.0" y1="130.6" x2="523.0" y2="129.4" stroke="#999" stroke-width="0.4"/>
<line x1="531.5" y1="20.5" x2="531.5" y2="21.7" stroke="#999" stroke-width="0.4"/>
<line x1="531.5" y1="130.6" x2="531.5" y2="129.4" stroke="#999" stroke-width="0.4"/>
<line x1="540.5" y1="130.6" x2="541.7" y2="130.6" stroke="#999" stroke-width="0.4"/>
<line x1="540.5" y1="114.9" x2="541.7" y2="114.9" stroke="#999" stroke-width="0.4"/>
<line x1="540.5" y1="99.1" x2="541.7" y2="99.1" stroke="#999" stroke-width="0.4"/>
<line x1="540.5" y1="83.4" x2="541.7" y2="83.4" stroke="#999" stroke-width="0.4"/>
<line x1="540.5" y1="67.7" x2="541.7" y2="67.7" stroke="#999" stroke-width="0.4"/>
<line x1="540.5" y1="52.0" x2="541.7" y2="52.0" stroke="#999" stroke-width="0.4"/>
<line x1="540.5" y1="36.2" x2="541.7" y2="36.2" stroke="#999" stroke-width="0.4"/>
<line x1="540.5" y1="20.5" x2="541.7" y2="20.5" stroke="#999" stroke-width="0.4"/>
<rect x="286.7" y="151" width="94.2" height="116.7" fill="none" stroke="#bbb" stroke-width="0.6"/>
<filter id="fb0_6" x="-50%" y="-50%" width="200%" height="200%"><feGaussianBlur stdDeviation="0.6"/></filter>
<filter id="fb0_7" x="-50%" y="-50%" width="200%" height="200%"><feGaussianBlur stdDeviation="0.7"/></filter>
<filter id="fb0_8" x="-50%" y="-50%" width="200%" height="200%"><feGaussianBlur stdDeviation="0.8"/></filter>
<filter id="fb0_9" x="-50%" y="-50%" width="200%" height="200%"><feGaussianBlur stdDeviation="0.9"/></filter>
<filter id="fb1" x="-50%" y="-50%" width="200%" height="200%"><feGaussianBlur stdDeviation="1.0"/></filter>
<filter id="fb1_2" x="-50%" y="-50%" width="200%" height="200%"><feGaussianBlur stdDeviation="1.2"/></filter>
<filter id="fb1_5" x="-50%" y="-50%" width="200%" height="200%"><feGaussianBlur stdDeviation="1.5"/></filter>
<filter id="fb1_6" x="-50%" y="-50%" width="200%" height="200%"><feGaussianBlur stdDeviation="1.6"/></filter>
<filter id="fb2" x="-50%" y="-50%" width="200%" height="200%"><feGaussianBlur stdDeviation="2.0"/></filter>
<filter id="fb2_5" x="-50%" y="-50%" width="200%" height="200%"><feGaussianBlur stdDeviation="2.5"/></filter>
<clipPath id="clipD"><path d="M302.7,153.2L304.1,154.9L306.7,157.0L308.5,159.7L310.2,161.4L312.0,163.2L314.6,167.6L316.0,171.1L317.3,174.6L318.2,178.2L318.7,183.5L320.8,189.6L325.2,191.4L329.6,193.1L334.0,196.7L336.1,199.7L338.7,202.3L341.2,199.4L342.0,195.8L342.9,190.6L343.8,189.7L346.4,191.4L349.1,194.1L351.7,199.4L354.4,202.0L357.0,204.6L358.8,208.2L360.5,212.6L362.3,215.2L364.9,216.1L367.6,217.9L368.1,219.6L366.7,222.3L364.9,224.9L363.5,227.5L362.0,230.0L361.7,232.0L363.5,237.6L365.2,244.6L367.0,250.8L368.7,255.2L369.6,257.9L367.9,259.6L365.2,258.7L363.5,260.5L360.8,262.3L358.2,263.1L354.6,262.3L352.0,260.5L349.4,258.7L346.7,255.2L344.1,250.8L341.4,248.2L337.9,244.6L334.4,242.0L331.8,240.2L329.0,239.3L327.3,234.0L326.1,228.7L324.6,222.6L323.8,216.4L322.0,211.1L319.4,207.6L315.8,206.7L312.3,205.0L310.6,200.6L307.9,195.3L305.3,190.0L304.1,185.2L302.3,181.7L300.6,176.4L299.7,171.1L298.5,166.7L297.9,162.3L297.0,159.7L298.8,157.9L301.4,154.4Z"/></clipPath>
<g clip-path="url(#clipD)">
<path d="M302.7,153.2L304.1,154.9L306.7,157.0L308.5,159.7L310.2,161.4L312.0,163.2L314.6,167.6L316.0,171.1L317.3,174.6L318.2,178.2L318.7,183.5L320.8,189.6L325.2,191.4L329.6,193.1L334.0,196.7L336.1,199.7L338.7,202.3L341.2,199.4L342.0,195.8L342.9,190.6L343.8,189.7L346.4,191.4L349.1,194.1L351.7,199.4L354.4,202.0L357.0,204.6L358.8,208.2L360.5,212.6L362.3,215.2L364.9,216.1L367.6,217.9L368.1,219.6L366.7,222.3L364.9,224.9L363.5,227.5L362.0,230.0L361.7,232.0L363.5,237.6L365.2,244.6L367.0,250.8L368.7,255.2L369.6,257.9L367.9,259.6L365.2,258.7L363.5,260.5L360.8,262.3L358.2,263.1L354.6,262.3L352.0,260.5L349.4,258.7L346.7,255.2L344.1,250.8L341.4,248.2L337.9,244.6L334.4,242.0L331.8,240.2L329.0,239.3L327.3,234.0L326.1,228.7L324.6,222.6L323.8,216.4L322.0,211.1L319.4,207.6L315.8,206.7L312.3,205.0L310.6,200.6L307.9,195.3L305.3,190.0L304.1,185.2L302.3,181.7L300.6,176.4L299.7,171.1L298.5,166.7L297.9,162.3L297.0,159.7L298.8,157.9L301.4,154.4Z" fill="#3a3a9c"/>
<path d="M296.0,152.0L312.0,152.0L314.0,165.0L311.0,172.0L306.0,176.0L304.0,186.0L300.0,190.0L296.0,180.0 Z" fill="#1f93cc" filter="url(#fb0_9)"/>
<path d="M305.0,155.0L312.0,158.0L315.0,168.0L313.0,176.0L309.0,178.0L307.0,170.0L305.0,163.0 Z" fill="#2c6fd2" filter="url(#fb0_9)"/>
<path d="M299.0,165.0L303.0,166.0L304.0,178.0L302.0,182.0L299.0,178.0 Z" fill="#20a3c0" filter="url(#fb0_7)"/>
<ellipse cx="302.3" cy="173.8" rx="1.4" ry="3.6" transform="rotate(-10 302.3 173.8)" fill="#f0c232" filter="url(#fb0_6)"/>
<path d="M306.0,178.0L312.0,177.0L315.0,184.0L312.0,192.0L305.0,192.0L303.0,186.0 Z" fill="#3064cc" filter="url(#fb1_0)"/>
<ellipse cx="305.0" cy="189.0" rx="2.2" ry="2.5" transform="rotate(0 305.0 189.0)" fill="#22a0c0" filter="url(#fb0_8)"/>
<path d="M341.0,186.0L350.0,190.0L352.0,200.0L347.0,205.0L341.0,203.0 Z" fill="#25a4c2" filter="url(#fb0_9)"/>
<path d="M347.0,201.0L356.0,203.0L358.0,212.0L352.0,214.0L347.0,209.0 Z" fill="#2f7ccd" filter="url(#fb1_0)"/>
<path d="M357.0,206.0L364.0,213.0L369.0,218.0L367.0,226.0L362.0,228.0L359.0,220.0L356.0,212.0 Z" fill="#22a2c0" filter="url(#fb0_8)"/>
<ellipse cx="366.2" cy="219.3" rx="1.6" ry="2.3" transform="rotate(0 366.2 219.3)" fill="#d0d23e" filter="url(#fb0_6)"/>
<path d="M318.0,190.0L336.0,198.0L345.0,210.0L352.0,222.0L346.0,232.0L330.0,226.0L320.0,214.0L314.0,202.0 Z" fill="#372f92" filter="url(#fb1_6)"/>
<path d="M322.0,215.0L330.0,222.0L340.0,232.0L344.0,244.0L340.0,250.0L332.0,245.0L326.0,236.0L322.0,226.0 Z" fill="#2a82c8" filter="url(#fb1_0)"/>
<path d="M325.0,226.0L331.0,231.0L337.0,240.0L337.0,246.0L331.0,243.0L327.0,236.0 Z" fill="#22a0b8" filter="url(#fb0_8)"/>
<path d="M331.0,234.0L335.0,238.0L338.0,245.0L334.0,244.0 Z" fill="#30a8a0" filter="url(#fb0_7)"/>
<path d="M340.0,232.0L350.0,236.0L354.0,250.0L352.0,262.0L345.0,258.0L342.0,246.0 Z" fill="#3565ca" filter="url(#fb1_0)"/>
<path d="M350.0,222.0L358.0,224.0L360.0,236.0L354.0,238.0L349.0,230.0 Z" fill="#3d5cc2" filter="url(#fb1_2)"/>
<path d="M352.0,244.0L362.0,246.0L366.0,258.0L360.0,262.0L353.0,258.0 Z" fill="#3a6ccb" filter="url(#fb1_0)"/>
</g>
<path d="M302.7,153.2L304.1,154.9L306.7,157.0L308.5,159.7L310.2,161.4L312.0,163.2L314.6,167.6L316.0,171.1L317.3,174.6L318.2,178.2L318.7,183.5L320.8,189.6L325.2,191.4L329.6,193.1L334.0,196.7L336.1,199.7L338.7,202.3L341.2,199.4L342.0,195.8L342.9,190.6L343.8,189.7L346.4,191.4L349.1,194.1L351.7,199.4L354.4,202.0L357.0,204.6L358.8,208.2L360.5,212.6L362.3,215.2L364.9,216.1L367.6,217.9L368.1,219.6L366.7,222.3L364.9,224.9L363.5,227.5L362.0,230.0L361.7,232.0L363.5,237.6L365.2,244.6L367.0,250.8L368.7,255.2L369.6,257.9L367.9,259.6L365.2,258.7L363.5,260.5L360.8,262.3L358.2,263.1L354.6,262.3L352.0,260.5L349.4,258.7L346.7,255.2L344.1,250.8L341.4,248.2L337.9,244.6L334.4,242.0L331.8,240.2L329.0,239.3L327.3,234.0L326.1,228.7L324.6,222.6L323.8,216.4L322.0,211.1L319.4,207.6L315.8,206.7L312.3,205.0L310.6,200.6L307.9,195.3L305.3,190.0L304.1,185.2L302.3,181.7L300.6,176.4L299.7,171.1L298.5,166.7L297.9,162.3L297.0,159.7L298.8,157.9L301.4,154.4Z" fill="none" stroke="#fff" stroke-width="3.4" stroke-linejoin="round"/>
<path d="M303.0,153.0L304.1,155.0L305.5,155.8L306.6,157.1L307.4,158.5L309.0,159.2L310.7,160.9L311.6,163.5L313.2,164.5L314.1,165.9L313.9,167.9L315.3,169.3L315.5,171.3L316.7,172.8L317.1,174.7L318.3,176.3L318.0,178.2L317.8,180.0L318.5,181.7L318.4,183.6L319.0,185.1L320.4,186.3L319.9,188.2L320.7,189.7L322.4,189.9L324.0,190.1L325.0,191.9L326.7,191.9L328.0,192.8L329.2,193.5L330.5,194.2L331.4,195.4L333.0,195.7L333.6,197.0L335.1,198.2L335.6,200.2L337.0,201.4L338.2,201.9L339.5,200.5L340.8,199.3L342.3,197.8L341.9,195.8L342.5,194.1L342.3,192.3L342.9,190.6L343.9,189.6L345.2,190.4L346.3,191.5L347.7,192.8L348.6,194.4L349.5,195.5L349.8,197.0L350.6,198.3L351.2,199.9L352.9,200.9L354.8,201.6L355.3,203.7L356.4,204.9L357.4,206.7L358.7,208.2L359.1,209.8L360.3,211.0L360.1,212.9L361.3,214.0L362.4,214.9L365.3,215.6L366.0,217.4L366.9,218.1L368.6,219.9L367.0,220.7L366.8,222.4L366.2,223.9L365.2,225.0L363.8,226.0L363.0,227.2L363.3,229.1L361.8,230.0L362.3,231.8L361.8,233.5L362.8,234.7L362.5,236.4L362.8,237.8L363.8,239.0L363.5,240.6L364.8,241.7L365.5,243.1L365.1,244.6L366.3,246.0L366.5,247.6L366.7,249.2L366.8,250.9L368.0,252.1L368.8,253.5L368.2,255.4L369.4,256.5L369.1,257.4L368.1,259.0L366.5,259.3L365.2,258.7L363.5,260.5L362.0,261.2L360.8,262.2L358.2,263.0L356.4,262.5L355.0,261.8L353.3,261.4L351.9,260.6L350.9,259.3L349.1,258.9L348.3,257.7L348.2,255.9L346.7,255.2L345.9,253.7L344.3,252.6L344.0,250.9L342.8,249.4L340.9,248.7L340.4,246.9L339.2,245.7L337.5,245.1L336.8,243.6L335.5,242.9L334.6,241.8L333.0,241.3L331.9,239.9L330.5,239.4L328.3,239.5L327.8,237.7L328.1,235.7L328.0,233.8L326.5,232.3L326.4,230.5L326.2,228.7L325.5,227.2L325.2,225.7L324.7,224.2L324.4,222.6L324.5,221.0L323.9,219.5L323.8,218.0L324.2,216.3L322.5,214.9L322.7,212.8L322.3,210.9L320.9,210.1L319.9,209.0L319.5,207.2L317.5,207.5L315.6,207.1L314.0,205.9L312.6,204.9L311.2,203.7L310.9,202.2L310.4,200.7L310.4,199.0L309.2,198.0L309.1,196.4L307.5,195.5L307.0,194.1L306.8,192.6L306.5,191.1L305.2,190.0L304.5,188.5L303.9,186.9L304.1,185.2L302.8,183.7L302.7,181.6L302.2,179.8L300.7,178.3L300.3,176.5L300.8,174.6L300.2,172.8L300.1,171.0L299.1,169.7L298.4,168.3L298.2,166.7L298.7,165.2L297.8,163.8L297.7,162.4L296.9,159.6L298.7,157.8L299.6,156.7L301.0,155.9L301.1,154.0Z" fill="none" stroke="#0a0a0a" stroke-width="1.6" stroke-linejoin="miter"/>
<ellipse cx="332.6" cy="207.6" rx="1.5" ry="1.7" fill="#fff"/>
<text x="289.4" y="146.2" font-size="8.00" textLength="89.8" lengthAdjust="spacingAndGlyphs" fill="#1a1a1a" stroke="#1a1a1a" stroke-width="0.35">Avg. Annual Precipitation</text>
<text x="293.0" y="264.4" font-size="10.20" textLength="12.4" lengthAdjust="spacingAndGlyphs" fill="#1a1a1a" stroke="#1a1a1a" stroke-width="0.35">(D)</text>
<linearGradient id="gD" x1="0" y1="1" x2="0" y2="0"><stop offset="0.000" stop-color="#352a87"/><stop offset="0.125" stop-color="#0a5cd6"/><stop offset="0.250" stop-color="#1485d4"/><stop offset="0.375" stop-color="#0aa5c4"/><stop offset="0.500" stop-color="#38b79e"/><stop offset="0.625" stop-color="#8fbd74"/><stop offset="0.750" stop-color="#d2b858"/><stop offset="0.875" stop-color="#ecc536"/><stop offset="1.000" stop-color="#e2d62c"/></linearGradient>
<rect x="388.4" y="150.6" width="7.4" height="116.2" fill="url(#gD)"/>
<text x="397.3" y="267.3" font-size="5.80" textLength="6.1" lengthAdjust="spacingAndGlyphs" fill="#333">400</text>
<text x="397.3" y="250.9" font-size="5.80" textLength="6.1" lengthAdjust="spacingAndGlyphs" fill="#333">600</text>
<text x="397.3" y="234.6" font-size="5.80" textLength="6.1" lengthAdjust="spacingAndGlyphs" fill="#333">800</text>
<text x="397.3" y="218.2" font-size="5.80" textLength="8.2" lengthAdjust="spacingAndGlyphs" fill="#333">1000</text>
<text x="397.3" y="201.9" font-size="5.80" textLength="8.2" lengthAdjust="spacingAndGlyphs" fill="#333">1200</text>
<text x="397.3" y="185.5" font-size="5.80" textLength="8.2" lengthAdjust="spacingAndGlyphs" fill="#333">1400</text>
<text x="397.3" y="169.2" font-size="5.80" textLength="8.2" lengthAdjust="spacingAndGlyphs" fill="#333">1600</text>
<text x="397.3" y="152.8" font-size="5.80" textLength="8.2" lengthAdjust="spacingAndGlyphs" fill="#333">1800</text>
<text transform="translate(409.4,207) rotate(-90)" font-size="4.8" text-anchor="middle" textLength="5.4" lengthAdjust="spacingAndGlyphs" fill="#333">mm</text>
<text x="284.8" y="172.3" font-size="5.80" text-anchor="end" textLength="9.5" lengthAdjust="spacingAndGlyphs" fill="#333">11°S</text>
<text x="427.1" y="172.3" font-size="5.80" text-anchor="end" textLength="9.5" lengthAdjust="spacingAndGlyphs" fill="#333">11°S</text>
<text x="284.8" y="210.2" font-size="5.80" text-anchor="end" textLength="9.5" lengthAdjust="spacingAndGlyphs" fill="#333">12°S</text>
<text x="427.1" y="210.2" font-size="5.80" text-anchor="end" textLength="9.5" lengthAdjust="spacingAndGlyphs" fill="#333">12°S</text>
<text x="284.8" y="247.6" font-size="5.80" text-anchor="end" textLength="9.5" lengthAdjust="spacingAndGlyphs" fill="#333">13°S</text>
<text x="427.1" y="247.6" font-size="5.80" text-anchor="end" textLength="9.5" lengthAdjust="spacingAndGlyphs" fill="#333">13°S</text>
<line x1="286.7" y1="170.3" x2="287.9" y2="170.3" stroke="#aaa" stroke-width="0.4"/>
<line x1="379.8" y1="170.3" x2="381.0" y2="170.3" stroke="#aaa" stroke-width="0.4"/>
<line x1="429.0" y1="170.3" x2="430.2" y2="170.3" stroke="#aaa" stroke-width="0.4"/>
<line x1="522.1" y1="170.3" x2="523.3" y2="170.3" stroke="#aaa" stroke-width="0.4"/>
<line x1="286.7" y1="189.2" x2="287.9" y2="189.2" stroke="#aaa" stroke-width="0.4"/>
<line x1="379.8" y1="189.2" x2="381.0" y2="189.2" stroke="#aaa" stroke-width="0.4"/>
<line x1="429.0" y1="189.2" x2="430.2" y2="189.2" stroke="#aaa" stroke-width="0.4"/>
<line x1="522.1" y1="189.2" x2="523.3" y2="189.2" stroke="#aaa" stroke-width="0.4"/>
<line x1="286.7" y1="208.2" x2="287.9" y2="208.2" stroke="#aaa" stroke-width="0.4"/>
<line x1="379.8" y1="208.2" x2="381.0" y2="208.2" stroke="#aaa" stroke-width="0.4"/>
<line x1="429.0" y1="208.2" x2="430.2" y2="208.2" stroke="#aaa" stroke-width="0.4"/>
<line x1="522.1" y1="208.2" x2="523.3" y2="208.2" stroke="#aaa" stroke-width="0.4"/>
<line x1="286.7" y1="226.9" x2="287.9" y2="226.9" stroke="#aaa" stroke-width="0.4"/>
<line x1="379.8" y1="226.9" x2="381.0" y2="226.9" stroke="#aaa" stroke-width="0.4"/>
<line x1="429.0" y1="226.9" x2="430.2" y2="226.9" stroke="#aaa" stroke-width="0.4"/>
<line x1="522.1" y1="226.9" x2="523.3" y2="226.9" stroke="#aaa" stroke-width="0.4"/>
<line x1="286.7" y1="245.6" x2="287.9" y2="245.6" stroke="#aaa" stroke-width="0.4"/>
<line x1="379.8" y1="245.6" x2="381.0" y2="245.6" stroke="#aaa" stroke-width="0.4"/>
<line x1="429.0" y1="245.6" x2="430.2" y2="245.6" stroke="#aaa" stroke-width="0.4"/>
<line x1="522.1" y1="245.6" x2="523.3" y2="245.6" stroke="#aaa" stroke-width="0.4"/>
<line x1="286.7" y1="264.3" x2="287.9" y2="264.3" stroke="#aaa" stroke-width="0.4"/>
<line x1="379.8" y1="264.3" x2="381.0" y2="264.3" stroke="#aaa" stroke-width="0.4"/>
<line x1="429.0" y1="264.3" x2="430.2" y2="264.3" stroke="#aaa" stroke-width="0.4"/>
<line x1="522.1" y1="264.3" x2="523.3" y2="264.3" stroke="#aaa" stroke-width="0.4"/>
<text x="287.0" y="276.0" font-size="5.80" text-anchor="middle" textLength="9.6" lengthAdjust="spacingAndGlyphs" fill="#222">77°W</text>
<text x="429.0" y="276.0" font-size="5.80" text-anchor="middle" textLength="9.6" lengthAdjust="spacingAndGlyphs" fill="#222">77°W</text>
<text x="314.0" y="276.0" font-size="5.80" text-anchor="middle" textLength="9.6" lengthAdjust="spacingAndGlyphs" fill="#222">76°W</text>
<text x="455.9" y="276.0" font-size="5.80" text-anchor="middle" textLength="9.6" lengthAdjust="spacingAndGlyphs" fill="#222">76°W</text>
<text x="341.0" y="276.0" font-size="5.80" text-anchor="middle" textLength="9.6" lengthAdjust="spacingAndGlyphs" fill="#222">75°W</text>
<text x="483.4" y="276.0" font-size="5.80" text-anchor="middle" textLength="9.6" lengthAdjust="spacingAndGlyphs" fill="#222">75°W</text>
<text x="367.0" y="276.0" font-size="5.80" text-anchor="middle" textLength="9.6" lengthAdjust="spacingAndGlyphs" fill="#222">74°W</text>
<text x="510.3" y="276.0" font-size="5.80" text-anchor="middle" textLength="9.6" lengthAdjust="spacingAndGlyphs" fill="#222">74°W</text>
<line x1="287.0" y1="267.3" x2="287.0" y2="266.1" stroke="#aaa" stroke-width="0.4"/>
<line x1="429.3" y1="268" x2="429.3" y2="266.8" stroke="#aaa" stroke-width="0.4"/>
<line x1="300.5" y1="267.3" x2="300.5" y2="266.1" stroke="#aaa" stroke-width="0.4"/>
<line x1="442.8" y1="268" x2="442.8" y2="266.8" stroke="#aaa" stroke-width="0.4"/>
<line x1="314.0" y1="267.3" x2="314.0" y2="266.1" stroke="#aaa" stroke-width="0.4"/>
<line x1="456.3" y1="268" x2="456.3" y2="266.8" stroke="#aaa" stroke-width="0.4"/>
<line x1="327.5" y1="267.3" x2="327.5" y2="266.1" stroke="#aaa" stroke-width="0.4"/>
<line x1="469.8" y1="268" x2="469.8" y2="266.8" stroke="#aaa" stroke-width="0.4"/>
<line x1="341.0" y1="267.3" x2="341.0" y2="266.1" stroke="#aaa" stroke-width="0.4"/>
<line x1="483.3" y1="268" x2="483.3" y2="266.8" stroke="#aaa" stroke-width="0.4"/>
<line x1="354.0" y1="267.3" x2="354.0" y2="266.1" stroke="#aaa" stroke-width="0.4"/>
<line x1="496.3" y1="268" x2="496.3" y2="266.8" stroke="#aaa" stroke-width="0.4"/>
<line x1="367.0" y1="267.3" x2="367.0" y2="266.1" stroke="#aaa" stroke-width="0.4"/>
<line x1="509.3" y1="268" x2="509.3" y2="266.8" stroke="#aaa" stroke-width="0.4"/>
<rect x="429" y="150.5" width="94.8" height="117.5" fill="none" stroke="#bbb" stroke-width="0.6"/>
<clipPath id="clipE"><path d="M444.7,153.2L446.1,154.9L448.7,157.0L450.5,159.7L452.2,161.4L454.0,163.2L456.6,167.6L458.0,171.1L459.3,174.6L460.2,178.2L460.7,183.5L462.8,189.6L467.2,191.4L471.6,193.1L476.0,196.7L478.1,199.7L480.7,202.3L483.2,199.4L484.0,195.8L484.9,190.6L485.8,189.7L488.4,191.4L491.1,194.1L493.7,199.4L496.4,202.0L499.0,204.6L500.8,208.2L502.5,212.6L504.3,215.2L506.9,216.1L509.6,217.9L510.1,219.6L508.7,222.3L506.9,224.9L505.5,227.5L504.0,230.0L503.7,232.0L505.5,237.6L507.2,244.6L509.0,250.8L510.7,255.2L511.6,257.9L509.9,259.6L507.2,258.7L505.5,260.5L502.8,262.3L500.2,263.1L496.6,262.3L494.0,260.5L491.4,258.7L488.7,255.2L486.1,250.8L483.4,248.2L479.9,244.6L476.4,242.0L473.8,240.2L471.0,239.3L469.3,234.0L468.1,228.7L466.6,222.6L465.8,216.4L464.0,211.1L461.4,207.6L457.8,206.7L454.3,205.0L452.6,200.6L449.9,195.3L447.3,190.0L446.1,185.2L444.3,181.7L442.6,176.4L441.7,171.1L440.5,166.7L439.9,162.3L439.0,159.7L440.8,157.9L443.4,154.4Z"/></clipPath>
<g clip-path="url(#clipE)">
<path d="M444.7,153.2L446.1,154.9L448.7,157.0L450.5,159.7L452.2,161.4L454.0,163.2L456.6,167.6L458.0,171.1L459.3,174.6L460.2,178.2L460.7,183.5L462.8,189.6L467.2,191.4L471.6,193.1L476.0,196.7L478.1,199.7L480.7,202.3L483.2,199.4L484.0,195.8L484.9,190.6L485.8,189.7L488.4,191.4L491.1,194.1L493.7,199.4L496.4,202.0L499.0,204.6L500.8,208.2L502.5,212.6L504.3,215.2L506.9,216.1L509.6,217.9L510.1,219.6L508.7,222.3L506.9,224.9L505.5,227.5L504.0,230.0L503.7,232.0L505.5,237.6L507.2,244.6L509.0,250.8L510.7,255.2L511.6,257.9L509.9,259.6L507.2,258.7L505.5,260.5L502.8,262.3L500.2,263.1L496.6,262.3L494.0,260.5L491.4,258.7L488.7,255.2L486.1,250.8L483.4,248.2L479.9,244.6L476.4,242.0L473.8,240.2L471.0,239.3L469.3,234.0L468.1,228.7L466.6,222.6L465.8,216.4L464.0,211.1L461.4,207.6L457.8,206.7L454.3,205.0L452.6,200.6L449.9,195.3L447.3,190.0L446.1,185.2L444.3,181.7L442.6,176.4L441.7,171.1L440.5,166.7L439.9,162.3L439.0,159.7L440.8,157.9L443.4,154.4Z" fill="#1d479a"/>
<path d="M438.0,152.0L444.0,152.0L446.0,166.0L448.0,180.0L450.0,192.0L445.0,192.0L440.0,178.0 Z" fill="#1a378a" filter="url(#fb1_0)"/>
<path d="M453.0,160.0L460.0,166.0L462.0,184.0L466.0,192.0L460.0,196.0L456.0,184.0L453.0,172.0 Z" fill="#1a378a" filter="url(#fb1_0)"/>
<path d="M445.0,156.0L451.0,160.0L454.0,172.0L456.0,186.0L453.0,192.0L449.0,184.0L446.0,170.0 Z" fill="#2558aa" filter="url(#fb1_0)"/>
<path d="M450.0,192.0L460.0,196.0L468.0,201.0L466.0,208.0L455.0,206.0 Z" fill="#1f52a8" filter="url(#fb1_0)"/>
<path d="M460.0,194.0L472.0,198.0L480.0,204.0L480.0,216.0L472.0,216.0L464.0,208.0 Z" fill="#3a84c8" filter="url(#fb1_0)"/>
<path d="M468.0,202.0L476.0,203.0L479.0,212.0L472.0,213.0 Z" fill="#4aa6c8" filter="url(#fb0_8)"/>
<path d="M476.0,214.0L484.0,214.0L490.0,228.0L488.0,242.0L482.0,242.0L476.0,228.0 Z" fill="#1b3c8e" filter="url(#fb1_0)"/>
<path d="M483.0,186.0L492.0,190.0L494.0,201.0L488.0,203.0L484.0,198.0 Z" fill="#3d9fc8" filter="url(#fb0_8)"/>
<path d="M487.0,199.0L494.0,199.0L499.0,210.0L498.0,217.0L490.0,217.0 Z" fill="#a6c648" filter="url(#fb0_8)"/>
<path d="M490.0,202.0L496.0,203.0L498.0,212.0L492.0,213.0 Z" fill="#dcc432" filter="url(#fb0_7)"/>
<path d="M486.0,216.0L498.0,216.0L499.0,229.0L488.0,229.0 Z" fill="#5aac8a" filter="url(#fb0_9)"/>
<path d="M496.0,205.0L502.0,208.0L504.0,218.0L499.0,219.0L496.0,212.0 Z" fill="#e07e2a" filter="url(#fb0_7)"/>
<path d="M501.0,208.0L506.0,212.0L511.0,219.0L508.0,222.0L502.0,219.0 Z" fill="#d02424" filter="url(#fb0_6)"/>
<path d="M488.0,229.0L499.0,229.0L502.0,236.0L492.0,238.0 Z" fill="#3a92c6" filter="url(#fb1_0)"/>
<path d="M482.0,234.0L494.0,234.0L498.0,246.0L496.0,258.0L488.0,256.0L484.0,244.0 Z" fill="#3a98bc" filter="url(#fb1_0)"/>
<path d="M495.0,231.0L504.0,233.0L507.0,250.0L502.0,254.0L496.0,248.0 Z" fill="#78b86a" filter="url(#fb0_9)"/>
<path d="M497.5,236.0L503.0,238.0L504.5,249.0L499.0,249.0 Z" fill="#c4ce44" filter="url(#fb0_7)"/>
<path d="M464.0,218.0L474.0,226.0L482.0,242.0L486.0,252.0L480.0,252.0L472.0,240.0L466.0,230.0 Z" fill="#1b3c8e" filter="url(#fb1_0)"/>
<path d="M488.0,252.0L502.0,254.0L508.0,260.0L498.0,264.0L489.0,260.0 Z" fill="#2f78c0" filter="url(#fb1_0)"/>
</g>
<path d="M444.7,153.2L446.1,154.9L448.7,157.0L450.5,159.7L452.2,161.4L454.0,163.2L456.6,167.6L458.0,171.1L459.3,174.6L460.2,178.2L460.7,183.5L462.8,189.6L467.2,191.4L471.6,193.1L476.0,196.7L478.1,199.7L480.7,202.3L483.2,199.4L484.0,195.8L484.9,190.6L485.8,189.7L488.4,191.4L491.1,194.1L493.7,199.4L496.4,202.0L499.0,204.6L500.8,208.2L502.5,212.6L504.3,215.2L506.9,216.1L509.6,217.9L510.1,219.6L508.7,222.3L506.9,224.9L505.5,227.5L504.0,230.0L503.7,232.0L505.5,237.6L507.2,244.6L509.0,250.8L510.7,255.2L511.6,257.9L509.9,259.6L507.2,258.7L505.5,260.5L502.8,262.3L500.2,263.1L496.6,262.3L494.0,260.5L491.4,258.7L488.7,255.2L486.1,250.8L483.4,248.2L479.9,244.6L476.4,242.0L473.8,240.2L471.0,239.3L469.3,234.0L468.1,228.7L466.6,222.6L465.8,216.4L464.0,211.1L461.4,207.6L457.8,206.7L454.3,205.0L452.6,200.6L449.9,195.3L447.3,190.0L446.1,185.2L444.3,181.7L442.6,176.4L441.7,171.1L440.5,166.7L439.9,162.3L439.0,159.7L440.8,157.9L443.4,154.4Z" fill="none" stroke="#fff" stroke-width="3.4" stroke-linejoin="round"/>
<path d="M445.0,153.0L446.1,155.0L447.5,155.8L448.6,157.1L449.4,158.5L451.0,159.2L452.7,160.9L453.6,163.5L455.2,164.5L456.1,165.9L455.9,167.9L457.3,169.3L457.5,171.3L458.7,172.8L459.1,174.7L460.3,176.3L460.0,178.2L459.8,180.0L460.5,181.7L460.4,183.6L461.0,185.1L462.4,186.3L461.9,188.2L462.7,189.7L464.4,189.9L466.0,190.1L467.0,191.9L468.7,191.9L470.0,192.8L471.2,193.5L472.5,194.2L473.4,195.4L475.0,195.7L475.6,197.0L477.1,198.2L477.6,200.2L479.0,201.4L480.2,201.9L481.5,200.5L482.8,199.3L484.3,197.8L483.9,195.8L484.5,194.1L484.3,192.3L484.9,190.6L485.9,189.6L487.2,190.4L488.3,191.5L489.7,192.8L490.6,194.4L491.5,195.5L491.8,197.0L492.6,198.3L493.2,199.9L494.9,200.9L496.8,201.6L497.3,203.7L498.4,204.9L499.4,206.7L500.7,208.2L501.1,209.8L502.3,211.0L502.1,212.9L503.3,214.0L504.4,214.9L507.3,215.6L508.0,217.4L508.9,218.1L510.6,219.9L509.0,220.7L508.8,222.4L508.2,223.9L507.2,225.0L505.8,226.0L505.0,227.2L505.3,229.1L503.8,230.0L504.3,231.8L503.8,233.5L504.8,234.7L504.5,236.4L504.8,237.8L505.8,239.0L505.5,240.6L506.8,241.7L507.5,243.1L507.1,244.6L508.3,246.0L508.5,247.6L508.7,249.2L508.8,250.9L510.0,252.1L510.8,253.5L510.2,255.4L511.4,256.5L511.1,257.4L510.1,259.0L508.5,259.3L507.2,258.7L505.5,260.5L504.0,261.2L502.8,262.2L500.2,263.0L498.4,262.5L497.0,261.8L495.3,261.4L493.9,260.6L492.9,259.3L491.1,258.9L490.3,257.7L490.2,255.9L488.7,255.2L487.9,253.7L486.3,252.6L486.0,250.9L484.8,249.4L482.9,248.7L482.4,246.9L481.2,245.7L479.5,245.1L478.8,243.6L477.5,242.9L476.6,241.8L475.0,241.3L473.9,239.9L472.5,239.4L470.3,239.5L469.8,237.7L470.1,235.7L470.0,233.8L468.5,232.3L468.4,230.5L468.2,228.7L467.5,227.2L467.2,225.7L466.7,224.2L466.4,222.6L466.5,221.0L465.9,219.5L465.8,218.0L466.2,216.3L464.5,214.9L464.7,212.8L464.3,210.9L462.9,210.1L461.9,209.0L461.5,207.2L459.5,207.5L457.6,207.1L456.0,205.9L454.6,204.9L453.2,203.7L452.9,202.2L452.4,200.7L452.4,199.0L451.2,198.0L451.1,196.4L449.5,195.5L449.0,194.1L448.8,192.6L448.5,191.1L447.2,190.0L446.5,188.5L445.9,186.9L446.1,185.2L444.8,183.7L444.7,181.6L444.2,179.8L442.7,178.3L442.3,176.5L442.8,174.6L442.2,172.8L442.1,171.0L441.1,169.7L440.4,168.3L440.2,166.7L440.7,165.2L439.8,163.8L439.7,162.4L438.9,159.6L440.7,157.8L441.6,156.7L443.0,155.9L443.1,154.0Z" fill="none" stroke="#0a0a0a" stroke-width="1.6" stroke-linejoin="miter"/>
<ellipse cx="474.6" cy="207.4" rx="1.5" ry="1.7" fill="#fff"/>
<text x="432.8" y="146.1" font-size="8.00" textLength="90.3" lengthAdjust="spacingAndGlyphs" fill="#1a1a1a" stroke="#1a1a1a" stroke-width="0.35">Avg. Annual Temperature</text>
<text x="435.4" y="264.4" font-size="10.20" textLength="10.6" lengthAdjust="spacingAndGlyphs" fill="#1a1a1a" stroke="#1a1a1a" stroke-width="0.35">(E)</text>
<linearGradient id="gE" x1="0" y1="1" x2="0" y2="0"><stop offset="0.000" stop-color="#1a2a7c"/><stop offset="0.111" stop-color="#1f4f9e"/><stop offset="0.222" stop-color="#2672b4"/><stop offset="0.333" stop-color="#3392bd"/><stop offset="0.444" stop-color="#3aa3a0"/><stop offset="0.555" stop-color="#86b84c"/><stop offset="0.666" stop-color="#e2dc2c"/><stop offset="0.750" stop-color="#e09a2e"/><stop offset="0.833" stop-color="#d44028"/><stop offset="0.900" stop-color="#c21c38"/><stop offset="1.000" stop-color="#8c1a1e"/></linearGradient>
<rect x="532.1" y="150.8" width="5.6" height="117.2" fill="url(#gE)"/>
<text x="539.9" y="270.0" font-size="5.80" textLength="2.0" lengthAdjust="spacingAndGlyphs" fill="#333">2</text>
<text x="539.9" y="257.0" font-size="5.80" textLength="2.0" lengthAdjust="spacingAndGlyphs" fill="#333">4</text>
<text x="539.9" y="244.0" font-size="5.80" textLength="2.0" lengthAdjust="spacingAndGlyphs" fill="#333">6</text>
<text x="539.9" y="231.0" font-size="5.80" textLength="2.0" lengthAdjust="spacingAndGlyphs" fill="#333">8</text>
<text x="539.9" y="218.0" font-size="5.80" textLength="4.0" lengthAdjust="spacingAndGlyphs" fill="#333">10</text>
<text x="539.9" y="205.0" font-size="5.80" textLength="4.0" lengthAdjust="spacingAndGlyphs" fill="#333">12</text>
<text x="539.9" y="192.0" font-size="5.80" textLength="4.0" lengthAdjust="spacingAndGlyphs" fill="#333">14</text>
<text x="539.9" y="179.0" font-size="5.80" textLength="4.0" lengthAdjust="spacingAndGlyphs" fill="#333">16</text>
<text x="539.9" y="166.0" font-size="5.80" textLength="4.0" lengthAdjust="spacingAndGlyphs" fill="#333">18</text>
<text x="539.9" y="153.0" font-size="5.80" textLength="4.0" lengthAdjust="spacingAndGlyphs" fill="#333">20</text>
<text transform="translate(548.6,209.7) rotate(-90)" font-size="5.4" text-anchor="middle" fill="#333">C°</text>
</svg></body></html>
